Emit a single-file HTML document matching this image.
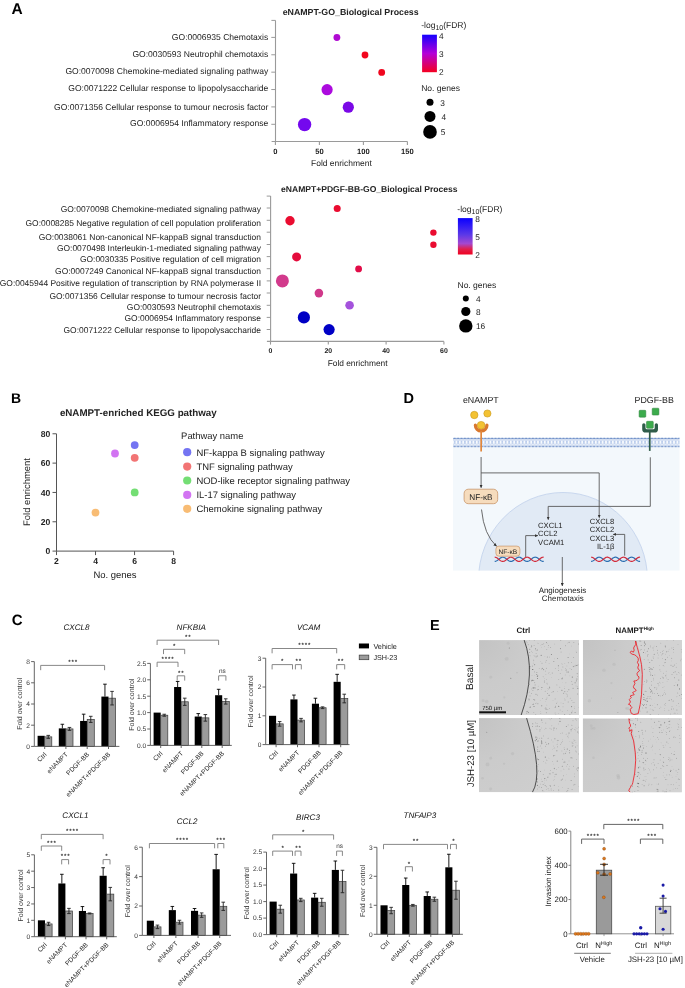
<!DOCTYPE html>
<html><head><meta charset="utf-8"><title>Figure</title>
<style>html,body{margin:0;padding:0;background:#fff;}svg{display:block;}text{font-family:'Liberation Sans', Arial, sans-serif;text-rendering:geometricPrecision;}</style>
</head><body>
<svg width="685" height="988" viewBox="0 0 685 988">
<rect width="685" height="988" fill="#fff"/>
<text x="11.60" y="14.18" font-size="15.5" font-weight="bold" fill="#000">A</text>
<text x="282.70" y="15.30" font-size="8.8" font-weight="bold" fill="#222">eNAMPT-GO_Biological Process</text>
<line x1="275.50" y1="20.40" x2="275.50" y2="141.50" stroke="#9a9a9a" stroke-width="1.1"/>
<line x1="271.40" y1="20.40" x2="275.50" y2="20.40" stroke="#9a9a9a" stroke-width="1"/>
<line x1="271.30" y1="37.40" x2="275.50" y2="37.40" stroke="#9a9a9a" stroke-width="1"/>
<text x="268.30" y="40.08" font-size="8.55" text-anchor="end" fill="#222">GO:0006935 Chemotaxis</text>
<line x1="271.30" y1="54.78" x2="275.50" y2="54.78" stroke="#9a9a9a" stroke-width="1"/>
<text x="268.30" y="57.28" font-size="8.55" text-anchor="end" fill="#222">GO:0030593 Neutrophil chemotaxis</text>
<line x1="271.30" y1="72.16" x2="275.50" y2="72.16" stroke="#9a9a9a" stroke-width="1"/>
<text x="268.30" y="74.38" font-size="8.55" text-anchor="end" fill="#222">GO:0070098 Chemokine-mediated signaling pathway</text>
<line x1="271.30" y1="89.54" x2="275.50" y2="89.54" stroke="#9a9a9a" stroke-width="1"/>
<text x="268.30" y="90.98" font-size="8.55" text-anchor="end" fill="#222">GO:0071222 Cellular response to lipopolysaccharide</text>
<line x1="271.30" y1="106.92" x2="275.50" y2="106.92" stroke="#9a9a9a" stroke-width="1"/>
<text x="268.30" y="109.78" font-size="8.55" text-anchor="end" fill="#222">GO:0071356 Cellular response to tumour necrosis factor</text>
<line x1="271.30" y1="124.30" x2="275.50" y2="124.30" stroke="#9a9a9a" stroke-width="1"/>
<text x="268.30" y="125.78" font-size="8.55" text-anchor="end" fill="#222">GO:0006954 Inflammatory response</text>
<line x1="271.60" y1="141.50" x2="407.40" y2="141.50" stroke="#9a9a9a" stroke-width="1.1"/>
<line x1="275.40" y1="141.50" x2="275.40" y2="145.00" stroke="#9a9a9a" stroke-width="1.1"/>
<text x="275.40" y="153.54" font-size="7.6" font-weight="bold" text-anchor="middle" fill="#222">0</text>
<line x1="319.40" y1="141.50" x2="319.40" y2="145.00" stroke="#9a9a9a" stroke-width="1.1"/>
<text x="319.40" y="153.54" font-size="7.6" font-weight="bold" text-anchor="middle" fill="#222">50</text>
<line x1="363.40" y1="141.50" x2="363.40" y2="145.00" stroke="#9a9a9a" stroke-width="1.1"/>
<text x="363.40" y="153.54" font-size="7.6" font-weight="bold" text-anchor="middle" fill="#222">100</text>
<line x1="407.40" y1="141.50" x2="407.40" y2="145.00" stroke="#9a9a9a" stroke-width="1.1"/>
<text x="407.40" y="153.54" font-size="7.6" font-weight="bold" text-anchor="middle" fill="#222">150</text>
<text x="341.40" y="165.95" font-size="8.47" text-anchor="middle" fill="#222">Fold enrichment</text>
<circle cx="336.90" cy="37.50" r="3.40" fill="#b00ad2"/>
<circle cx="365.00" cy="55.00" r="3.40" fill="#f2061e"/>
<circle cx="381.70" cy="72.40" r="3.40" fill="#f0061e"/>
<circle cx="327.10" cy="89.70" r="5.60" fill="#ac0ade"/>
<circle cx="348.30" cy="107.20" r="5.60" fill="#7a08e6"/>
<circle cx="304.60" cy="124.60" r="6.70" fill="#7408ee"/>
<defs><linearGradient id="g1" x1="0" y1="0" x2="0" y2="1"><stop offset="0" stop-color="#1400ff"/><stop offset="0.5" stop-color="#b400d8"/><stop offset="1" stop-color="#f40020"/></linearGradient><linearGradient id="g2" x1="0" y1="0" x2="0" y2="1"><stop offset="0" stop-color="#0a00ff"/><stop offset="0.45" stop-color="#5a38e8"/><stop offset="0.7" stop-color="#a448d0"/><stop offset="0.85" stop-color="#e0204c"/><stop offset="1" stop-color="#f00020"/></linearGradient></defs>
<text x="421.2" y="27.60" font-size="8.5" fill="#222">-log<tspan font-size="7" dy="2.2">10</tspan><tspan dy="-2.2">(FDR)</tspan></text>
<rect x="422.10" y="34.70" width="14.80" height="37.50" fill="url(#g1)"/>
<text x="439.00" y="38.79" font-size="8.3" fill="#222">4</text>
<text x="439.00" y="56.99" font-size="8.3" fill="#222">3</text>
<text x="439.00" y="75.39" font-size="8.3" fill="#222">2</text>
<text x="421.20" y="91.26" font-size="8.5" fill="#222">No. genes</text>
<circle cx="430.00" cy="102.30" r="3.50" fill="#000"/>
<text x="440.30" y="105.59" font-size="8.3" fill="#222">3</text>
<circle cx="430.00" cy="116.40" r="5.50" fill="#000"/>
<text x="441.40" y="119.69" font-size="8.3" fill="#222">4</text>
<circle cx="430.00" cy="131.90" r="6.80" fill="#000"/>
<text x="440.80" y="135.19" font-size="8.3" fill="#222">5</text>
<text x="281.10" y="191.50" font-size="8.56" font-weight="bold" fill="#222">eNAMPT+PDGF-BB-GO_Biological Process</text>
<line x1="270.60" y1="196.10" x2="270.60" y2="341.40" stroke="#9a9a9a" stroke-width="1.1"/>
<line x1="266.70" y1="196.10" x2="270.60" y2="196.10" stroke="#9a9a9a" stroke-width="1"/>
<line x1="266.70" y1="208.00" x2="270.60" y2="208.00" stroke="#9a9a9a" stroke-width="1"/>
<text x="261.00" y="211.94" font-size="8.45" text-anchor="end" fill="#222">GO:0070098 Chemokine-mediated signaling pathway</text>
<line x1="266.70" y1="220.30" x2="270.60" y2="220.30" stroke="#9a9a9a" stroke-width="1"/>
<text x="261.00" y="225.64" font-size="8.45" text-anchor="end" fill="#222">GO:0008285 Negative regulation of cell population proliferation</text>
<line x1="266.70" y1="232.20" x2="270.60" y2="232.20" stroke="#9a9a9a" stroke-width="1"/>
<text x="261.00" y="239.54" font-size="8.45" text-anchor="end" fill="#222">GO:0038061 Non-canonical NF-kappaB signal transduction</text>
<line x1="266.70" y1="244.50" x2="270.60" y2="244.50" stroke="#9a9a9a" stroke-width="1"/>
<text x="261.00" y="251.14" font-size="8.45" text-anchor="end" fill="#222">GO:0070498 Interleukin-1-mediated signaling pathway</text>
<line x1="266.70" y1="256.60" x2="270.60" y2="256.60" stroke="#9a9a9a" stroke-width="1"/>
<text x="261.00" y="262.44" font-size="8.45" text-anchor="end" fill="#222">GO:0030335 Positive regulation of cell migration</text>
<line x1="266.70" y1="268.70" x2="270.60" y2="268.70" stroke="#9a9a9a" stroke-width="1"/>
<text x="261.00" y="274.04" font-size="8.45" text-anchor="end" fill="#222">GO:0007249 Canonical NF-kappaB signal transduction</text>
<line x1="266.70" y1="280.90" x2="270.60" y2="280.90" stroke="#9a9a9a" stroke-width="1"/>
<text x="261.00" y="286.34" font-size="8.45" text-anchor="end" fill="#222">GO:0045944 Positive regulation of transcription by RNA polymerase II</text>
<line x1="266.70" y1="293.00" x2="270.60" y2="293.00" stroke="#9a9a9a" stroke-width="1"/>
<text x="261.00" y="298.84" font-size="8.45" text-anchor="end" fill="#222">GO:0071356 Cellular response to tumour necrosis factor</text>
<line x1="266.70" y1="305.30" x2="270.60" y2="305.30" stroke="#9a9a9a" stroke-width="1"/>
<text x="261.00" y="310.04" font-size="8.45" text-anchor="end" fill="#222">GO:0030593 Neutrophil chemotaxis</text>
<line x1="266.70" y1="317.40" x2="270.60" y2="317.40" stroke="#9a9a9a" stroke-width="1"/>
<text x="261.00" y="321.24" font-size="8.45" text-anchor="end" fill="#222">GO:0006954 Inflammatory response</text>
<line x1="266.70" y1="329.50" x2="270.60" y2="329.50" stroke="#9a9a9a" stroke-width="1"/>
<text x="261.00" y="332.94" font-size="8.45" text-anchor="end" fill="#222">GO:0071222 Cellular response to lipopolysaccharide</text>
<line x1="266.90" y1="341.40" x2="443.90" y2="341.40" stroke="#9a9a9a" stroke-width="1.1"/>
<line x1="270.50" y1="341.40" x2="270.50" y2="344.60" stroke="#9a9a9a" stroke-width="1.1"/>
<text x="270.50" y="352.68" font-size="6.9" font-weight="bold" text-anchor="middle" fill="#222">0</text>
<line x1="328.30" y1="341.40" x2="328.30" y2="344.60" stroke="#9a9a9a" stroke-width="1.1"/>
<text x="328.30" y="352.68" font-size="6.9" font-weight="bold" text-anchor="middle" fill="#222">20</text>
<line x1="386.10" y1="341.40" x2="386.10" y2="344.60" stroke="#9a9a9a" stroke-width="1.1"/>
<text x="386.10" y="352.68" font-size="6.9" font-weight="bold" text-anchor="middle" fill="#222">40</text>
<line x1="443.90" y1="341.40" x2="443.90" y2="344.60" stroke="#9a9a9a" stroke-width="1.1"/>
<text x="443.90" y="352.68" font-size="6.9" font-weight="bold" text-anchor="middle" fill="#222">60</text>
<text x="357.60" y="365.71" font-size="8.37" text-anchor="middle" fill="#222">Fold enrichment</text>
<circle cx="337.20" cy="208.50" r="3.50" fill="#ea0c30"/>
<circle cx="290.00" cy="220.70" r="4.70" fill="#ea0c30"/>
<circle cx="433.40" cy="232.60" r="3.20" fill="#ea0c30"/>
<circle cx="433.40" cy="244.70" r="3.20" fill="#ea0c30"/>
<circle cx="296.60" cy="256.90" r="4.50" fill="#e40c3c"/>
<circle cx="358.60" cy="268.90" r="3.40" fill="#e20c48"/>
<circle cx="282.40" cy="280.90" r="6.50" fill="#d23a8c"/>
<circle cx="318.90" cy="293.10" r="4.30" fill="#d0388a"/>
<circle cx="349.60" cy="305.30" r="4.30" fill="#a452dc"/>
<circle cx="303.90" cy="317.40" r="6.10" fill="#0000c4"/>
<circle cx="329.10" cy="329.60" r="5.60" fill="#0000c6"/>
<text x="457.3" y="212.00" font-size="8.5" fill="#222">-log<tspan font-size="7" dy="2.2">10</tspan><tspan dy="-2.2">(FDR)</tspan></text>
<rect x="457.90" y="218.10" width="14.70" height="36.40" fill="url(#g2)"/>
<text x="475.20" y="221.69" font-size="8.3" fill="#222">8</text>
<text x="475.20" y="239.59" font-size="8.3" fill="#222">5</text>
<text x="475.20" y="258.19" font-size="8.3" fill="#222">2</text>
<text x="457.50" y="287.96" font-size="8.5" fill="#222">No. genes</text>
<circle cx="465.80" cy="298.50" r="3.00" fill="#000"/>
<text x="476.00" y="301.69" font-size="8.3" fill="#222">4</text>
<circle cx="465.80" cy="311.50" r="4.60" fill="#000"/>
<text x="476.00" y="314.69" font-size="8.3" fill="#222">8</text>
<circle cx="465.80" cy="325.90" r="6.70" fill="#000"/>
<text x="476.00" y="329.09" font-size="8.3" fill="#222">16</text>
<text x="11.00" y="403.24" font-size="14" font-weight="bold" fill="#000">B</text>
<text x="59.90" y="416.10" font-size="9.78" font-weight="bold" fill="#222">eNAMPT-enriched KEGG pathway</text>
<line x1="56.50" y1="433.80" x2="56.50" y2="551.10" stroke="#555" stroke-width="1"/>
<line x1="52.50" y1="551.10" x2="56.50" y2="551.10" stroke="#555" stroke-width="1"/>
<text x="50.30" y="554.20" font-size="8.6" font-weight="bold" text-anchor="end" fill="#222">0</text>
<line x1="52.50" y1="521.77" x2="56.50" y2="521.77" stroke="#555" stroke-width="1"/>
<text x="50.30" y="524.87" font-size="8.6" font-weight="bold" text-anchor="end" fill="#222">20</text>
<line x1="52.50" y1="492.44" x2="56.50" y2="492.44" stroke="#555" stroke-width="1"/>
<text x="50.30" y="495.54" font-size="8.6" font-weight="bold" text-anchor="end" fill="#222">40</text>
<line x1="52.50" y1="463.11" x2="56.50" y2="463.11" stroke="#555" stroke-width="1"/>
<text x="50.30" y="466.21" font-size="8.6" font-weight="bold" text-anchor="end" fill="#222">60</text>
<line x1="52.50" y1="433.78" x2="56.50" y2="433.78" stroke="#555" stroke-width="1"/>
<text x="50.30" y="436.88" font-size="8.6" font-weight="bold" text-anchor="end" fill="#222">80</text>
<line x1="56.50" y1="551.10" x2="173.60" y2="551.10" stroke="#555" stroke-width="1"/>
<line x1="56.50" y1="551.10" x2="56.50" y2="555.10" stroke="#555" stroke-width="1"/>
<text x="56.50" y="563.90" font-size="8.6" font-weight="bold" text-anchor="middle" fill="#222">2</text>
<line x1="95.53" y1="551.10" x2="95.53" y2="555.10" stroke="#555" stroke-width="1"/>
<text x="95.53" y="563.90" font-size="8.6" font-weight="bold" text-anchor="middle" fill="#222">4</text>
<line x1="134.56" y1="551.10" x2="134.56" y2="555.10" stroke="#555" stroke-width="1"/>
<text x="134.56" y="563.90" font-size="8.6" font-weight="bold" text-anchor="middle" fill="#222">6</text>
<line x1="173.59" y1="551.10" x2="173.59" y2="555.10" stroke="#555" stroke-width="1"/>
<text x="173.59" y="563.90" font-size="8.6" font-weight="bold" text-anchor="middle" fill="#222">8</text>
<text x="115.00" y="578.41" font-size="9.46" text-anchor="middle" fill="#222">No. genes</text>
<text transform="translate(29.90,492) rotate(-90)" font-size="9.48" text-anchor="middle" fill="#222">Fold enrichment</text>
<circle cx="134.70" cy="445.10" r="3.90" fill="#7474f2"/>
<circle cx="134.70" cy="457.80" r="3.90" fill="#f27474"/>
<circle cx="134.70" cy="492.40" r="3.90" fill="#74de74"/>
<circle cx="115.00" cy="453.50" r="3.90" fill="#d274f2"/>
<circle cx="95.50" cy="512.60" r="3.90" fill="#f8bc74"/>
<text x="181.10" y="439.49" font-size="9.43" fill="#222">Pathway name</text>
<circle cx="187.20" cy="452.20" r="4.10" fill="#7474f2"/>
<text x="196.40" y="455.61" font-size="9.48" fill="#222">NF-kappa B signaling pathway</text>
<circle cx="187.20" cy="466.60" r="4.10" fill="#f27474"/>
<text x="196.40" y="470.01" font-size="9.48" fill="#222">TNF signaling pathway</text>
<circle cx="187.20" cy="480.50" r="4.10" fill="#74de74"/>
<text x="196.40" y="483.91" font-size="9.48" fill="#222">NOD-like receptor signaling pathway</text>
<circle cx="187.20" cy="494.90" r="4.10" fill="#d274f2"/>
<text x="196.40" y="498.31" font-size="9.48" fill="#222">IL-17 signaling pathway</text>
<circle cx="187.20" cy="508.80" r="4.10" fill="#f8bc74"/>
<text x="196.40" y="512.21" font-size="9.48" fill="#222">Chemokine signaling pathway</text>
<text x="11.80" y="625.00" font-size="15" font-weight="bold" fill="#000">C</text>
<text x="76.50" y="630.02" font-size="8.1" font-style="italic" text-anchor="middle" fill="#111">CXCL8</text>
<rect x="37.60" y="735.80" width="7.10" height="10.60" fill="#000"/>
<rect x="44.70" y="736.86" width="7.10" height="9.54" fill="#9b9b9b" stroke="#3a3a3a" stroke-width="0.7"/>
<line x1="48.25" y1="735.38" x2="48.25" y2="738.34" stroke="#222" stroke-width="0.9"/>
<line x1="46.45" y1="735.38" x2="50.05" y2="735.38" stroke="#222" stroke-width="0.9"/>
<line x1="46.45" y1="738.34" x2="50.05" y2="738.34" stroke="#222" stroke-width="0.9"/>
<line x1="62.35" y1="724.25" x2="62.35" y2="728.38" stroke="#000" stroke-width="0.9"/>
<line x1="60.55" y1="724.25" x2="64.15" y2="724.25" stroke="#000" stroke-width="0.9"/>
<rect x="58.80" y="728.38" width="7.10" height="18.02" fill="#000"/>
<rect x="65.90" y="728.91" width="7.10" height="17.49" fill="#9b9b9b" stroke="#3a3a3a" stroke-width="0.7"/>
<line x1="69.45" y1="727.43" x2="69.45" y2="730.39" stroke="#222" stroke-width="0.9"/>
<line x1="67.65" y1="727.43" x2="71.25" y2="727.43" stroke="#222" stroke-width="0.9"/>
<line x1="67.65" y1="730.39" x2="71.25" y2="730.39" stroke="#222" stroke-width="0.9"/>
<line x1="83.65" y1="714.18" x2="83.65" y2="720.96" stroke="#000" stroke-width="0.9"/>
<line x1="81.85" y1="714.18" x2="85.45" y2="714.18" stroke="#000" stroke-width="0.9"/>
<rect x="80.10" y="720.96" width="7.10" height="25.44" fill="#000"/>
<rect x="87.20" y="719.37" width="7.10" height="27.03" fill="#9b9b9b" stroke="#3a3a3a" stroke-width="0.7"/>
<line x1="90.75" y1="716.30" x2="90.75" y2="722.44" stroke="#222" stroke-width="0.9"/>
<line x1="88.95" y1="716.30" x2="92.55" y2="716.30" stroke="#222" stroke-width="0.9"/>
<line x1="88.95" y1="722.44" x2="92.55" y2="722.44" stroke="#222" stroke-width="0.9"/>
<line x1="104.95" y1="684.18" x2="104.95" y2="696.58" stroke="#000" stroke-width="0.9"/>
<line x1="103.15" y1="684.18" x2="106.75" y2="684.18" stroke="#000" stroke-width="0.9"/>
<rect x="101.40" y="696.58" width="7.10" height="49.82" fill="#000"/>
<rect x="108.50" y="698.17" width="7.10" height="48.23" fill="#9b9b9b" stroke="#3a3a3a" stroke-width="0.7"/>
<line x1="112.05" y1="691.39" x2="112.05" y2="704.95" stroke="#222" stroke-width="0.9"/>
<line x1="110.25" y1="691.39" x2="113.85" y2="691.39" stroke="#222" stroke-width="0.9"/>
<line x1="110.25" y1="704.95" x2="113.85" y2="704.95" stroke="#222" stroke-width="0.9"/>
<line x1="34.30" y1="661.60" x2="34.30" y2="746.40" stroke="#555" stroke-width="0.9"/>
<line x1="31.10" y1="746.40" x2="34.30" y2="746.40" stroke="#555" stroke-width="0.9"/>
<text x="30.00" y="748.78" font-size="6.6" text-anchor="end" fill="#333">0</text>
<line x1="31.10" y1="725.20" x2="34.30" y2="725.20" stroke="#555" stroke-width="0.9"/>
<text x="30.00" y="727.58" font-size="6.6" text-anchor="end" fill="#333">2</text>
<line x1="31.10" y1="704.00" x2="34.30" y2="704.00" stroke="#555" stroke-width="0.9"/>
<text x="30.00" y="706.38" font-size="6.6" text-anchor="end" fill="#333">4</text>
<line x1="31.10" y1="682.80" x2="34.30" y2="682.80" stroke="#555" stroke-width="0.9"/>
<text x="30.00" y="685.18" font-size="6.6" text-anchor="end" fill="#333">6</text>
<line x1="31.10" y1="661.60" x2="34.30" y2="661.60" stroke="#555" stroke-width="0.9"/>
<text x="30.00" y="663.98" font-size="6.6" text-anchor="end" fill="#333">8</text>
<line x1="34.30" y1="746.40" x2="119.40" y2="746.40" stroke="#555" stroke-width="0.9"/>
<line x1="44.70" y1="746.40" x2="44.70" y2="749.00" stroke="#555" stroke-width="0.9"/>
<line x1="65.90" y1="746.40" x2="65.90" y2="749.00" stroke="#555" stroke-width="0.9"/>
<line x1="87.20" y1="746.40" x2="87.20" y2="749.00" stroke="#555" stroke-width="0.9"/>
<line x1="108.50" y1="746.40" x2="108.50" y2="749.00" stroke="#555" stroke-width="0.9"/>
<text transform="translate(47.10,755.00) rotate(-45)" font-size="6.6" text-anchor="end" fill="#2a2a2a">Ctrl</text>
<text transform="translate(68.30,755.00) rotate(-45)" font-size="6.6" text-anchor="end" fill="#2a2a2a">eNAMPT</text>
<text transform="translate(89.60,755.00) rotate(-45)" font-size="6.6" text-anchor="end" fill="#2a2a2a">PDGF-BB</text>
<text transform="translate(110.90,755.00) rotate(-45)" font-size="6.6" text-anchor="end" fill="#2a2a2a">eNAMPT+PDGF-BB</text>
<text transform="translate(22.00,703.80) rotate(-90)" font-size="7.0" text-anchor="middle" fill="#333">Fold over control</text>
<path d="M40.70,670.20V665.40H104.60V670.20" fill="none" stroke="#7a7a7a" stroke-width="0.9"/>
<text x="73.07" y="664.23" font-size="6.2" font-weight="bold" text-anchor="middle" fill="#333" letter-spacing="0.85">***</text>
<text x="191.20" y="629.82" font-size="8.1" font-style="italic" text-anchor="middle" fill="#111">NFKBIA</text>
<rect x="153.60" y="712.60" width="7.10" height="32.80" fill="#000"/>
<rect x="160.70" y="715.22" width="7.10" height="30.18" fill="#9b9b9b" stroke="#3a3a3a" stroke-width="0.7"/>
<line x1="164.25" y1="714.24" x2="164.25" y2="716.21" stroke="#222" stroke-width="0.9"/>
<line x1="162.45" y1="714.24" x2="166.05" y2="714.24" stroke="#222" stroke-width="0.9"/>
<line x1="162.45" y1="716.21" x2="166.05" y2="716.21" stroke="#222" stroke-width="0.9"/>
<line x1="177.65" y1="681.44" x2="177.65" y2="687.02" stroke="#000" stroke-width="0.9"/>
<line x1="175.85" y1="681.44" x2="179.45" y2="681.44" stroke="#000" stroke-width="0.9"/>
<rect x="174.10" y="687.02" width="7.10" height="58.38" fill="#000"/>
<rect x="181.20" y="701.78" width="7.10" height="43.62" fill="#9b9b9b" stroke="#3a3a3a" stroke-width="0.7"/>
<line x1="184.75" y1="698.17" x2="184.75" y2="705.38" stroke="#222" stroke-width="0.9"/>
<line x1="182.95" y1="698.17" x2="186.55" y2="698.17" stroke="#222" stroke-width="0.9"/>
<line x1="182.95" y1="705.38" x2="186.55" y2="705.38" stroke="#222" stroke-width="0.9"/>
<line x1="198.25" y1="713.58" x2="198.25" y2="716.54" stroke="#000" stroke-width="0.9"/>
<line x1="196.45" y1="713.58" x2="200.05" y2="713.58" stroke="#000" stroke-width="0.9"/>
<rect x="194.70" y="716.54" width="7.10" height="28.86" fill="#000"/>
<rect x="201.80" y="717.85" width="7.10" height="27.55" fill="#9b9b9b" stroke="#3a3a3a" stroke-width="0.7"/>
<line x1="205.35" y1="714.57" x2="205.35" y2="721.13" stroke="#222" stroke-width="0.9"/>
<line x1="203.55" y1="714.57" x2="207.15" y2="714.57" stroke="#222" stroke-width="0.9"/>
<line x1="203.55" y1="721.13" x2="207.15" y2="721.13" stroke="#222" stroke-width="0.9"/>
<line x1="218.65" y1="689.31" x2="218.65" y2="695.22" stroke="#000" stroke-width="0.9"/>
<line x1="216.85" y1="689.31" x2="220.45" y2="689.31" stroke="#000" stroke-width="0.9"/>
<rect x="215.10" y="695.22" width="7.10" height="50.18" fill="#000"/>
<rect x="222.20" y="701.45" width="7.10" height="43.95" fill="#9b9b9b" stroke="#3a3a3a" stroke-width="0.7"/>
<line x1="225.75" y1="698.82" x2="225.75" y2="704.07" stroke="#222" stroke-width="0.9"/>
<line x1="223.95" y1="698.82" x2="227.55" y2="698.82" stroke="#222" stroke-width="0.9"/>
<line x1="223.95" y1="704.07" x2="227.55" y2="704.07" stroke="#222" stroke-width="0.9"/>
<line x1="150.40" y1="663.40" x2="150.40" y2="745.40" stroke="#555" stroke-width="0.9"/>
<line x1="147.20" y1="745.40" x2="150.40" y2="745.40" stroke="#555" stroke-width="0.9"/>
<text x="146.10" y="747.78" font-size="6.6" text-anchor="end" fill="#333">0.0</text>
<line x1="147.20" y1="729.00" x2="150.40" y2="729.00" stroke="#555" stroke-width="0.9"/>
<text x="146.10" y="731.38" font-size="6.6" text-anchor="end" fill="#333">0.5</text>
<line x1="147.20" y1="712.60" x2="150.40" y2="712.60" stroke="#555" stroke-width="0.9"/>
<text x="146.10" y="714.98" font-size="6.6" text-anchor="end" fill="#333">1.0</text>
<line x1="147.20" y1="696.20" x2="150.40" y2="696.20" stroke="#555" stroke-width="0.9"/>
<text x="146.10" y="698.58" font-size="6.6" text-anchor="end" fill="#333">1.5</text>
<line x1="147.20" y1="679.80" x2="150.40" y2="679.80" stroke="#555" stroke-width="0.9"/>
<text x="146.10" y="682.18" font-size="6.6" text-anchor="end" fill="#333">2.0</text>
<line x1="147.20" y1="663.40" x2="150.40" y2="663.40" stroke="#555" stroke-width="0.9"/>
<text x="146.10" y="665.78" font-size="6.6" text-anchor="end" fill="#333">2.5</text>
<line x1="150.40" y1="745.40" x2="231.80" y2="745.40" stroke="#555" stroke-width="0.9"/>
<line x1="160.70" y1="745.40" x2="160.70" y2="748.00" stroke="#555" stroke-width="0.9"/>
<line x1="181.20" y1="745.40" x2="181.20" y2="748.00" stroke="#555" stroke-width="0.9"/>
<line x1="201.80" y1="745.40" x2="201.80" y2="748.00" stroke="#555" stroke-width="0.9"/>
<line x1="222.20" y1="745.40" x2="222.20" y2="748.00" stroke="#555" stroke-width="0.9"/>
<text transform="translate(163.10,754.00) rotate(-45)" font-size="6.6" text-anchor="end" fill="#2a2a2a">Ctrl</text>
<text transform="translate(183.60,754.00) rotate(-45)" font-size="6.6" text-anchor="end" fill="#2a2a2a">eNAMPT</text>
<text transform="translate(204.20,754.00) rotate(-45)" font-size="6.6" text-anchor="end" fill="#2a2a2a">PDGF-BB</text>
<text transform="translate(224.60,754.00) rotate(-45)" font-size="6.6" text-anchor="end" fill="#2a2a2a">eNAMPT+PDGF-BB</text>
<text transform="translate(133.60,704.70) rotate(-90)" font-size="7.0" text-anchor="middle" fill="#333">Fold over control</text>
<path d="M157.10,645.00V640.20H218.60V645.00" fill="none" stroke="#7a7a7a" stroke-width="0.9"/>
<text x="188.27" y="639.03" font-size="6.2" font-weight="bold" text-anchor="middle" fill="#333" letter-spacing="0.85">**</text>
<path d="M163.50,654.10V649.30H184.70V654.10" fill="none" stroke="#7a7a7a" stroke-width="0.9"/>
<text x="174.52" y="648.13" font-size="6.2" font-weight="bold" text-anchor="middle" fill="#333" letter-spacing="0.85">*</text>
<path d="M157.10,667.00V662.20H178.00V667.00" fill="none" stroke="#7a7a7a" stroke-width="0.9"/>
<text x="167.97" y="661.03" font-size="6.2" font-weight="bold" text-anchor="middle" fill="#333" letter-spacing="0.85">****</text>
<path d="M177.20,680.60V675.80H184.70V680.60" fill="none" stroke="#7a7a7a" stroke-width="0.9"/>
<text x="181.37" y="674.63" font-size="6.2" font-weight="bold" text-anchor="middle" fill="#333" letter-spacing="0.85">**</text>
<path d="M218.60,680.60V675.80H225.90V680.60" fill="none" stroke="#7a7a7a" stroke-width="0.9"/>
<text x="222.25" y="673.10" font-size="6.4" text-anchor="middle" fill="#333">ns</text>
<text x="308.60" y="629.82" font-size="8.1" font-style="italic" text-anchor="middle" fill="#111">VCAM</text>
<rect x="269.00" y="715.80" width="7.10" height="28.80" fill="#000"/>
<rect x="276.10" y="723.86" width="7.10" height="20.74" fill="#9b9b9b" stroke="#3a3a3a" stroke-width="0.7"/>
<line x1="279.65" y1="721.56" x2="279.65" y2="726.17" stroke="#222" stroke-width="0.9"/>
<line x1="277.85" y1="721.56" x2="281.45" y2="721.56" stroke="#222" stroke-width="0.9"/>
<line x1="277.85" y1="726.17" x2="281.45" y2="726.17" stroke="#222" stroke-width="0.9"/>
<line x1="293.95" y1="695.06" x2="293.95" y2="699.38" stroke="#000" stroke-width="0.9"/>
<line x1="292.15" y1="695.06" x2="295.75" y2="695.06" stroke="#000" stroke-width="0.9"/>
<rect x="290.40" y="699.38" width="7.10" height="45.22" fill="#000"/>
<rect x="297.50" y="720.12" width="7.10" height="24.48" fill="#9b9b9b" stroke="#3a3a3a" stroke-width="0.7"/>
<line x1="301.05" y1="718.39" x2="301.05" y2="721.85" stroke="#222" stroke-width="0.9"/>
<line x1="299.25" y1="718.39" x2="302.85" y2="718.39" stroke="#222" stroke-width="0.9"/>
<line x1="299.25" y1="721.85" x2="302.85" y2="721.85" stroke="#222" stroke-width="0.9"/>
<line x1="315.45" y1="698.23" x2="315.45" y2="703.70" stroke="#000" stroke-width="0.9"/>
<line x1="313.65" y1="698.23" x2="317.25" y2="698.23" stroke="#000" stroke-width="0.9"/>
<rect x="311.90" y="703.70" width="7.10" height="40.90" fill="#000"/>
<rect x="319.00" y="707.74" width="7.10" height="36.86" fill="#9b9b9b" stroke="#3a3a3a" stroke-width="0.7"/>
<line x1="322.55" y1="706.87" x2="322.55" y2="708.60" stroke="#222" stroke-width="0.9"/>
<line x1="320.75" y1="706.87" x2="324.35" y2="706.87" stroke="#222" stroke-width="0.9"/>
<line x1="320.75" y1="708.60" x2="324.35" y2="708.60" stroke="#222" stroke-width="0.9"/>
<line x1="337.15" y1="674.33" x2="337.15" y2="681.82" stroke="#000" stroke-width="0.9"/>
<line x1="335.35" y1="674.33" x2="338.95" y2="674.33" stroke="#000" stroke-width="0.9"/>
<rect x="333.60" y="681.82" width="7.10" height="62.78" fill="#000"/>
<rect x="340.70" y="698.52" width="7.10" height="46.08" fill="#9b9b9b" stroke="#3a3a3a" stroke-width="0.7"/>
<line x1="344.25" y1="694.20" x2="344.25" y2="702.84" stroke="#222" stroke-width="0.9"/>
<line x1="342.45" y1="694.20" x2="346.05" y2="694.20" stroke="#222" stroke-width="0.9"/>
<line x1="342.45" y1="702.84" x2="346.05" y2="702.84" stroke="#222" stroke-width="0.9"/>
<line x1="265.70" y1="658.20" x2="265.70" y2="744.60" stroke="#555" stroke-width="0.9"/>
<line x1="262.50" y1="744.60" x2="265.70" y2="744.60" stroke="#555" stroke-width="0.9"/>
<text x="261.40" y="746.98" font-size="6.6" text-anchor="end" fill="#333">0</text>
<line x1="262.50" y1="715.80" x2="265.70" y2="715.80" stroke="#555" stroke-width="0.9"/>
<text x="261.40" y="718.18" font-size="6.6" text-anchor="end" fill="#333">1</text>
<line x1="262.50" y1="687.00" x2="265.70" y2="687.00" stroke="#555" stroke-width="0.9"/>
<text x="261.40" y="689.38" font-size="6.6" text-anchor="end" fill="#333">2</text>
<line x1="262.50" y1="658.20" x2="265.70" y2="658.20" stroke="#555" stroke-width="0.9"/>
<text x="261.40" y="660.58" font-size="6.6" text-anchor="end" fill="#333">3</text>
<line x1="265.70" y1="744.60" x2="349.50" y2="744.60" stroke="#555" stroke-width="0.9"/>
<line x1="276.10" y1="744.60" x2="276.10" y2="747.20" stroke="#555" stroke-width="0.9"/>
<line x1="297.50" y1="744.60" x2="297.50" y2="747.20" stroke="#555" stroke-width="0.9"/>
<line x1="319.00" y1="744.60" x2="319.00" y2="747.20" stroke="#555" stroke-width="0.9"/>
<line x1="340.70" y1="744.60" x2="340.70" y2="747.20" stroke="#555" stroke-width="0.9"/>
<text transform="translate(278.50,753.20) rotate(-45)" font-size="6.6" text-anchor="end" fill="#2a2a2a">Ctrl</text>
<text transform="translate(299.90,753.20) rotate(-45)" font-size="6.6" text-anchor="end" fill="#2a2a2a">eNAMPT</text>
<text transform="translate(321.40,753.20) rotate(-45)" font-size="6.6" text-anchor="end" fill="#2a2a2a">PDGF-BB</text>
<text transform="translate(343.10,753.20) rotate(-45)" font-size="6.6" text-anchor="end" fill="#2a2a2a">eNAMPT+PDGF-BB</text>
<text transform="translate(252.90,701.50) rotate(-90)" font-size="7.0" text-anchor="middle" fill="#333">Fold over control</text>
<path d="M272.10,653.30V648.50H336.70V653.30" fill="none" stroke="#7a7a7a" stroke-width="0.9"/>
<text x="304.82" y="647.33" font-size="6.2" font-weight="bold" text-anchor="middle" fill="#333" letter-spacing="0.85">****</text>
<path d="M272.10,669.40V664.60H292.50V669.40" fill="none" stroke="#7a7a7a" stroke-width="0.9"/>
<text x="282.72" y="663.43" font-size="6.2" font-weight="bold" text-anchor="middle" fill="#333" letter-spacing="0.85">*</text>
<path d="M295.40,669.40V664.60H301.30V669.40" fill="none" stroke="#7a7a7a" stroke-width="0.9"/>
<text x="298.77" y="663.43" font-size="6.2" font-weight="bold" text-anchor="middle" fill="#333" letter-spacing="0.85">**</text>
<path d="M336.70,669.40V664.60H344.70V669.40" fill="none" stroke="#7a7a7a" stroke-width="0.9"/>
<text x="341.12" y="663.43" font-size="6.2" font-weight="bold" text-anchor="middle" fill="#333" letter-spacing="0.85">**</text>
<text x="75.40" y="817.92" font-size="8.1" font-style="italic" text-anchor="middle" fill="#111">CXCL1</text>
<rect x="37.90" y="920.32" width="7.10" height="16.38" fill="#000"/>
<rect x="45.00" y="923.92" width="7.10" height="12.78" fill="#9b9b9b" stroke="#3a3a3a" stroke-width="0.7"/>
<line x1="48.55" y1="922.29" x2="48.55" y2="925.56" stroke="#222" stroke-width="0.9"/>
<line x1="46.75" y1="922.29" x2="50.35" y2="922.29" stroke="#222" stroke-width="0.9"/>
<line x1="46.75" y1="925.56" x2="50.35" y2="925.56" stroke="#222" stroke-width="0.9"/>
<line x1="61.85" y1="874.29" x2="61.85" y2="883.47" stroke="#000" stroke-width="0.9"/>
<line x1="60.05" y1="874.29" x2="63.65" y2="874.29" stroke="#000" stroke-width="0.9"/>
<rect x="58.30" y="883.47" width="7.10" height="53.24" fill="#000"/>
<rect x="65.40" y="910.98" width="7.10" height="25.72" fill="#9b9b9b" stroke="#3a3a3a" stroke-width="0.7"/>
<line x1="68.95" y1="908.36" x2="68.95" y2="913.60" stroke="#222" stroke-width="0.9"/>
<line x1="67.15" y1="908.36" x2="70.75" y2="908.36" stroke="#222" stroke-width="0.9"/>
<line x1="67.15" y1="913.60" x2="70.75" y2="913.60" stroke="#222" stroke-width="0.9"/>
<line x1="82.45" y1="906.56" x2="82.45" y2="910.98" stroke="#000" stroke-width="0.9"/>
<line x1="80.65" y1="906.56" x2="84.25" y2="906.56" stroke="#000" stroke-width="0.9"/>
<rect x="78.90" y="910.98" width="7.10" height="25.72" fill="#000"/>
<rect x="86.00" y="913.44" width="7.10" height="23.26" fill="#9b9b9b" stroke="#3a3a3a" stroke-width="0.7"/>
<line x1="89.55" y1="912.95" x2="89.55" y2="913.93" stroke="#222" stroke-width="0.9"/>
<line x1="87.75" y1="912.95" x2="91.35" y2="912.95" stroke="#222" stroke-width="0.9"/>
<line x1="87.75" y1="913.93" x2="91.35" y2="913.93" stroke="#222" stroke-width="0.9"/>
<line x1="103.15" y1="867.74" x2="103.15" y2="875.77" stroke="#000" stroke-width="0.9"/>
<line x1="101.35" y1="867.74" x2="104.95" y2="867.74" stroke="#000" stroke-width="0.9"/>
<rect x="99.60" y="875.77" width="7.10" height="60.93" fill="#000"/>
<rect x="106.70" y="894.11" width="7.10" height="42.59" fill="#9b9b9b" stroke="#3a3a3a" stroke-width="0.7"/>
<line x1="110.25" y1="887.40" x2="110.25" y2="900.83" stroke="#222" stroke-width="0.9"/>
<line x1="108.45" y1="887.40" x2="112.05" y2="887.40" stroke="#222" stroke-width="0.9"/>
<line x1="108.45" y1="900.83" x2="112.05" y2="900.83" stroke="#222" stroke-width="0.9"/>
<line x1="34.40" y1="854.80" x2="34.40" y2="936.70" stroke="#555" stroke-width="0.9"/>
<line x1="31.20" y1="936.70" x2="34.40" y2="936.70" stroke="#555" stroke-width="0.9"/>
<text x="30.10" y="939.08" font-size="6.6" text-anchor="end" fill="#333">0</text>
<line x1="31.20" y1="920.32" x2="34.40" y2="920.32" stroke="#555" stroke-width="0.9"/>
<text x="30.10" y="922.70" font-size="6.6" text-anchor="end" fill="#333">1</text>
<line x1="31.20" y1="903.94" x2="34.40" y2="903.94" stroke="#555" stroke-width="0.9"/>
<text x="30.10" y="906.32" font-size="6.6" text-anchor="end" fill="#333">2</text>
<line x1="31.20" y1="887.56" x2="34.40" y2="887.56" stroke="#555" stroke-width="0.9"/>
<text x="30.10" y="889.94" font-size="6.6" text-anchor="end" fill="#333">3</text>
<line x1="31.20" y1="871.18" x2="34.40" y2="871.18" stroke="#555" stroke-width="0.9"/>
<text x="30.10" y="873.56" font-size="6.6" text-anchor="end" fill="#333">4</text>
<line x1="31.20" y1="854.80" x2="34.40" y2="854.80" stroke="#555" stroke-width="0.9"/>
<text x="30.10" y="857.18" font-size="6.6" text-anchor="end" fill="#333">5</text>
<line x1="34.40" y1="936.70" x2="116.80" y2="936.70" stroke="#555" stroke-width="0.9"/>
<line x1="45.00" y1="936.70" x2="45.00" y2="939.30" stroke="#555" stroke-width="0.9"/>
<line x1="65.40" y1="936.70" x2="65.40" y2="939.30" stroke="#555" stroke-width="0.9"/>
<line x1="86.00" y1="936.70" x2="86.00" y2="939.30" stroke="#555" stroke-width="0.9"/>
<line x1="106.70" y1="936.70" x2="106.70" y2="939.30" stroke="#555" stroke-width="0.9"/>
<text transform="translate(47.40,945.30) rotate(-45)" font-size="6.6" text-anchor="end" fill="#2a2a2a">Ctrl</text>
<text transform="translate(67.80,945.30) rotate(-45)" font-size="6.6" text-anchor="end" fill="#2a2a2a">eNAMPT</text>
<text transform="translate(88.40,945.30) rotate(-45)" font-size="6.6" text-anchor="end" fill="#2a2a2a">PDGF-BB</text>
<text transform="translate(109.10,945.30) rotate(-45)" font-size="6.6" text-anchor="end" fill="#2a2a2a">eNAMPT+PDGF-BB</text>
<text transform="translate(22.90,895.50) rotate(-90)" font-size="7.0" text-anchor="middle" fill="#333">Fold over control</text>
<path d="M41.30,839.20V834.40H103.10V839.20" fill="none" stroke="#7a7a7a" stroke-width="0.9"/>
<text x="72.62" y="833.23" font-size="6.2" font-weight="bold" text-anchor="middle" fill="#333" letter-spacing="0.85">****</text>
<path d="M41.30,850.80V846.00H61.70V850.80" fill="none" stroke="#7a7a7a" stroke-width="0.9"/>
<text x="51.92" y="844.83" font-size="6.2" font-weight="bold" text-anchor="middle" fill="#333" letter-spacing="0.85">***</text>
<path d="M61.70,864.40V859.60H68.60V864.40" fill="none" stroke="#7a7a7a" stroke-width="0.9"/>
<text x="65.57" y="858.43" font-size="6.2" font-weight="bold" text-anchor="middle" fill="#333" letter-spacing="0.85">***</text>
<path d="M103.10,864.40V859.60H110.00V864.40" fill="none" stroke="#7a7a7a" stroke-width="0.9"/>
<text x="106.97" y="858.43" font-size="6.2" font-weight="bold" text-anchor="middle" fill="#333" letter-spacing="0.85">*</text>
<text x="187.10" y="824.32" font-size="8.1" font-style="italic" text-anchor="middle" fill="#111">CCL2</text>
<rect x="146.80" y="920.70" width="7.10" height="14.70" fill="#000"/>
<rect x="153.90" y="926.87" width="7.10" height="8.53" fill="#9b9b9b" stroke="#3a3a3a" stroke-width="0.7"/>
<line x1="157.45" y1="925.11" x2="157.45" y2="928.64" stroke="#222" stroke-width="0.9"/>
<line x1="155.65" y1="925.11" x2="159.25" y2="925.11" stroke="#222" stroke-width="0.9"/>
<line x1="155.65" y1="928.64" x2="159.25" y2="928.64" stroke="#222" stroke-width="0.9"/>
<line x1="172.35" y1="906.44" x2="172.35" y2="910.12" stroke="#000" stroke-width="0.9"/>
<line x1="170.55" y1="906.44" x2="174.15" y2="906.44" stroke="#000" stroke-width="0.9"/>
<rect x="168.80" y="910.12" width="7.10" height="25.28" fill="#000"/>
<rect x="175.90" y="922.17" width="7.10" height="13.23" fill="#9b9b9b" stroke="#3a3a3a" stroke-width="0.7"/>
<line x1="179.45" y1="920.26" x2="179.45" y2="924.08" stroke="#222" stroke-width="0.9"/>
<line x1="177.65" y1="920.26" x2="181.25" y2="920.26" stroke="#222" stroke-width="0.9"/>
<line x1="177.65" y1="924.08" x2="181.25" y2="924.08" stroke="#222" stroke-width="0.9"/>
<line x1="194.55" y1="908.50" x2="194.55" y2="910.85" stroke="#000" stroke-width="0.9"/>
<line x1="192.75" y1="908.50" x2="196.35" y2="908.50" stroke="#000" stroke-width="0.9"/>
<rect x="191.00" y="910.85" width="7.10" height="24.55" fill="#000"/>
<rect x="198.10" y="915.11" width="7.10" height="20.29" fill="#9b9b9b" stroke="#3a3a3a" stroke-width="0.7"/>
<line x1="201.65" y1="912.91" x2="201.65" y2="917.32" stroke="#222" stroke-width="0.9"/>
<line x1="199.85" y1="912.91" x2="203.45" y2="912.91" stroke="#222" stroke-width="0.9"/>
<line x1="199.85" y1="917.32" x2="203.45" y2="917.32" stroke="#222" stroke-width="0.9"/>
<line x1="216.15" y1="854.40" x2="216.15" y2="869.25" stroke="#000" stroke-width="0.9"/>
<line x1="214.35" y1="854.40" x2="217.95" y2="854.40" stroke="#000" stroke-width="0.9"/>
<rect x="212.60" y="869.25" width="7.10" height="66.15" fill="#000"/>
<rect x="219.70" y="906.29" width="7.10" height="29.11" fill="#9b9b9b" stroke="#3a3a3a" stroke-width="0.7"/>
<line x1="223.25" y1="902.18" x2="223.25" y2="910.41" stroke="#222" stroke-width="0.9"/>
<line x1="221.45" y1="902.18" x2="225.05" y2="902.18" stroke="#222" stroke-width="0.9"/>
<line x1="221.45" y1="910.41" x2="225.05" y2="910.41" stroke="#222" stroke-width="0.9"/>
<line x1="142.30" y1="847.20" x2="142.30" y2="935.40" stroke="#555" stroke-width="0.9"/>
<line x1="139.10" y1="935.40" x2="142.30" y2="935.40" stroke="#555" stroke-width="0.9"/>
<text x="138.00" y="937.78" font-size="6.6" text-anchor="end" fill="#333">0</text>
<line x1="139.10" y1="906.00" x2="142.30" y2="906.00" stroke="#555" stroke-width="0.9"/>
<text x="138.00" y="908.38" font-size="6.6" text-anchor="end" fill="#333">2</text>
<line x1="139.10" y1="876.60" x2="142.30" y2="876.60" stroke="#555" stroke-width="0.9"/>
<text x="138.00" y="878.98" font-size="6.6" text-anchor="end" fill="#333">4</text>
<line x1="139.10" y1="847.20" x2="142.30" y2="847.20" stroke="#555" stroke-width="0.9"/>
<text x="138.00" y="849.58" font-size="6.6" text-anchor="end" fill="#333">6</text>
<line x1="142.30" y1="935.40" x2="231.00" y2="935.40" stroke="#555" stroke-width="0.9"/>
<line x1="153.90" y1="935.40" x2="153.90" y2="938.00" stroke="#555" stroke-width="0.9"/>
<line x1="175.90" y1="935.40" x2="175.90" y2="938.00" stroke="#555" stroke-width="0.9"/>
<line x1="198.10" y1="935.40" x2="198.10" y2="938.00" stroke="#555" stroke-width="0.9"/>
<line x1="219.70" y1="935.40" x2="219.70" y2="938.00" stroke="#555" stroke-width="0.9"/>
<text transform="translate(156.30,944.00) rotate(-45)" font-size="6.6" text-anchor="end" fill="#2a2a2a">Ctrl</text>
<text transform="translate(178.30,944.00) rotate(-45)" font-size="6.6" text-anchor="end" fill="#2a2a2a">eNAMPT</text>
<text transform="translate(200.50,944.00) rotate(-45)" font-size="6.6" text-anchor="end" fill="#2a2a2a">PDGF-BB</text>
<text transform="translate(222.10,944.00) rotate(-45)" font-size="6.6" text-anchor="end" fill="#2a2a2a">eNAMPT+PDGF-BB</text>
<text transform="translate(130.40,891.30) rotate(-90)" font-size="7.0" text-anchor="middle" fill="#333">Fold over control</text>
<path d="M149.40,848.30V843.50H214.60V848.30" fill="none" stroke="#7a7a7a" stroke-width="0.9"/>
<text x="182.42" y="842.33" font-size="6.2" font-weight="bold" text-anchor="middle" fill="#333" letter-spacing="0.85">****</text>
<path d="M217.80,848.30V843.50H223.80V848.30" fill="none" stroke="#7a7a7a" stroke-width="0.9"/>
<text x="221.22" y="842.33" font-size="6.2" font-weight="bold" text-anchor="middle" fill="#333" letter-spacing="0.85">***</text>
<text x="308.00" y="820.22" font-size="8.1" font-style="italic" text-anchor="middle" fill="#111">BIRC3</text>
<rect x="269.60" y="901.60" width="7.10" height="33.00" fill="#000"/>
<rect x="276.70" y="909.19" width="7.10" height="25.41" fill="#9b9b9b" stroke="#3a3a3a" stroke-width="0.7"/>
<line x1="280.25" y1="905.23" x2="280.25" y2="913.15" stroke="#222" stroke-width="0.9"/>
<line x1="278.45" y1="905.23" x2="282.05" y2="905.23" stroke="#222" stroke-width="0.9"/>
<line x1="278.45" y1="913.15" x2="282.05" y2="913.15" stroke="#222" stroke-width="0.9"/>
<line x1="293.65" y1="863.32" x2="293.65" y2="873.55" stroke="#000" stroke-width="0.9"/>
<line x1="291.85" y1="863.32" x2="295.45" y2="863.32" stroke="#000" stroke-width="0.9"/>
<rect x="290.10" y="873.55" width="7.10" height="61.05" fill="#000"/>
<rect x="297.20" y="899.95" width="7.10" height="34.65" fill="#9b9b9b" stroke="#3a3a3a" stroke-width="0.7"/>
<line x1="300.75" y1="898.30" x2="300.75" y2="901.60" stroke="#222" stroke-width="0.9"/>
<line x1="298.95" y1="898.30" x2="302.55" y2="898.30" stroke="#222" stroke-width="0.9"/>
<line x1="298.95" y1="901.60" x2="302.55" y2="901.60" stroke="#222" stroke-width="0.9"/>
<line x1="314.65" y1="893.35" x2="314.65" y2="897.64" stroke="#000" stroke-width="0.9"/>
<line x1="312.85" y1="893.35" x2="316.45" y2="893.35" stroke="#000" stroke-width="0.9"/>
<rect x="311.10" y="897.64" width="7.10" height="36.96" fill="#000"/>
<rect x="318.20" y="902.26" width="7.10" height="32.34" fill="#9b9b9b" stroke="#3a3a3a" stroke-width="0.7"/>
<line x1="321.75" y1="898.30" x2="321.75" y2="906.22" stroke="#222" stroke-width="0.9"/>
<line x1="319.95" y1="898.30" x2="323.55" y2="898.30" stroke="#222" stroke-width="0.9"/>
<line x1="319.95" y1="906.22" x2="323.55" y2="906.22" stroke="#222" stroke-width="0.9"/>
<line x1="335.35" y1="861.01" x2="335.35" y2="869.92" stroke="#000" stroke-width="0.9"/>
<line x1="333.55" y1="861.01" x2="337.15" y2="861.01" stroke="#000" stroke-width="0.9"/>
<rect x="331.80" y="869.92" width="7.10" height="64.68" fill="#000"/>
<rect x="338.90" y="881.47" width="7.10" height="53.13" fill="#9b9b9b" stroke="#3a3a3a" stroke-width="0.7"/>
<line x1="342.45" y1="870.25" x2="342.45" y2="892.69" stroke="#222" stroke-width="0.9"/>
<line x1="340.65" y1="870.25" x2="344.25" y2="870.25" stroke="#222" stroke-width="0.9"/>
<line x1="340.65" y1="892.69" x2="344.25" y2="892.69" stroke="#222" stroke-width="0.9"/>
<line x1="266.50" y1="852.10" x2="266.50" y2="934.60" stroke="#555" stroke-width="0.9"/>
<line x1="263.30" y1="934.60" x2="266.50" y2="934.60" stroke="#555" stroke-width="0.9"/>
<text x="262.20" y="936.98" font-size="6.6" text-anchor="end" fill="#333">0.0</text>
<line x1="263.30" y1="918.10" x2="266.50" y2="918.10" stroke="#555" stroke-width="0.9"/>
<text x="262.20" y="920.48" font-size="6.6" text-anchor="end" fill="#333">0.5</text>
<line x1="263.30" y1="901.60" x2="266.50" y2="901.60" stroke="#555" stroke-width="0.9"/>
<text x="262.20" y="903.98" font-size="6.6" text-anchor="end" fill="#333">1.0</text>
<line x1="263.30" y1="885.10" x2="266.50" y2="885.10" stroke="#555" stroke-width="0.9"/>
<text x="262.20" y="887.48" font-size="6.6" text-anchor="end" fill="#333">1.5</text>
<line x1="263.30" y1="868.60" x2="266.50" y2="868.60" stroke="#555" stroke-width="0.9"/>
<text x="262.20" y="870.98" font-size="6.6" text-anchor="end" fill="#333">2.0</text>
<line x1="263.30" y1="852.10" x2="266.50" y2="852.10" stroke="#555" stroke-width="0.9"/>
<text x="262.20" y="854.48" font-size="6.6" text-anchor="end" fill="#333">2.5</text>
<line x1="266.50" y1="934.60" x2="348.90" y2="934.60" stroke="#555" stroke-width="0.9"/>
<line x1="276.70" y1="934.60" x2="276.70" y2="937.20" stroke="#555" stroke-width="0.9"/>
<line x1="297.20" y1="934.60" x2="297.20" y2="937.20" stroke="#555" stroke-width="0.9"/>
<line x1="318.20" y1="934.60" x2="318.20" y2="937.20" stroke="#555" stroke-width="0.9"/>
<line x1="338.90" y1="934.60" x2="338.90" y2="937.20" stroke="#555" stroke-width="0.9"/>
<text transform="translate(279.10,943.20) rotate(-45)" font-size="6.6" text-anchor="end" fill="#2a2a2a">Ctrl</text>
<text transform="translate(299.60,943.20) rotate(-45)" font-size="6.6" text-anchor="end" fill="#2a2a2a">eNAMPT</text>
<text transform="translate(320.60,943.20) rotate(-45)" font-size="6.6" text-anchor="end" fill="#2a2a2a">PDGF-BB</text>
<text transform="translate(341.30,943.20) rotate(-45)" font-size="6.6" text-anchor="end" fill="#2a2a2a">eNAMPT+PDGF-BB</text>
<text transform="translate(249.40,893.20) rotate(-90)" font-size="7.0" text-anchor="middle" fill="#333">Fold over control</text>
<path d="M272.70,839.60V834.80H333.60V839.60" fill="none" stroke="#7a7a7a" stroke-width="0.9"/>
<text x="303.57" y="833.63" font-size="6.2" font-weight="bold" text-anchor="middle" fill="#333" letter-spacing="0.85">*</text>
<path d="M272.70,855.90V851.10H292.50V855.90" fill="none" stroke="#7a7a7a" stroke-width="0.9"/>
<text x="283.02" y="849.93" font-size="6.2" font-weight="bold" text-anchor="middle" fill="#333" letter-spacing="0.85">*</text>
<path d="M295.10,855.90V851.10H301.00V855.90" fill="none" stroke="#7a7a7a" stroke-width="0.9"/>
<text x="298.47" y="849.93" font-size="6.2" font-weight="bold" text-anchor="middle" fill="#333" letter-spacing="0.85">**</text>
<path d="M336.60,855.90V851.10H342.40V855.90" fill="none" stroke="#7a7a7a" stroke-width="0.9"/>
<text x="339.50" y="848.40" font-size="6.4" text-anchor="middle" fill="#333">ns</text>
<text x="419.90" y="818.12" font-size="8.1" font-style="italic" text-anchor="middle" fill="#111">TNFAIP3</text>
<rect x="380.50" y="905.30" width="7.10" height="29.00" fill="#000"/>
<rect x="387.60" y="910.52" width="7.10" height="23.78" fill="#9b9b9b" stroke="#3a3a3a" stroke-width="0.7"/>
<line x1="391.15" y1="907.33" x2="391.15" y2="913.71" stroke="#222" stroke-width="0.9"/>
<line x1="389.35" y1="907.33" x2="392.95" y2="907.33" stroke="#222" stroke-width="0.9"/>
<line x1="389.35" y1="913.71" x2="392.95" y2="913.71" stroke="#222" stroke-width="0.9"/>
<line x1="405.75" y1="878.04" x2="405.75" y2="885.00" stroke="#000" stroke-width="0.9"/>
<line x1="403.95" y1="878.04" x2="407.55" y2="878.04" stroke="#000" stroke-width="0.9"/>
<rect x="402.20" y="885.00" width="7.10" height="49.30" fill="#000"/>
<rect x="409.30" y="905.30" width="7.10" height="29.00" fill="#9b9b9b" stroke="#3a3a3a" stroke-width="0.7"/>
<line x1="412.85" y1="904.43" x2="412.85" y2="906.17" stroke="#222" stroke-width="0.9"/>
<line x1="411.05" y1="904.43" x2="414.65" y2="904.43" stroke="#222" stroke-width="0.9"/>
<line x1="411.05" y1="906.17" x2="414.65" y2="906.17" stroke="#222" stroke-width="0.9"/>
<line x1="427.25" y1="891.96" x2="427.25" y2="896.02" stroke="#000" stroke-width="0.9"/>
<line x1="425.45" y1="891.96" x2="429.05" y2="891.96" stroke="#000" stroke-width="0.9"/>
<rect x="423.70" y="896.02" width="7.10" height="38.28" fill="#000"/>
<rect x="430.80" y="899.21" width="7.10" height="35.09" fill="#9b9b9b" stroke="#3a3a3a" stroke-width="0.7"/>
<line x1="434.35" y1="897.18" x2="434.35" y2="901.24" stroke="#222" stroke-width="0.9"/>
<line x1="432.55" y1="897.18" x2="436.15" y2="897.18" stroke="#222" stroke-width="0.9"/>
<line x1="432.55" y1="901.24" x2="436.15" y2="901.24" stroke="#222" stroke-width="0.9"/>
<line x1="448.85" y1="854.26" x2="448.85" y2="867.31" stroke="#000" stroke-width="0.9"/>
<line x1="447.05" y1="854.26" x2="450.65" y2="854.26" stroke="#000" stroke-width="0.9"/>
<rect x="445.30" y="867.31" width="7.10" height="66.99" fill="#000"/>
<rect x="452.40" y="890.22" width="7.10" height="44.08" fill="#9b9b9b" stroke="#3a3a3a" stroke-width="0.7"/>
<line x1="455.95" y1="881.23" x2="455.95" y2="899.21" stroke="#222" stroke-width="0.9"/>
<line x1="454.15" y1="881.23" x2="457.75" y2="881.23" stroke="#222" stroke-width="0.9"/>
<line x1="454.15" y1="899.21" x2="457.75" y2="899.21" stroke="#222" stroke-width="0.9"/>
<line x1="376.90" y1="847.30" x2="376.90" y2="934.30" stroke="#555" stroke-width="0.9"/>
<line x1="373.70" y1="934.30" x2="376.90" y2="934.30" stroke="#555" stroke-width="0.9"/>
<text x="372.60" y="936.68" font-size="6.6" text-anchor="end" fill="#333">0</text>
<line x1="373.70" y1="905.30" x2="376.90" y2="905.30" stroke="#555" stroke-width="0.9"/>
<text x="372.60" y="907.68" font-size="6.6" text-anchor="end" fill="#333">1</text>
<line x1="373.70" y1="876.30" x2="376.90" y2="876.30" stroke="#555" stroke-width="0.9"/>
<text x="372.60" y="878.68" font-size="6.6" text-anchor="end" fill="#333">2</text>
<line x1="373.70" y1="847.30" x2="376.90" y2="847.30" stroke="#555" stroke-width="0.9"/>
<text x="372.60" y="849.68" font-size="6.6" text-anchor="end" fill="#333">3</text>
<line x1="376.90" y1="934.30" x2="462.90" y2="934.30" stroke="#555" stroke-width="0.9"/>
<line x1="387.60" y1="934.30" x2="387.60" y2="936.90" stroke="#555" stroke-width="0.9"/>
<line x1="409.30" y1="934.30" x2="409.30" y2="936.90" stroke="#555" stroke-width="0.9"/>
<line x1="430.80" y1="934.30" x2="430.80" y2="936.90" stroke="#555" stroke-width="0.9"/>
<line x1="452.40" y1="934.30" x2="452.40" y2="936.90" stroke="#555" stroke-width="0.9"/>
<text transform="translate(390.00,942.90) rotate(-45)" font-size="6.6" text-anchor="end" fill="#2a2a2a">Ctrl</text>
<text transform="translate(411.70,942.90) rotate(-45)" font-size="6.6" text-anchor="end" fill="#2a2a2a">eNAMPT</text>
<text transform="translate(433.20,942.90) rotate(-45)" font-size="6.6" text-anchor="end" fill="#2a2a2a">PDGF-BB</text>
<text transform="translate(454.80,942.90) rotate(-45)" font-size="6.6" text-anchor="end" fill="#2a2a2a">eNAMPT+PDGF-BB</text>
<text transform="translate(365.00,890.90) rotate(-90)" font-size="7.0" text-anchor="middle" fill="#333">Fold over control</text>
<path d="M383.50,849.20V844.40H447.50V849.20" fill="none" stroke="#7a7a7a" stroke-width="0.9"/>
<text x="415.92" y="843.23" font-size="6.2" font-weight="bold" text-anchor="middle" fill="#333" letter-spacing="0.85">**</text>
<path d="M450.50,849.20V844.40H456.40V849.20" fill="none" stroke="#7a7a7a" stroke-width="0.9"/>
<text x="453.87" y="843.23" font-size="6.2" font-weight="bold" text-anchor="middle" fill="#333" letter-spacing="0.85">*</text>
<path d="M405.40,871.50V866.70H412.40V871.50" fill="none" stroke="#7a7a7a" stroke-width="0.9"/>
<text x="409.32" y="865.53" font-size="6.2" font-weight="bold" text-anchor="middle" fill="#333" letter-spacing="0.85">*</text>
<rect x="358.90" y="643.50" width="10.10" height="4.90" fill="#000"/>
<text x="373.40" y="648.73" font-size="7.3" fill="#222">Vehicle</text>
<rect x="359.20" y="655.10" width="9.60" height="4.60" fill="#9b9b9b" stroke="#3a3a3a" stroke-width="0.7"/>
<text x="373.40" y="659.89" font-size="7.2" fill="#222">JSH-23</text>
<text x="403.60" y="403.22" font-size="14.5" font-weight="bold" fill="#000">D</text>
<text x="462.90" y="402.89" font-size="8.85" fill="#222">eNAMPT</text>
<text x="634.60" y="402.88" font-size="8.82" fill="#222">PDGF-BB</text>
<rect x="453.00" y="437.00" width="226.50" height="133.60" fill="#f3f8fc"/>
<defs><clipPath id="cellclip"><rect x="453" y="437" width="226.5" height="133.6"/></clipPath><pattern id="memb" x="453" y="437" width="3.4" height="10.4" patternUnits="userSpaceOnUse"><rect width="3.4" height="10.4" fill="#f7fafd"/><path d="M0.4,2.4 L3.0,8.0 M3.0,2.4 L0.4,8.0" stroke="#aec4e8" stroke-width="0.8" fill="none"/><ellipse cx="1.7" cy="1.4" rx="1.6" ry="0.8" fill="#6b8cc7"/><ellipse cx="1.7" cy="9.5" rx="1.6" ry="0.8" fill="#6b8cc7"/></pattern><marker id="ah" viewBox="0 0 6 6" refX="5" refY="3" markerWidth="4.2" markerHeight="4.2" orient="auto"><path d="M0,0.4 L6,3 L0,5.6 z" fill="#333"/></marker></defs>
<ellipse cx="563" cy="580" rx="84.5" ry="87.5" fill="#e1eaf5" stroke="#c4d4ec" stroke-width="0.9" clip-path="url(#cellclip)"/>
<rect x="453.00" y="437.00" width="226.50" height="10.40" fill="url(#memb)"/>
<circle cx="474.30" cy="415.00" r="3.70" fill="#f3c233" stroke="#c9981c" stroke-width="0.6"/>
<circle cx="487.40" cy="413.50" r="3.60" fill="#f3c233" stroke="#c9981c" stroke-width="0.6"/>
<circle cx="481.10" cy="425.30" r="3.90" fill="#f3c233" stroke="#c9981c" stroke-width="0.6"/>
<path d="M475.4,425.2 A5.75,5.75 0 0 0 486.9,425.2" fill="none" stroke="#d9782e" stroke-width="3.3" stroke-linecap="round"/>
<rect x="480.30" y="431.00" width="1.70" height="20.50" fill="#e0873c"/>
<rect x="639.1" y="410.3" width="6.7" height="6.9" rx="0.8" fill="#3cab4c" stroke="#2b7f3a" stroke-width="0.5"/>
<rect x="652.2" y="408.2" width="6.7" height="6.9" rx="0.8" fill="#3cab4c" stroke="#2b7f3a" stroke-width="0.5"/>
<path d="M642.2,424.8 a1.65,1.65 0 0 1 3.3,0 V427.8 q0,1.5 1.5,1.5 h6.2 q1.5,0 1.5,-1.5 V424.8 a1.65,1.65 0 0 1 3.3,0 V429.2 q0,3.4 -3.4,3.4 H645.6 q-3.4,0 -3.4,-3.4 Z" fill="#2f5c4a"/>
<rect x="646.5" y="421.3" width="6.8" height="7.0" rx="0.8" fill="#3cab4c" stroke="#2b7f3a" stroke-width="0.5"/>
<rect x="648.90" y="431.50" width="1.70" height="19.40" fill="#2f5c4a"/>
<path d="M481.1,457 V487.6" fill="none" stroke="#505050" stroke-width="0.85" marker-end="url(#ah)"/>
<path d="M481.1,472.9 H599.2 V517.5" fill="none" stroke="#505050" stroke-width="0.85" marker-end="url(#ah)"/>
<path d="M650.3,457.3 V506.4 H548.2 V519.5" fill="none" stroke="#505050" stroke-width="0.85" marker-end="url(#ah)"/>
<path d="M481.5,509.5 Q484,535 496.5,546.2" fill="none" stroke="#505050" stroke-width="0.85" marker-end="url(#ah)"/>
<path d="M525.7,557 V535.6 H537.8" fill="none" stroke="#505050" stroke-width="0.85" marker-end="url(#ah)"/>
<path d="M624.7,555.7 V534.4 H613.4" fill="none" stroke="#505050" stroke-width="0.85" marker-end="url(#ah)"/>
<path d="M562.3,557 V585.8" fill="none" stroke="#505050" stroke-width="0.85" marker-end="url(#ah)"/>
<rect x="464.1" y="489.2" width="33.6" height="14.5" rx="4.2" fill="#f6dcbd" stroke="#c8956a" stroke-width="0.8"/>
<text x="480.90" y="499.55" font-size="8.2" text-anchor="middle" fill="#222">NF-κB</text>
<polyline points="494.70,561.40 495.20,561.36 495.70,561.24 496.20,561.05 496.70,560.80 497.20,560.49 497.70,560.13 498.20,559.74 498.70,559.34 499.20,558.94 499.70,558.54 500.20,558.18 500.70,557.86 501.20,557.59 501.70,557.39 502.20,557.26 502.70,557.20 503.20,557.23 503.70,557.33 504.20,557.50 504.70,557.74 505.20,558.05 505.70,558.39 506.20,558.78 506.70,559.18 507.20,559.58 507.70,559.98 508.20,560.35 508.70,560.68 509.20,560.96 509.70,561.18 510.20,561.32 510.70,561.39 511.20,561.39 511.70,561.30 512.20,561.14 512.70,560.91 513.20,560.62 513.70,560.28 514.20,559.90 514.70,559.50 515.20,559.10 515.70,558.70 516.20,558.32 516.70,557.98 517.20,557.69 517.70,557.46 518.20,557.30 518.70,557.21 519.20,557.21 519.70,557.28 520.20,557.42 520.70,557.64 521.20,557.92 521.70,558.25 522.20,558.62 522.70,559.02 523.20,559.42 523.70,559.82 524.20,560.21 524.70,560.55 525.20,560.86 525.70,561.10 526.20,561.27 526.70,561.37 527.20,561.40 527.70,561.34 528.20,561.21 528.70,561.01 529.20,560.74 529.70,560.42 530.20,560.06 530.70,559.66 531.20,559.26 531.70,558.86 532.20,558.47 532.70,558.11 533.20,557.80 533.70,557.55 534.20,557.36 534.70,557.24 535.20,557.20 535.70,557.24 536.20,557.36 536.70,557.55 537.20,557.80 537.70,558.11 538.20,558.47 538.70,558.86 539.20,559.26 539.70,559.66 540.20,560.06 540.70,560.42 541.20,560.74 541.70,561.01 542.20,561.21 542.70,561.34 543.20,561.40 543.70,561.37" fill="none" stroke="#2a6db0" stroke-width="1.2"/>
<polyline points="494.70,557.20 495.20,557.24 495.70,557.36 496.20,557.55 496.70,557.80 497.20,558.11 497.70,558.47 498.20,558.86 498.70,559.26 499.20,559.66 499.70,560.06 500.20,560.42 500.70,560.74 501.20,561.01 501.70,561.21 502.20,561.34 502.70,561.40 503.20,561.37 503.70,561.27 504.20,561.10 504.70,560.86 505.20,560.55 505.70,560.21 506.20,559.82 506.70,559.42 507.20,559.02 507.70,558.62 508.20,558.25 508.70,557.92 509.20,557.64 509.70,557.42 510.20,557.28 510.70,557.21 511.20,557.21 511.70,557.30 512.20,557.46 512.70,557.69 513.20,557.98 513.70,558.32 514.20,558.70 514.70,559.10 515.20,559.50 515.70,559.90 516.20,560.28 516.70,560.62 517.20,560.91 517.70,561.14 518.20,561.30 518.70,561.39 519.20,561.39 519.70,561.32 520.20,561.18 520.70,560.96 521.20,560.68 521.70,560.35 522.20,559.98 522.70,559.58 523.20,559.18 523.70,558.78 524.20,558.39 524.70,558.05 525.20,557.74 525.70,557.50 526.20,557.33 526.70,557.23 527.20,557.20 527.70,557.26 528.20,557.39 528.70,557.59 529.20,557.86 529.70,558.18 530.20,558.54 530.70,558.94 531.20,559.34 531.70,559.74 532.20,560.13 532.70,560.49 533.20,560.80 533.70,561.05 534.20,561.24 534.70,561.36 535.20,561.40 535.70,561.36 536.20,561.24 536.70,561.05 537.20,560.80 537.70,560.49 538.20,560.13 538.70,559.74 539.20,559.34 539.70,558.94 540.20,558.54 540.70,558.18 541.20,557.86 541.70,557.59 542.20,557.39 542.70,557.26 543.20,557.20 543.70,557.23" fill="none" stroke="#d22a3a" stroke-width="1.2"/>
<polyline points="591.10,561.40 591.60,561.36 592.10,561.24 592.60,561.05 593.10,560.80 593.60,560.49 594.10,560.13 594.60,559.74 595.10,559.34 595.60,558.94 596.10,558.54 596.60,558.18 597.10,557.86 597.60,557.59 598.10,557.39 598.60,557.26 599.10,557.20 599.60,557.23 600.10,557.33 600.60,557.50 601.10,557.74 601.60,558.05 602.10,558.39 602.60,558.78 603.10,559.18 603.60,559.58 604.10,559.98 604.60,560.35 605.10,560.68 605.60,560.96 606.10,561.18 606.60,561.32 607.10,561.39 607.60,561.39 608.10,561.30 608.60,561.14 609.10,560.91 609.60,560.62 610.10,560.28 610.60,559.90 611.10,559.50 611.60,559.10 612.10,558.70 612.60,558.32 613.10,557.98 613.60,557.69 614.10,557.46 614.60,557.30 615.10,557.21 615.60,557.21 616.10,557.28 616.60,557.42 617.10,557.64 617.60,557.92 618.10,558.25 618.60,558.62 619.10,559.02 619.60,559.42 620.10,559.82 620.60,560.21 621.10,560.55 621.60,560.86 622.10,561.10 622.60,561.27 623.10,561.37 623.60,561.40 624.10,561.34 624.60,561.21 625.10,561.01 625.60,560.74 626.10,560.42 626.60,560.06 627.10,559.66 627.60,559.26 628.10,558.86 628.60,558.47 629.10,558.11 629.60,557.80 630.10,557.55 630.60,557.36 631.10,557.24 631.60,557.20 632.10,557.24 632.60,557.36 633.10,557.55 633.60,557.80 634.10,558.11 634.60,558.47 635.10,558.86 635.60,559.26 636.10,559.66 636.60,560.06 637.10,560.42 637.60,560.74 638.10,561.01 638.60,561.21 639.10,561.34 639.60,561.40 640.10,561.37" fill="none" stroke="#2a6db0" stroke-width="1.2"/>
<polyline points="591.10,557.20 591.60,557.24 592.10,557.36 592.60,557.55 593.10,557.80 593.60,558.11 594.10,558.47 594.60,558.86 595.10,559.26 595.60,559.66 596.10,560.06 596.60,560.42 597.10,560.74 597.60,561.01 598.10,561.21 598.60,561.34 599.10,561.40 599.60,561.37 600.10,561.27 600.60,561.10 601.10,560.86 601.60,560.55 602.10,560.21 602.60,559.82 603.10,559.42 603.60,559.02 604.10,558.62 604.60,558.25 605.10,557.92 605.60,557.64 606.10,557.42 606.60,557.28 607.10,557.21 607.60,557.21 608.10,557.30 608.60,557.46 609.10,557.69 609.60,557.98 610.10,558.32 610.60,558.70 611.10,559.10 611.60,559.50 612.10,559.90 612.60,560.28 613.10,560.62 613.60,560.91 614.10,561.14 614.60,561.30 615.10,561.39 615.60,561.39 616.10,561.32 616.60,561.18 617.10,560.96 617.60,560.68 618.10,560.35 618.60,559.98 619.10,559.58 619.60,559.18 620.10,558.78 620.60,558.39 621.10,558.05 621.60,557.74 622.10,557.50 622.60,557.33 623.10,557.23 623.60,557.20 624.10,557.26 624.60,557.39 625.10,557.59 625.60,557.86 626.10,558.18 626.60,558.54 627.10,558.94 627.60,559.34 628.10,559.74 628.60,560.13 629.10,560.49 629.60,560.80 630.10,561.05 630.60,561.24 631.10,561.36 631.60,561.40 632.10,561.36 632.60,561.24 633.10,561.05 633.60,560.80 634.10,560.49 634.60,560.13 635.10,559.74 635.60,559.34 636.10,558.94 636.60,558.54 637.10,558.18 637.60,557.86 638.10,557.59 638.60,557.39 639.10,557.26 639.60,557.20 640.10,557.23" fill="none" stroke="#d22a3a" stroke-width="1.2"/>
<rect x="495.9" y="546.1" width="24.0" height="10.1" rx="3" fill="#f6dcbd" stroke="#c8956a" stroke-width="0.7"/>
<text x="507.90" y="553.58" font-size="6.6" text-anchor="middle" fill="#222">NF-κB</text>
<text x="538.10" y="527.94" font-size="7.6" fill="#222">CXCL1</text>
<text x="538.10" y="536.34" font-size="7.6" fill="#222">CCL2</text>
<text x="538.10" y="545.04" font-size="7.6" fill="#222">VCAM1</text>
<text x="589.70" y="523.54" font-size="7.6" fill="#222">CXCL8</text>
<text x="589.70" y="532.14" font-size="7.6" fill="#222">CXCL2</text>
<text x="589.70" y="540.74" font-size="7.6" fill="#222">CXCL3</text>
<text x="597.00" y="549.14" font-size="7.6" fill="#222">IL-1β</text>
<text x="562.50" y="593.46" font-size="7.95" text-anchor="middle" fill="#222">Angiogenesis</text>
<text x="562.80" y="601.46" font-size="7.95" text-anchor="middle" fill="#222">Chemotaxis</text>
<text x="430.00" y="630.42" font-size="14.5" font-weight="bold" fill="#000">E</text>
<text x="523.40" y="632.66" font-size="7.95" font-weight="bold" text-anchor="middle" fill="#1a1a1a">Ctrl</text>
<text x="615.6" y="632.55" font-size="7.9" font-weight="bold" fill="#1a1a1a">NAMPT<tspan font-size="4.6" dy="-3">High</tspan></text>
<text transform="translate(472.80,677.2) rotate(-90)" font-size="10.2" text-anchor="middle" fill="#1a1a1a">Basal</text>
<text transform="translate(473.90,753.6) rotate(-90)" font-size="9.67" text-anchor="middle" fill="#1a1a1a">JSH-23 [10 µM]</text>
<defs><clipPath id="c1"><rect x="479.1" y="640.1" width="99.80" height="74.90"/></clipPath><radialGradient id="lg1" cx="479.1" cy="640.1" r="89.8" gradientUnits="userSpaceOnUse"><stop offset="0" stop-color="#c3c3c3"/><stop offset="0.5" stop-color="#cbcbcb"/><stop offset="1" stop-color="#cecece"/></radialGradient></defs>
<g clip-path="url(#c1)">
<rect x="479.10" y="640.10" width="99.80" height="74.90" fill="url(#lg1)"/>
<path d="M524.20,639.1 L524.20,640.10 Q536.10,672.45 521.20,715.00 L521.20,716.0 L579.9,716.0 L579.9,639.1 Z" fill="#d3d3d3"/>
<circle cx="486.68" cy="701.49" r="1.76" fill="#b8b8b8" fill-opacity="0.5"/>
<circle cx="490.80" cy="677.24" r="1.45" fill="#b8b8b8" fill-opacity="0.5"/>
<circle cx="504.32" cy="697.44" r="1.09" fill="#b8b8b8" fill-opacity="0.5"/>
<circle cx="483.07" cy="700.68" r="1.43" fill="#b8b8b8" fill-opacity="0.5"/>
<circle cx="508.09" cy="643.25" r="1.45" fill="#b8b8b8" fill-opacity="0.5"/>
<circle cx="506.70" cy="658.86" r="1.95" fill="#b8b8b8" fill-opacity="0.5"/>
<circle cx="569.1" cy="642.4" r="0.53" fill="#3a3a3a" fill-opacity="0.32"/>
<circle cx="561.9" cy="690.3" r="0.52" fill="#3a3a3a" fill-opacity="0.53"/>
<circle cx="529.5" cy="684.2" r="0.35" fill="#3a3a3a" fill-opacity="0.65"/>
<circle cx="546.4" cy="668.2" r="0.49" fill="#3a3a3a" fill-opacity="0.38"/>
<circle cx="533.0" cy="704.5" r="0.42" fill="#3a3a3a" fill-opacity="0.73"/>
<circle cx="536.8" cy="674.5" r="0.43" fill="#3a3a3a" fill-opacity="0.73"/>
<circle cx="553.0" cy="700.7" r="0.40" fill="#3a3a3a" fill-opacity="0.18"/>
<circle cx="565.9" cy="682.8" r="0.41" fill="#3a3a3a" fill-opacity="0.31"/>
<circle cx="524.8" cy="642.2" r="0.33" fill="#3a3a3a" fill-opacity="0.54"/>
<circle cx="565.0" cy="699.9" r="0.35" fill="#3a3a3a" fill-opacity="0.53"/>
<circle cx="554.5" cy="658.8" r="0.37" fill="#3a3a3a" fill-opacity="0.18"/>
<circle cx="550.1" cy="674.2" r="0.29" fill="#3a3a3a" fill-opacity="0.32"/>
<circle cx="530.0" cy="655.8" r="0.50" fill="#3a3a3a" fill-opacity="0.26"/>
<circle cx="542.1" cy="644.5" r="0.52" fill="#3a3a3a" fill-opacity="0.29"/>
<circle cx="564.8" cy="663.3" r="0.39" fill="#3a3a3a" fill-opacity="0.26"/>
<circle cx="575.1" cy="682.8" r="0.54" fill="#3a3a3a" fill-opacity="0.47"/>
<circle cx="529.9" cy="668.4" r="0.34" fill="#3a3a3a" fill-opacity="0.59"/>
<circle cx="567.2" cy="691.6" r="0.34" fill="#3a3a3a" fill-opacity="0.48"/>
<circle cx="574.3" cy="706.6" r="0.31" fill="#3a3a3a" fill-opacity="0.17"/>
<circle cx="536.1" cy="656.9" r="0.35" fill="#3a3a3a" fill-opacity="0.70"/>
<circle cx="557.6" cy="702.1" r="0.30" fill="#3a3a3a" fill-opacity="0.20"/>
<circle cx="567.4" cy="643.1" r="0.39" fill="#3a3a3a" fill-opacity="0.20"/>
<circle cx="570.0" cy="668.4" r="0.36" fill="#3a3a3a" fill-opacity="0.26"/>
<circle cx="540.8" cy="713.5" r="0.46" fill="#3a3a3a" fill-opacity="0.27"/>
<circle cx="533.2" cy="663.1" r="0.30" fill="#3a3a3a" fill-opacity="0.39"/>
<circle cx="577.2" cy="673.6" r="0.53" fill="#3a3a3a" fill-opacity="0.33"/>
<circle cx="568.3" cy="662.8" r="0.44" fill="#3a3a3a" fill-opacity="0.42"/>
<circle cx="534.1" cy="645.4" r="0.45" fill="#3a3a3a" fill-opacity="0.40"/>
<circle cx="529.1" cy="699.6" r="0.54" fill="#3a3a3a" fill-opacity="0.34"/>
<circle cx="533.9" cy="680.6" r="0.40" fill="#3a3a3a" fill-opacity="0.45"/>
<circle cx="543.6" cy="643.7" r="0.52" fill="#3a3a3a" fill-opacity="0.22"/>
<circle cx="555.5" cy="706.2" r="0.51" fill="#3a3a3a" fill-opacity="0.32"/>
<circle cx="549.1" cy="695.3" r="0.52" fill="#3a3a3a" fill-opacity="0.58"/>
<circle cx="536.1" cy="653.3" r="0.34" fill="#3a3a3a" fill-opacity="0.53"/>
<circle cx="554.7" cy="644.0" r="0.37" fill="#3a3a3a" fill-opacity="0.38"/>
<circle cx="559.7" cy="687.2" r="0.54" fill="#3a3a3a" fill-opacity="0.21"/>
<circle cx="556.5" cy="703.2" r="0.40" fill="#3a3a3a" fill-opacity="0.57"/>
<circle cx="576.3" cy="680.9" r="0.49" fill="#3a3a3a" fill-opacity="0.41"/>
<circle cx="555.1" cy="713.0" r="0.43" fill="#3a3a3a" fill-opacity="0.29"/>
<circle cx="557.3" cy="691.3" r="0.38" fill="#3a3a3a" fill-opacity="0.24"/>
<circle cx="561.9" cy="678.4" r="0.51" fill="#3a3a3a" fill-opacity="0.33"/>
<circle cx="537.4" cy="695.1" r="0.41" fill="#3a3a3a" fill-opacity="0.49"/>
<circle cx="541.9" cy="687.6" r="0.51" fill="#3a3a3a" fill-opacity="0.50"/>
<circle cx="530.0" cy="695.9" r="0.38" fill="#3a3a3a" fill-opacity="0.58"/>
<circle cx="562.0" cy="679.3" r="0.48" fill="#3a3a3a" fill-opacity="0.23"/>
<circle cx="555.1" cy="698.9" r="0.32" fill="#3a3a3a" fill-opacity="0.59"/>
<circle cx="548.2" cy="647.2" r="0.38" fill="#3a3a3a" fill-opacity="0.23"/>
<circle cx="569.9" cy="714.6" r="0.51" fill="#3a3a3a" fill-opacity="0.29"/>
<circle cx="566.9" cy="696.9" r="0.28" fill="#3a3a3a" fill-opacity="0.22"/>
<circle cx="553.4" cy="691.5" r="0.39" fill="#3a3a3a" fill-opacity="0.43"/>
<circle cx="572.4" cy="684.3" r="0.43" fill="#3a3a3a" fill-opacity="0.38"/>
<circle cx="566.9" cy="671.9" r="0.48" fill="#3a3a3a" fill-opacity="0.47"/>
<circle cx="534.7" cy="664.8" r="0.49" fill="#3a3a3a" fill-opacity="0.73"/>
<circle cx="577.7" cy="694.0" r="0.42" fill="#3a3a3a" fill-opacity="0.55"/>
<circle cx="531.1" cy="647.4" r="0.44" fill="#3a3a3a" fill-opacity="0.27"/>
<circle cx="531.6" cy="651.2" r="0.37" fill="#3a3a3a" fill-opacity="0.41"/>
<circle cx="571.7" cy="712.7" r="0.53" fill="#3a3a3a" fill-opacity="0.51"/>
<circle cx="573.1" cy="688.3" r="0.54" fill="#3a3a3a" fill-opacity="0.39"/>
<circle cx="569.6" cy="653.9" r="0.29" fill="#3a3a3a" fill-opacity="0.19"/>
<circle cx="533.6" cy="660.0" r="0.35" fill="#3a3a3a" fill-opacity="0.57"/>
<circle cx="531.6" cy="646.0" r="0.51" fill="#3a3a3a" fill-opacity="0.57"/>
<circle cx="563.7" cy="693.3" r="0.44" fill="#3a3a3a" fill-opacity="0.54"/>
<circle cx="568.2" cy="672.0" r="0.54" fill="#3a3a3a" fill-opacity="0.51"/>
<circle cx="537.4" cy="643.1" r="0.33" fill="#3a3a3a" fill-opacity="0.28"/>
<circle cx="567.6" cy="696.0" r="0.43" fill="#3a3a3a" fill-opacity="0.40"/>
<circle cx="531.6" cy="680.7" r="0.54" fill="#3a3a3a" fill-opacity="0.45"/>
<circle cx="542.0" cy="663.2" r="0.44" fill="#3a3a3a" fill-opacity="0.40"/>
<circle cx="576.6" cy="652.3" r="0.48" fill="#3a3a3a" fill-opacity="0.40"/>
<circle cx="545.9" cy="707.4" r="0.38" fill="#3a3a3a" fill-opacity="0.36"/>
<circle cx="558.5" cy="668.0" r="0.37" fill="#3a3a3a" fill-opacity="0.36"/>
<circle cx="552.9" cy="691.9" r="0.41" fill="#3a3a3a" fill-opacity="0.47"/>
<circle cx="528.1" cy="712.9" r="0.30" fill="#3a3a3a" fill-opacity="0.31"/>
<circle cx="527.0" cy="711.4" r="0.48" fill="#3a3a3a" fill-opacity="0.67"/>
<circle cx="532.4" cy="666.1" r="0.54" fill="#3a3a3a" fill-opacity="0.30"/>
<circle cx="534.3" cy="671.5" r="0.31" fill="#3a3a3a" fill-opacity="0.38"/>
<circle cx="545.8" cy="662.1" r="0.31" fill="#3a3a3a" fill-opacity="0.53"/>
<circle cx="535.1" cy="684.9" r="0.42" fill="#3a3a3a" fill-opacity="0.55"/>
<circle cx="548.0" cy="688.4" r="0.37" fill="#3a3a3a" fill-opacity="0.37"/>
<circle cx="547.4" cy="657.0" r="0.52" fill="#3a3a3a" fill-opacity="0.34"/>
<circle cx="547.1" cy="643.2" r="0.31" fill="#3a3a3a" fill-opacity="0.29"/>
<circle cx="573.8" cy="666.5" r="0.51" fill="#3a3a3a" fill-opacity="0.42"/>
<circle cx="566.0" cy="670.4" r="0.42" fill="#3a3a3a" fill-opacity="0.40"/>
<circle cx="532.6" cy="669.6" r="0.45" fill="#3a3a3a" fill-opacity="0.52"/>
<circle cx="532.0" cy="675.5" r="0.31" fill="#3a3a3a" fill-opacity="0.44"/>
<circle cx="544.4" cy="680.9" r="0.48" fill="#3a3a3a" fill-opacity="0.46"/>
<circle cx="563.1" cy="703.6" r="0.32" fill="#3a3a3a" fill-opacity="0.53"/>
<circle cx="556.9" cy="684.9" r="0.39" fill="#3a3a3a" fill-opacity="0.42"/>
<circle cx="529.8" cy="666.8" r="0.55" fill="#3a3a3a" fill-opacity="0.70"/>
<circle cx="566.9" cy="666.0" r="0.49" fill="#3a3a3a" fill-opacity="0.18"/>
<circle cx="543.2" cy="676.6" r="0.54" fill="#3a3a3a" fill-opacity="0.16"/>
<circle cx="550.6" cy="647.6" r="0.46" fill="#3a3a3a" fill-opacity="0.50"/>
<circle cx="551.3" cy="654.6" r="0.43" fill="#3a3a3a" fill-opacity="0.57"/>
<circle cx="532.8" cy="669.4" r="0.50" fill="#3a3a3a" fill-opacity="0.74"/>
<circle cx="537.5" cy="678.5" r="0.49" fill="#3a3a3a" fill-opacity="0.72"/>
<circle cx="551.4" cy="692.6" r="0.42" fill="#3a3a3a" fill-opacity="0.26"/>
<circle cx="535.0" cy="688.1" r="0.54" fill="#3a3a3a" fill-opacity="0.37"/>
<circle cx="535.7" cy="703.4" r="0.48" fill="#3a3a3a" fill-opacity="0.30"/>
<circle cx="547.2" cy="684.4" r="0.30" fill="#3a3a3a" fill-opacity="0.26"/>
<circle cx="538.2" cy="686.2" r="0.35" fill="#3a3a3a" fill-opacity="0.28"/>
<circle cx="561.8" cy="663.7" r="0.45" fill="#3a3a3a" fill-opacity="0.20"/>
<circle cx="529.8" cy="649.2" r="0.47" fill="#3a3a3a" fill-opacity="0.66"/>
<circle cx="555.3" cy="668.4" r="0.35" fill="#3a3a3a" fill-opacity="0.44"/>
<circle cx="546.1" cy="709.1" r="0.54" fill="#3a3a3a" fill-opacity="0.50"/>
<circle cx="543.6" cy="669.6" r="0.53" fill="#3a3a3a" fill-opacity="0.40"/>
<circle cx="569.9" cy="675.8" r="0.37" fill="#3a3a3a" fill-opacity="0.22"/>
<circle cx="537.9" cy="703.8" r="0.49" fill="#3a3a3a" fill-opacity="0.50"/>
<circle cx="537.3" cy="676.4" r="0.51" fill="#3a3a3a" fill-opacity="0.47"/>
<circle cx="529.0" cy="700.8" r="0.32" fill="#3a3a3a" fill-opacity="0.41"/>
<circle cx="510.8" cy="678.2" r="0.51" fill="#3a3a3a" fill-opacity="0.55"/>
<circle cx="540.8" cy="645.7" r="0.35" fill="#3a3a3a" fill-opacity="0.19"/>
<circle cx="537.8" cy="689.8" r="0.39" fill="#3a3a3a" fill-opacity="0.74"/>
<circle cx="575.1" cy="665.2" r="0.34" fill="#3a3a3a" fill-opacity="0.57"/>
<circle cx="534.2" cy="640.8" r="0.30" fill="#3a3a3a" fill-opacity="0.66"/>
<circle cx="574.1" cy="702.4" r="0.42" fill="#3a3a3a" fill-opacity="0.36"/>
<circle cx="547.0" cy="683.2" r="0.41" fill="#3a3a3a" fill-opacity="0.52"/>
<circle cx="546.5" cy="679.4" r="0.44" fill="#3a3a3a" fill-opacity="0.27"/>
<circle cx="568.1" cy="657.5" r="0.53" fill="#3a3a3a" fill-opacity="0.46"/>
<circle cx="541.6" cy="668.9" r="0.38" fill="#3a3a3a" fill-opacity="0.50"/>
<circle cx="577.8" cy="688.4" r="0.54" fill="#3a3a3a" fill-opacity="0.42"/>
<circle cx="565.6" cy="645.7" r="0.44" fill="#3a3a3a" fill-opacity="0.43"/>
<circle cx="546.5" cy="642.4" r="0.52" fill="#3a3a3a" fill-opacity="0.38"/>
<circle cx="533.8" cy="660.8" r="0.36" fill="#3a3a3a" fill-opacity="0.29"/>
<circle cx="558.7" cy="706.4" r="0.53" fill="#3a3a3a" fill-opacity="0.49"/>
<circle cx="526.1" cy="641.4" r="0.33" fill="#3a3a3a" fill-opacity="0.53"/>
<circle cx="566.1" cy="693.4" r="0.45" fill="#3a3a3a" fill-opacity="0.21"/>
<circle cx="534.0" cy="706.5" r="0.51" fill="#3a3a3a" fill-opacity="0.59"/>
<circle cx="551.6" cy="654.5" r="0.42" fill="#3a3a3a" fill-opacity="0.54"/>
<circle cx="564.7" cy="698.7" r="0.37" fill="#3a3a3a" fill-opacity="0.20"/>
<circle cx="573.8" cy="642.5" r="0.54" fill="#3a3a3a" fill-opacity="0.24"/>
<circle cx="530.1" cy="707.6" r="0.52" fill="#3a3a3a" fill-opacity="0.52"/>
<circle cx="530.2" cy="666.7" r="0.30" fill="#3a3a3a" fill-opacity="0.35"/>
<circle cx="546.8" cy="705.1" r="0.33" fill="#3a3a3a" fill-opacity="0.30"/>
<circle cx="536.5" cy="702.9" r="0.28" fill="#3a3a3a" fill-opacity="0.29"/>
<circle cx="527.0" cy="642.8" r="0.38" fill="#3a3a3a" fill-opacity="0.53"/>
<circle cx="535.7" cy="714.8" r="0.43" fill="#3a3a3a" fill-opacity="0.37"/>
<circle cx="527.8" cy="711.3" r="0.45" fill="#3a3a3a" fill-opacity="0.27"/>
<circle cx="544.4" cy="682.5" r="0.46" fill="#3a3a3a" fill-opacity="0.30"/>
<circle cx="566.3" cy="669.7" r="0.54" fill="#3a3a3a" fill-opacity="0.26"/>
<circle cx="534.3" cy="682.2" r="0.32" fill="#3a3a3a" fill-opacity="0.54"/>
<circle cx="562.2" cy="711.6" r="0.33" fill="#3a3a3a" fill-opacity="0.37"/>
<circle cx="544.4" cy="678.3" r="0.31" fill="#3a3a3a" fill-opacity="0.27"/>
<circle cx="578.0" cy="664.8" r="0.45" fill="#3a3a3a" fill-opacity="0.29"/>
<circle cx="534.4" cy="672.1" r="0.43" fill="#3a3a3a" fill-opacity="0.33"/>
<circle cx="540.5" cy="711.6" r="0.36" fill="#3a3a3a" fill-opacity="0.22"/>
<circle cx="570.2" cy="698.2" r="0.33" fill="#3a3a3a" fill-opacity="0.50"/>
<circle cx="534.6" cy="699.9" r="0.53" fill="#3a3a3a" fill-opacity="0.36"/>
<circle cx="529.7" cy="652.4" r="0.40" fill="#3a3a3a" fill-opacity="0.69"/>
<circle cx="576.0" cy="685.9" r="0.34" fill="#3a3a3a" fill-opacity="0.35"/>
<circle cx="532.8" cy="680.3" r="0.50" fill="#3a3a3a" fill-opacity="0.73"/>
<circle cx="534.9" cy="687.7" r="0.37" fill="#3a3a3a" fill-opacity="0.55"/>
<circle cx="538.5" cy="689.6" r="0.51" fill="#3a3a3a" fill-opacity="0.28"/>
<circle cx="533.2" cy="687.9" r="0.54" fill="#3a3a3a" fill-opacity="0.72"/>
<circle cx="531.3" cy="688.9" r="0.32" fill="#3a3a3a" fill-opacity="0.44"/>
<circle cx="533.9" cy="655.5" r="0.34" fill="#3a3a3a" fill-opacity="0.26"/>
<circle cx="545.9" cy="674.3" r="0.29" fill="#3a3a3a" fill-opacity="0.52"/>
<circle cx="560.8" cy="640.7" r="0.39" fill="#3a3a3a" fill-opacity="0.54"/>
<circle cx="548.5" cy="689.6" r="0.44" fill="#3a3a3a" fill-opacity="0.17"/>
<circle cx="558.6" cy="713.5" r="0.44" fill="#3a3a3a" fill-opacity="0.19"/>
<circle cx="532.9" cy="690.6" r="0.45" fill="#3a3a3a" fill-opacity="0.52"/>
<circle cx="552.3" cy="672.9" r="0.51" fill="#3a3a3a" fill-opacity="0.32"/>
<circle cx="544.4" cy="646.7" r="0.34" fill="#3a3a3a" fill-opacity="0.29"/>
<circle cx="545.6" cy="671.1" r="0.41" fill="#3a3a3a" fill-opacity="0.43"/>
<circle cx="568.2" cy="702.0" r="0.49" fill="#3a3a3a" fill-opacity="0.39"/>
<circle cx="509.3" cy="648.1" r="0.51" fill="#3a3a3a" fill-opacity="0.47"/>
<circle cx="576.5" cy="680.4" r="0.30" fill="#3a3a3a" fill-opacity="0.36"/>
<circle cx="535.6" cy="648.5" r="0.44" fill="#3a3a3a" fill-opacity="0.57"/>
<circle cx="547.8" cy="709.6" r="0.42" fill="#3a3a3a" fill-opacity="0.42"/>
<circle cx="576.9" cy="679.1" r="0.52" fill="#3a3a3a" fill-opacity="0.50"/>
<circle cx="578.5" cy="707.4" r="0.38" fill="#3a3a3a" fill-opacity="0.17"/>
<circle cx="564.6" cy="688.4" r="0.40" fill="#3a3a3a" fill-opacity="0.38"/>
<circle cx="545.1" cy="708.3" r="0.48" fill="#3a3a3a" fill-opacity="0.28"/>
<circle cx="537.3" cy="649.8" r="0.41" fill="#3a3a3a" fill-opacity="0.53"/>
<circle cx="541.7" cy="705.8" r="0.55" fill="#3a3a3a" fill-opacity="0.44"/>
<circle cx="549.1" cy="663.4" r="0.37" fill="#3a3a3a" fill-opacity="0.29"/>
<circle cx="564.4" cy="686.6" r="0.34" fill="#3a3a3a" fill-opacity="0.17"/>
<circle cx="531.4" cy="693.6" r="0.28" fill="#3a3a3a" fill-opacity="0.73"/>
<circle cx="547.6" cy="690.2" r="0.29" fill="#3a3a3a" fill-opacity="0.25"/>
<circle cx="532.0" cy="680.0" r="0.33" fill="#3a3a3a" fill-opacity="0.49"/>
<circle cx="567.0" cy="694.6" r="0.52" fill="#3a3a3a" fill-opacity="0.18"/>
<circle cx="574.6" cy="708.2" r="0.33" fill="#3a3a3a" fill-opacity="0.38"/>
<circle cx="532.4" cy="652.3" r="0.41" fill="#3a3a3a" fill-opacity="0.28"/>
<circle cx="563.0" cy="706.7" r="0.51" fill="#3a3a3a" fill-opacity="0.17"/>
<circle cx="537.7" cy="675.7" r="0.50" fill="#3a3a3a" fill-opacity="0.53"/>
<circle cx="560.2" cy="710.1" r="0.52" fill="#3a3a3a" fill-opacity="0.18"/>
<circle cx="573.1" cy="666.8" r="0.38" fill="#3a3a3a" fill-opacity="0.43"/>
<circle cx="555.2" cy="707.5" r="0.53" fill="#3a3a3a" fill-opacity="0.35"/>
<circle cx="530.2" cy="706.6" r="0.35" fill="#3a3a3a" fill-opacity="0.54"/>
<circle cx="547.7" cy="693.7" r="0.38" fill="#3a3a3a" fill-opacity="0.58"/>
<circle cx="541.5" cy="689.7" r="0.33" fill="#3a3a3a" fill-opacity="0.32"/>
<circle cx="542.6" cy="698.3" r="0.41" fill="#3a3a3a" fill-opacity="0.45"/>
<circle cx="562.3" cy="682.2" r="0.29" fill="#3a3a3a" fill-opacity="0.16"/>
<circle cx="575.6" cy="666.0" r="0.29" fill="#3a3a3a" fill-opacity="0.38"/>
<circle cx="546.3" cy="712.8" r="0.44" fill="#3a3a3a" fill-opacity="0.47"/>
<circle cx="571.5" cy="646.0" r="0.32" fill="#3a3a3a" fill-opacity="0.34"/>
<circle cx="562.5" cy="678.2" r="0.33" fill="#3a3a3a" fill-opacity="0.60"/>
<circle cx="553.8" cy="661.5" r="0.51" fill="#3a3a3a" fill-opacity="0.40"/>
<circle cx="549.4" cy="657.0" r="0.35" fill="#3a3a3a" fill-opacity="0.54"/>
<circle cx="575.1" cy="712.5" r="0.54" fill="#3a3a3a" fill-opacity="0.41"/>
<circle cx="576.0" cy="651.0" r="0.31" fill="#3a3a3a" fill-opacity="0.24"/>
<circle cx="573.6" cy="657.6" r="0.47" fill="#3a3a3a" fill-opacity="0.50"/>
<circle cx="527.9" cy="692.8" r="0.30" fill="#3a3a3a" fill-opacity="0.43"/>
<circle cx="534.6" cy="675.3" r="0.28" fill="#3a3a3a" fill-opacity="0.26"/>
<circle cx="549.6" cy="687.8" r="0.51" fill="#3a3a3a" fill-opacity="0.56"/>
<circle cx="548.4" cy="673.0" r="0.37" fill="#3a3a3a" fill-opacity="0.55"/>
<circle cx="560.2" cy="673.6" r="0.39" fill="#3a3a3a" fill-opacity="0.48"/>
<circle cx="564.7" cy="714.6" r="0.49" fill="#3a3a3a" fill-opacity="0.42"/>
<circle cx="571.8" cy="700.6" r="0.50" fill="#3a3a3a" fill-opacity="0.22"/>
<circle cx="536.0" cy="694.3" r="0.54" fill="#3a3a3a" fill-opacity="0.38"/>
<circle cx="546.9" cy="698.5" r="0.39" fill="#3a3a3a" fill-opacity="0.22"/>
<circle cx="568.9" cy="689.8" r="0.44" fill="#3a3a3a" fill-opacity="0.58"/>
<circle cx="546.1" cy="699.7" r="0.41" fill="#3a3a3a" fill-opacity="0.50"/>
<circle cx="560.5" cy="648.6" r="0.54" fill="#3a3a3a" fill-opacity="0.43"/>
<circle cx="561.1" cy="652.0" r="0.51" fill="#3a3a3a" fill-opacity="0.23"/>
<circle cx="561.8" cy="669.9" r="0.46" fill="#3a3a3a" fill-opacity="0.30"/>
<circle cx="572.2" cy="711.0" r="0.31" fill="#3a3a3a" fill-opacity="0.58"/>
<circle cx="567.5" cy="710.4" r="0.31" fill="#3a3a3a" fill-opacity="0.34"/>
<circle cx="546.2" cy="660.7" r="0.34" fill="#3a3a3a" fill-opacity="0.57"/>
<circle cx="562.9" cy="667.0" r="0.40" fill="#3a3a3a" fill-opacity="0.43"/>
<circle cx="545.7" cy="701.8" r="0.32" fill="#3a3a3a" fill-opacity="0.27"/>
<circle cx="562.7" cy="664.6" r="0.32" fill="#3a3a3a" fill-opacity="0.25"/>
<circle cx="558.4" cy="665.8" r="0.54" fill="#3a3a3a" fill-opacity="0.49"/>
<circle cx="572.3" cy="677.1" r="0.53" fill="#3a3a3a" fill-opacity="0.56"/>
<circle cx="544.9" cy="656.2" r="0.29" fill="#3a3a3a" fill-opacity="0.28"/>
<circle cx="562.2" cy="677.2" r="0.29" fill="#3a3a3a" fill-opacity="0.41"/>
<circle cx="517.0" cy="672.8" r="0.37" fill="#3a3a3a" fill-opacity="0.54"/>
<circle cx="558.6" cy="670.4" r="0.34" fill="#3a3a3a" fill-opacity="0.58"/>
<circle cx="577.6" cy="676.5" r="0.46" fill="#3a3a3a" fill-opacity="0.25"/>
<circle cx="529.3" cy="640.3" r="0.31" fill="#3a3a3a" fill-opacity="0.33"/>
<circle cx="548.6" cy="645.5" r="0.45" fill="#3a3a3a" fill-opacity="0.39"/>
<circle cx="533.4" cy="703.9" r="0.33" fill="#3a3a3a" fill-opacity="0.55"/>
<circle cx="551.4" cy="677.6" r="0.43" fill="#3a3a3a" fill-opacity="0.16"/>
<circle cx="542.5" cy="668.2" r="0.47" fill="#3a3a3a" fill-opacity="0.57"/>
<circle cx="540.7" cy="661.6" r="0.41" fill="#3a3a3a" fill-opacity="0.22"/>
<circle cx="537.0" cy="650.7" r="0.35" fill="#3a3a3a" fill-opacity="0.64"/>
<circle cx="549.6" cy="708.6" r="0.31" fill="#3a3a3a" fill-opacity="0.54"/>
<circle cx="565.6" cy="668.4" r="0.33" fill="#3a3a3a" fill-opacity="0.38"/>
<circle cx="547.0" cy="697.2" r="0.43" fill="#3a3a3a" fill-opacity="0.15"/>
<circle cx="546.8" cy="649.6" r="0.35" fill="#3a3a3a" fill-opacity="0.51"/>
<circle cx="533.8" cy="712.5" r="0.44" fill="#3a3a3a" fill-opacity="0.32"/>
<circle cx="571.7" cy="681.6" r="0.48" fill="#3a3a3a" fill-opacity="0.32"/>
<circle cx="578.7" cy="644.0" r="0.51" fill="#3a3a3a" fill-opacity="0.36"/>
<circle cx="528.2" cy="644.7" r="0.47" fill="#3a3a3a" fill-opacity="0.40"/>
<circle cx="571.7" cy="684.6" r="0.42" fill="#3a3a3a" fill-opacity="0.15"/>
<circle cx="529.4" cy="692.0" r="0.30" fill="#3a3a3a" fill-opacity="0.72"/>
<circle cx="576.6" cy="665.5" r="0.50" fill="#3a3a3a" fill-opacity="0.51"/>
<circle cx="540.2" cy="700.6" r="0.34" fill="#3a3a3a" fill-opacity="0.21"/>
<circle cx="555.9" cy="714.4" r="0.30" fill="#3a3a3a" fill-opacity="0.39"/>
<circle cx="533.4" cy="699.4" r="0.32" fill="#3a3a3a" fill-opacity="0.72"/>
<circle cx="541.5" cy="647.2" r="0.36" fill="#3a3a3a" fill-opacity="0.23"/>
<circle cx="558.7" cy="679.5" r="0.47" fill="#3a3a3a" fill-opacity="0.26"/>
<circle cx="571.6" cy="706.6" r="0.55" fill="#3a3a3a" fill-opacity="0.53"/>
<circle cx="526.5" cy="713.1" r="0.34" fill="#3a3a3a" fill-opacity="0.67"/>
<circle cx="528.9" cy="698.8" r="0.55" fill="#3a3a3a" fill-opacity="0.25"/>
<circle cx="557.6" cy="658.5" r="0.48" fill="#3a3a3a" fill-opacity="0.58"/>
<circle cx="549.5" cy="672.4" r="0.33" fill="#3a3a3a" fill-opacity="0.20"/>
<circle cx="564.8" cy="691.6" r="0.55" fill="#3a3a3a" fill-opacity="0.34"/>
<circle cx="549.5" cy="686.2" r="0.30" fill="#3a3a3a" fill-opacity="0.45"/>
<circle cx="534.8" cy="682.8" r="0.41" fill="#3a3a3a" fill-opacity="0.28"/>
<circle cx="528.3" cy="712.6" r="0.48" fill="#3a3a3a" fill-opacity="0.70"/>
<circle cx="535.6" cy="649.8" r="0.42" fill="#3a3a3a" fill-opacity="0.46"/>
<circle cx="538.4" cy="643.3" r="0.29" fill="#3a3a3a" fill-opacity="0.44"/>
<circle cx="565.2" cy="674.9" r="0.34" fill="#3a3a3a" fill-opacity="0.36"/>
<circle cx="541.2" cy="655.4" r="0.55" fill="#3a3a3a" fill-opacity="0.44"/>
<circle cx="571.3" cy="669.7" r="0.34" fill="#3a3a3a" fill-opacity="0.56"/>
<circle cx="573.0" cy="702.4" r="0.38" fill="#3a3a3a" fill-opacity="0.32"/>
<circle cx="537.2" cy="656.0" r="0.52" fill="#3a3a3a" fill-opacity="0.48"/>
<circle cx="571.4" cy="662.6" r="0.40" fill="#3a3a3a" fill-opacity="0.45"/>
<circle cx="536.9" cy="672.7" r="0.34" fill="#3a3a3a" fill-opacity="0.75"/>
<circle cx="577.2" cy="686.8" r="0.30" fill="#3a3a3a" fill-opacity="0.57"/>
<circle cx="561.0" cy="702.9" r="0.35" fill="#3a3a3a" fill-opacity="0.22"/>
<circle cx="539.2" cy="668.5" r="0.34" fill="#3a3a3a" fill-opacity="0.55"/>
<circle cx="545.2" cy="691.2" r="0.42" fill="#3a3a3a" fill-opacity="0.52"/>
<circle cx="534.9" cy="656.0" r="0.35" fill="#3a3a3a" fill-opacity="0.71"/>
<circle cx="577.4" cy="665.4" r="0.29" fill="#3a3a3a" fill-opacity="0.59"/>
<path d="M524.20,640.10 Q536.10,672.45 521.20,715.00" fill="none" stroke="#2a2a2a" stroke-width="0.8"/>
</g>
<rect x="479.20" y="711.30" width="26.80" height="2.00" fill="#111"/>
<text x="482.20" y="709.85" font-size="5.96" fill="#111">750 µm</text>
<defs><clipPath id="c2"><rect x="582.8" y="640.0" width="99.10" height="75.00"/></clipPath><radialGradient id="lg2" cx="582.8" cy="640.0" r="89.2" gradientUnits="userSpaceOnUse"><stop offset="0" stop-color="#c3c3c3"/><stop offset="0.5" stop-color="#cbcbcb"/><stop offset="1" stop-color="#cecece"/></radialGradient></defs>
<g clip-path="url(#c2)">
<rect x="582.80" y="640.00" width="99.10" height="75.00" fill="url(#lg2)"/>
<path d="M636.00,639.0 L636.00,640.00 Q649.75,672.50 636.50,715.00 L636.50,716.0 L682.9,716.0 L682.9,639.0 Z" fill="#d3d3d3"/>
<circle cx="626.14" cy="708.40" r="1.06" fill="#b8b8b8" fill-opacity="0.5"/>
<circle cx="589.38" cy="700.65" r="1.74" fill="#b8b8b8" fill-opacity="0.5"/>
<circle cx="614.06" cy="664.26" r="1.61" fill="#b8b8b8" fill-opacity="0.5"/>
<circle cx="611.41" cy="683.10" r="1.16" fill="#b8b8b8" fill-opacity="0.5"/>
<circle cx="603.97" cy="670.15" r="1.72" fill="#b8b8b8" fill-opacity="0.5"/>
<circle cx="627.78" cy="708.51" r="1.54" fill="#b8b8b8" fill-opacity="0.5"/>
<circle cx="615.0" cy="650.3" r="0.46" fill="#3a3a3a" fill-opacity="0.34"/>
<circle cx="671.4" cy="699.8" r="0.49" fill="#3a3a3a" fill-opacity="0.51"/>
<circle cx="657.5" cy="693.6" r="0.41" fill="#3a3a3a" fill-opacity="0.57"/>
<circle cx="672.0" cy="674.6" r="0.48" fill="#3a3a3a" fill-opacity="0.37"/>
<circle cx="677.7" cy="693.0" r="0.46" fill="#3a3a3a" fill-opacity="0.41"/>
<circle cx="644.6" cy="645.7" r="0.48" fill="#3a3a3a" fill-opacity="0.70"/>
<circle cx="651.3" cy="668.9" r="0.55" fill="#3a3a3a" fill-opacity="0.33"/>
<circle cx="658.7" cy="695.5" r="0.51" fill="#3a3a3a" fill-opacity="0.47"/>
<circle cx="644.7" cy="700.0" r="0.35" fill="#3a3a3a" fill-opacity="0.46"/>
<circle cx="650.7" cy="647.6" r="0.46" fill="#3a3a3a" fill-opacity="0.16"/>
<circle cx="641.1" cy="645.5" r="0.38" fill="#3a3a3a" fill-opacity="0.72"/>
<circle cx="646.3" cy="712.0" r="0.29" fill="#3a3a3a" fill-opacity="0.58"/>
<circle cx="665.6" cy="662.3" r="0.35" fill="#3a3a3a" fill-opacity="0.34"/>
<circle cx="650.1" cy="708.9" r="0.31" fill="#3a3a3a" fill-opacity="0.31"/>
<circle cx="650.3" cy="672.9" r="0.31" fill="#3a3a3a" fill-opacity="0.52"/>
<circle cx="676.9" cy="696.7" r="0.47" fill="#3a3a3a" fill-opacity="0.27"/>
<circle cx="653.2" cy="710.3" r="0.54" fill="#3a3a3a" fill-opacity="0.30"/>
<circle cx="656.7" cy="689.4" r="0.34" fill="#3a3a3a" fill-opacity="0.43"/>
<circle cx="647.2" cy="701.2" r="0.53" fill="#3a3a3a" fill-opacity="0.61"/>
<circle cx="642.9" cy="707.9" r="0.31" fill="#3a3a3a" fill-opacity="0.66"/>
<circle cx="658.8" cy="655.0" r="0.33" fill="#3a3a3a" fill-opacity="0.51"/>
<circle cx="648.0" cy="696.6" r="0.46" fill="#3a3a3a" fill-opacity="0.42"/>
<circle cx="657.5" cy="653.0" r="0.39" fill="#3a3a3a" fill-opacity="0.45"/>
<circle cx="638.0" cy="712.5" r="0.43" fill="#3a3a3a" fill-opacity="0.44"/>
<circle cx="664.5" cy="662.8" r="0.46" fill="#3a3a3a" fill-opacity="0.33"/>
<circle cx="671.5" cy="709.1" r="0.53" fill="#3a3a3a" fill-opacity="0.30"/>
<circle cx="662.9" cy="687.5" r="0.37" fill="#3a3a3a" fill-opacity="0.55"/>
<circle cx="674.6" cy="677.7" r="0.48" fill="#3a3a3a" fill-opacity="0.49"/>
<circle cx="668.9" cy="710.2" r="0.36" fill="#3a3a3a" fill-opacity="0.43"/>
<circle cx="649.3" cy="667.6" r="0.33" fill="#3a3a3a" fill-opacity="0.73"/>
<circle cx="658.9" cy="685.8" r="0.39" fill="#3a3a3a" fill-opacity="0.36"/>
<circle cx="666.1" cy="674.1" r="0.29" fill="#3a3a3a" fill-opacity="0.20"/>
<circle cx="681.4" cy="649.6" r="0.53" fill="#3a3a3a" fill-opacity="0.18"/>
<circle cx="671.9" cy="658.1" r="0.32" fill="#3a3a3a" fill-opacity="0.38"/>
<circle cx="644.5" cy="704.4" r="0.47" fill="#3a3a3a" fill-opacity="0.50"/>
<circle cx="673.7" cy="652.2" r="0.45" fill="#3a3a3a" fill-opacity="0.24"/>
<circle cx="652.4" cy="675.6" r="0.49" fill="#3a3a3a" fill-opacity="0.66"/>
<circle cx="677.5" cy="713.3" r="0.36" fill="#3a3a3a" fill-opacity="0.24"/>
<circle cx="664.5" cy="692.6" r="0.43" fill="#3a3a3a" fill-opacity="0.34"/>
<circle cx="651.5" cy="699.0" r="0.37" fill="#3a3a3a" fill-opacity="0.36"/>
<circle cx="642.8" cy="704.5" r="0.45" fill="#3a3a3a" fill-opacity="0.58"/>
<circle cx="665.7" cy="662.4" r="0.33" fill="#3a3a3a" fill-opacity="0.29"/>
<circle cx="640.3" cy="649.9" r="0.44" fill="#3a3a3a" fill-opacity="0.44"/>
<circle cx="652.5" cy="705.6" r="0.42" fill="#3a3a3a" fill-opacity="0.26"/>
<circle cx="644.4" cy="669.3" r="0.54" fill="#3a3a3a" fill-opacity="0.45"/>
<circle cx="660.3" cy="683.6" r="0.34" fill="#3a3a3a" fill-opacity="0.16"/>
<circle cx="674.2" cy="685.4" r="0.38" fill="#3a3a3a" fill-opacity="0.58"/>
<circle cx="645.8" cy="700.4" r="0.42" fill="#3a3a3a" fill-opacity="0.73"/>
<circle cx="649.4" cy="714.9" r="0.30" fill="#3a3a3a" fill-opacity="0.39"/>
<circle cx="664.8" cy="690.5" r="0.29" fill="#3a3a3a" fill-opacity="0.26"/>
<circle cx="660.9" cy="707.1" r="0.31" fill="#3a3a3a" fill-opacity="0.42"/>
<circle cx="673.5" cy="649.5" r="0.38" fill="#3a3a3a" fill-opacity="0.59"/>
<circle cx="641.7" cy="649.6" r="0.29" fill="#3a3a3a" fill-opacity="0.60"/>
<circle cx="644.4" cy="642.1" r="0.51" fill="#3a3a3a" fill-opacity="0.74"/>
<circle cx="653.4" cy="667.4" r="0.46" fill="#3a3a3a" fill-opacity="0.40"/>
<circle cx="647.5" cy="711.9" r="0.44" fill="#3a3a3a" fill-opacity="0.56"/>
<circle cx="643.9" cy="697.4" r="0.38" fill="#3a3a3a" fill-opacity="0.65"/>
<circle cx="646.9" cy="698.8" r="0.46" fill="#3a3a3a" fill-opacity="0.58"/>
<circle cx="676.2" cy="667.2" r="0.33" fill="#3a3a3a" fill-opacity="0.53"/>
<circle cx="643.5" cy="652.4" r="0.50" fill="#3a3a3a" fill-opacity="0.53"/>
<circle cx="654.8" cy="674.9" r="0.43" fill="#3a3a3a" fill-opacity="0.26"/>
<circle cx="663.2" cy="694.1" r="0.34" fill="#3a3a3a" fill-opacity="0.54"/>
<circle cx="652.2" cy="709.4" r="0.49" fill="#3a3a3a" fill-opacity="0.21"/>
<circle cx="678.0" cy="644.7" r="0.30" fill="#3a3a3a" fill-opacity="0.51"/>
<circle cx="674.1" cy="713.1" r="0.37" fill="#3a3a3a" fill-opacity="0.58"/>
<circle cx="657.4" cy="650.3" r="0.46" fill="#3a3a3a" fill-opacity="0.37"/>
<circle cx="666.6" cy="651.7" r="0.52" fill="#3a3a3a" fill-opacity="0.39"/>
<circle cx="650.6" cy="668.3" r="0.49" fill="#3a3a3a" fill-opacity="0.36"/>
<circle cx="665.5" cy="694.0" r="0.45" fill="#3a3a3a" fill-opacity="0.47"/>
<circle cx="665.4" cy="654.2" r="0.38" fill="#3a3a3a" fill-opacity="0.29"/>
<circle cx="679.1" cy="706.7" r="0.32" fill="#3a3a3a" fill-opacity="0.18"/>
<circle cx="663.5" cy="650.6" r="0.46" fill="#3a3a3a" fill-opacity="0.25"/>
<circle cx="660.8" cy="643.2" r="0.43" fill="#3a3a3a" fill-opacity="0.29"/>
<circle cx="681.6" cy="694.5" r="0.53" fill="#3a3a3a" fill-opacity="0.41"/>
<circle cx="679.3" cy="673.3" r="0.29" fill="#3a3a3a" fill-opacity="0.29"/>
<circle cx="679.5" cy="688.9" r="0.53" fill="#3a3a3a" fill-opacity="0.56"/>
<circle cx="643.5" cy="684.2" r="0.28" fill="#3a3a3a" fill-opacity="0.35"/>
<circle cx="654.2" cy="703.5" r="0.29" fill="#3a3a3a" fill-opacity="0.16"/>
<circle cx="671.9" cy="648.0" r="0.46" fill="#3a3a3a" fill-opacity="0.34"/>
<circle cx="669.7" cy="655.4" r="0.35" fill="#3a3a3a" fill-opacity="0.20"/>
<circle cx="611.7" cy="698.1" r="0.29" fill="#3a3a3a" fill-opacity="0.41"/>
<circle cx="617.9" cy="712.3" r="0.39" fill="#3a3a3a" fill-opacity="0.57"/>
<circle cx="644.7" cy="649.9" r="0.44" fill="#3a3a3a" fill-opacity="0.49"/>
<circle cx="671.3" cy="660.9" r="0.33" fill="#3a3a3a" fill-opacity="0.24"/>
<circle cx="646.6" cy="704.8" r="0.46" fill="#3a3a3a" fill-opacity="0.51"/>
<circle cx="670.4" cy="714.0" r="0.50" fill="#3a3a3a" fill-opacity="0.22"/>
<circle cx="652.2" cy="669.2" r="0.48" fill="#3a3a3a" fill-opacity="0.59"/>
<circle cx="664.5" cy="708.5" r="0.33" fill="#3a3a3a" fill-opacity="0.37"/>
<circle cx="663.2" cy="665.7" r="0.41" fill="#3a3a3a" fill-opacity="0.50"/>
<circle cx="643.5" cy="705.4" r="0.48" fill="#3a3a3a" fill-opacity="0.73"/>
<circle cx="649.7" cy="662.4" r="0.50" fill="#3a3a3a" fill-opacity="0.38"/>
<circle cx="650.4" cy="646.1" r="0.51" fill="#3a3a3a" fill-opacity="0.27"/>
<circle cx="673.6" cy="701.0" r="0.42" fill="#3a3a3a" fill-opacity="0.43"/>
<circle cx="665.4" cy="659.6" r="0.54" fill="#3a3a3a" fill-opacity="0.45"/>
<circle cx="659.9" cy="669.8" r="0.50" fill="#3a3a3a" fill-opacity="0.27"/>
<circle cx="640.9" cy="641.6" r="0.39" fill="#3a3a3a" fill-opacity="0.31"/>
<circle cx="649.5" cy="671.6" r="0.30" fill="#3a3a3a" fill-opacity="0.48"/>
<circle cx="667.5" cy="657.2" r="0.41" fill="#3a3a3a" fill-opacity="0.43"/>
<circle cx="659.5" cy="665.4" r="0.29" fill="#3a3a3a" fill-opacity="0.34"/>
<circle cx="646.4" cy="691.2" r="0.29" fill="#3a3a3a" fill-opacity="0.64"/>
<circle cx="651.7" cy="691.1" r="0.51" fill="#3a3a3a" fill-opacity="0.73"/>
<circle cx="649.9" cy="698.2" r="0.44" fill="#3a3a3a" fill-opacity="0.37"/>
<circle cx="640.0" cy="641.1" r="0.48" fill="#3a3a3a" fill-opacity="0.71"/>
<circle cx="657.7" cy="704.7" r="0.45" fill="#3a3a3a" fill-opacity="0.46"/>
<circle cx="660.7" cy="652.5" r="0.40" fill="#3a3a3a" fill-opacity="0.30"/>
<circle cx="656.6" cy="646.5" r="0.49" fill="#3a3a3a" fill-opacity="0.45"/>
<circle cx="679.7" cy="695.5" r="0.45" fill="#3a3a3a" fill-opacity="0.42"/>
<circle cx="660.8" cy="671.6" r="0.42" fill="#3a3a3a" fill-opacity="0.22"/>
<circle cx="653.7" cy="658.2" r="0.34" fill="#3a3a3a" fill-opacity="0.46"/>
<circle cx="658.1" cy="658.0" r="0.49" fill="#3a3a3a" fill-opacity="0.23"/>
<circle cx="676.9" cy="674.2" r="0.36" fill="#3a3a3a" fill-opacity="0.55"/>
<circle cx="649.6" cy="688.1" r="0.49" fill="#3a3a3a" fill-opacity="0.51"/>
<circle cx="665.7" cy="675.8" r="0.53" fill="#3a3a3a" fill-opacity="0.40"/>
<circle cx="644.9" cy="695.6" r="0.32" fill="#3a3a3a" fill-opacity="0.26"/>
<circle cx="656.8" cy="687.9" r="0.49" fill="#3a3a3a" fill-opacity="0.28"/>
<circle cx="662.6" cy="651.2" r="0.34" fill="#3a3a3a" fill-opacity="0.55"/>
<circle cx="651.3" cy="681.7" r="0.37" fill="#3a3a3a" fill-opacity="0.47"/>
<circle cx="650.7" cy="675.0" r="0.43" fill="#3a3a3a" fill-opacity="0.54"/>
<circle cx="678.8" cy="680.1" r="0.52" fill="#3a3a3a" fill-opacity="0.42"/>
<circle cx="654.8" cy="687.6" r="0.54" fill="#3a3a3a" fill-opacity="0.34"/>
<circle cx="651.1" cy="674.9" r="0.39" fill="#3a3a3a" fill-opacity="0.25"/>
<circle cx="643.6" cy="694.3" r="0.52" fill="#3a3a3a" fill-opacity="0.75"/>
<circle cx="645.4" cy="644.4" r="0.43" fill="#3a3a3a" fill-opacity="0.62"/>
<circle cx="657.9" cy="683.6" r="0.40" fill="#3a3a3a" fill-opacity="0.53"/>
<circle cx="662.0" cy="654.5" r="0.30" fill="#3a3a3a" fill-opacity="0.51"/>
<circle cx="648.0" cy="654.5" r="0.40" fill="#3a3a3a" fill-opacity="0.45"/>
<circle cx="664.1" cy="666.2" r="0.39" fill="#3a3a3a" fill-opacity="0.15"/>
<circle cx="655.0" cy="707.5" r="0.29" fill="#3a3a3a" fill-opacity="0.41"/>
<circle cx="677.6" cy="684.7" r="0.54" fill="#3a3a3a" fill-opacity="0.59"/>
<circle cx="676.9" cy="709.9" r="0.48" fill="#3a3a3a" fill-opacity="0.48"/>
<circle cx="647.9" cy="698.1" r="0.34" fill="#3a3a3a" fill-opacity="0.56"/>
<circle cx="646.9" cy="680.9" r="0.50" fill="#3a3a3a" fill-opacity="0.39"/>
<circle cx="653.1" cy="656.9" r="0.35" fill="#3a3a3a" fill-opacity="0.43"/>
<circle cx="681.3" cy="698.3" r="0.39" fill="#3a3a3a" fill-opacity="0.37"/>
<circle cx="647.5" cy="651.0" r="0.30" fill="#3a3a3a" fill-opacity="0.67"/>
<circle cx="665.3" cy="646.1" r="0.55" fill="#3a3a3a" fill-opacity="0.42"/>
<circle cx="668.2" cy="651.3" r="0.53" fill="#3a3a3a" fill-opacity="0.20"/>
<circle cx="651.9" cy="660.3" r="0.53" fill="#3a3a3a" fill-opacity="0.42"/>
<circle cx="650.3" cy="705.4" r="0.53" fill="#3a3a3a" fill-opacity="0.34"/>
<circle cx="675.2" cy="671.8" r="0.51" fill="#3a3a3a" fill-opacity="0.33"/>
<circle cx="674.5" cy="665.0" r="0.40" fill="#3a3a3a" fill-opacity="0.53"/>
<circle cx="668.1" cy="679.7" r="0.35" fill="#3a3a3a" fill-opacity="0.58"/>
<circle cx="662.1" cy="676.6" r="0.28" fill="#3a3a3a" fill-opacity="0.27"/>
<circle cx="647.5" cy="701.0" r="0.32" fill="#3a3a3a" fill-opacity="0.51"/>
<circle cx="678.3" cy="703.7" r="0.35" fill="#3a3a3a" fill-opacity="0.53"/>
<circle cx="650.1" cy="696.6" r="0.37" fill="#3a3a3a" fill-opacity="0.63"/>
<circle cx="661.7" cy="655.4" r="0.42" fill="#3a3a3a" fill-opacity="0.17"/>
<circle cx="662.9" cy="653.7" r="0.49" fill="#3a3a3a" fill-opacity="0.49"/>
<circle cx="653.8" cy="679.9" r="0.29" fill="#3a3a3a" fill-opacity="0.53"/>
<circle cx="662.9" cy="682.7" r="0.33" fill="#3a3a3a" fill-opacity="0.33"/>
<circle cx="662.5" cy="695.5" r="0.46" fill="#3a3a3a" fill-opacity="0.44"/>
<circle cx="672.0" cy="706.6" r="0.55" fill="#3a3a3a" fill-opacity="0.16"/>
<circle cx="671.3" cy="658.7" r="0.35" fill="#3a3a3a" fill-opacity="0.41"/>
<circle cx="640.1" cy="711.1" r="0.37" fill="#3a3a3a" fill-opacity="0.42"/>
<circle cx="672.2" cy="701.1" r="0.36" fill="#3a3a3a" fill-opacity="0.30"/>
<circle cx="648.7" cy="648.7" r="0.45" fill="#3a3a3a" fill-opacity="0.70"/>
<circle cx="649.8" cy="669.5" r="0.52" fill="#3a3a3a" fill-opacity="0.47"/>
<circle cx="662.6" cy="658.4" r="0.28" fill="#3a3a3a" fill-opacity="0.44"/>
<circle cx="675.9" cy="682.8" r="0.31" fill="#3a3a3a" fill-opacity="0.21"/>
<circle cx="645.3" cy="643.7" r="0.31" fill="#3a3a3a" fill-opacity="0.35"/>
<circle cx="665.3" cy="703.7" r="0.39" fill="#3a3a3a" fill-opacity="0.46"/>
<circle cx="681.4" cy="674.9" r="0.51" fill="#3a3a3a" fill-opacity="0.23"/>
<circle cx="654.1" cy="646.1" r="0.45" fill="#3a3a3a" fill-opacity="0.16"/>
<circle cx="644.1" cy="697.6" r="0.33" fill="#3a3a3a" fill-opacity="0.27"/>
<circle cx="664.1" cy="686.8" r="0.31" fill="#3a3a3a" fill-opacity="0.27"/>
<circle cx="667.1" cy="681.6" r="0.28" fill="#3a3a3a" fill-opacity="0.26"/>
<circle cx="649.9" cy="671.0" r="0.35" fill="#3a3a3a" fill-opacity="0.31"/>
<circle cx="654.2" cy="654.4" r="0.54" fill="#3a3a3a" fill-opacity="0.34"/>
<circle cx="643.8" cy="699.6" r="0.50" fill="#3a3a3a" fill-opacity="0.56"/>
<circle cx="665.1" cy="705.5" r="0.28" fill="#3a3a3a" fill-opacity="0.57"/>
<circle cx="658.4" cy="714.9" r="0.45" fill="#3a3a3a" fill-opacity="0.55"/>
<circle cx="666.3" cy="677.9" r="0.39" fill="#3a3a3a" fill-opacity="0.28"/>
<circle cx="644.5" cy="681.6" r="0.41" fill="#3a3a3a" fill-opacity="0.46"/>
<circle cx="669.1" cy="649.2" r="0.43" fill="#3a3a3a" fill-opacity="0.16"/>
<circle cx="660.4" cy="678.6" r="0.43" fill="#3a3a3a" fill-opacity="0.50"/>
<circle cx="663.0" cy="677.8" r="0.47" fill="#3a3a3a" fill-opacity="0.58"/>
<circle cx="646.0" cy="707.7" r="0.52" fill="#3a3a3a" fill-opacity="0.54"/>
<circle cx="636.6" cy="641.9" r="0.37" fill="#3a3a3a" fill-opacity="0.49"/>
<circle cx="673.7" cy="640.4" r="0.34" fill="#3a3a3a" fill-opacity="0.44"/>
<circle cx="677.6" cy="685.7" r="0.46" fill="#3a3a3a" fill-opacity="0.59"/>
<circle cx="644.2" cy="659.4" r="0.42" fill="#3a3a3a" fill-opacity="0.38"/>
<circle cx="664.6" cy="704.3" r="0.40" fill="#3a3a3a" fill-opacity="0.34"/>
<circle cx="673.8" cy="672.5" r="0.46" fill="#3a3a3a" fill-opacity="0.39"/>
<circle cx="658.6" cy="683.9" r="0.35" fill="#3a3a3a" fill-opacity="0.39"/>
<circle cx="663.4" cy="678.2" r="0.40" fill="#3a3a3a" fill-opacity="0.33"/>
<circle cx="650.7" cy="692.0" r="0.49" fill="#3a3a3a" fill-opacity="0.66"/>
<circle cx="653.7" cy="650.1" r="0.45" fill="#3a3a3a" fill-opacity="0.30"/>
<circle cx="681.5" cy="651.9" r="0.49" fill="#3a3a3a" fill-opacity="0.23"/>
<circle cx="663.7" cy="673.2" r="0.34" fill="#3a3a3a" fill-opacity="0.49"/>
<circle cx="676.6" cy="705.4" r="0.30" fill="#3a3a3a" fill-opacity="0.29"/>
<circle cx="636.5" cy="641.6" r="0.39" fill="#3a3a3a" fill-opacity="0.60"/>
<circle cx="680.7" cy="660.8" r="0.40" fill="#3a3a3a" fill-opacity="0.42"/>
<circle cx="651.3" cy="685.1" r="0.41" fill="#3a3a3a" fill-opacity="0.62"/>
<circle cx="673.3" cy="647.6" r="0.38" fill="#3a3a3a" fill-opacity="0.35"/>
<circle cx="644.9" cy="643.5" r="0.47" fill="#3a3a3a" fill-opacity="0.52"/>
<circle cx="659.8" cy="682.2" r="0.38" fill="#3a3a3a" fill-opacity="0.46"/>
<circle cx="645.0" cy="699.3" r="0.45" fill="#3a3a3a" fill-opacity="0.33"/>
<circle cx="673.7" cy="709.2" r="0.41" fill="#3a3a3a" fill-opacity="0.21"/>
<circle cx="659.6" cy="708.5" r="0.40" fill="#3a3a3a" fill-opacity="0.29"/>
<circle cx="673.3" cy="708.3" r="0.32" fill="#3a3a3a" fill-opacity="0.45"/>
<circle cx="650.5" cy="689.5" r="0.41" fill="#3a3a3a" fill-opacity="0.70"/>
<circle cx="654.5" cy="693.5" r="0.54" fill="#3a3a3a" fill-opacity="0.18"/>
<circle cx="657.1" cy="704.8" r="0.30" fill="#3a3a3a" fill-opacity="0.32"/>
<circle cx="648.5" cy="667.6" r="0.40" fill="#3a3a3a" fill-opacity="0.28"/>
<circle cx="646.9" cy="679.9" r="0.30" fill="#3a3a3a" fill-opacity="0.58"/>
<circle cx="645.2" cy="691.2" r="0.52" fill="#3a3a3a" fill-opacity="0.39"/>
<circle cx="671.0" cy="665.3" r="0.47" fill="#3a3a3a" fill-opacity="0.48"/>
<circle cx="645.7" cy="653.0" r="0.29" fill="#3a3a3a" fill-opacity="0.35"/>
<circle cx="676.2" cy="663.6" r="0.36" fill="#3a3a3a" fill-opacity="0.24"/>
<circle cx="667.0" cy="640.2" r="0.30" fill="#3a3a3a" fill-opacity="0.17"/>
<circle cx="669.1" cy="700.3" r="0.50" fill="#3a3a3a" fill-opacity="0.48"/>
<circle cx="666.2" cy="671.2" r="0.35" fill="#3a3a3a" fill-opacity="0.35"/>
<circle cx="652.6" cy="693.0" r="0.55" fill="#3a3a3a" fill-opacity="0.37"/>
<circle cx="647.1" cy="651.4" r="0.37" fill="#3a3a3a" fill-opacity="0.49"/>
<circle cx="650.6" cy="714.5" r="0.55" fill="#3a3a3a" fill-opacity="0.28"/>
<circle cx="665.5" cy="647.1" r="0.48" fill="#3a3a3a" fill-opacity="0.38"/>
<circle cx="653.0" cy="647.9" r="0.47" fill="#3a3a3a" fill-opacity="0.49"/>
<circle cx="646.5" cy="682.5" r="0.44" fill="#3a3a3a" fill-opacity="0.31"/>
<circle cx="673.0" cy="666.2" r="0.44" fill="#3a3a3a" fill-opacity="0.60"/>
<circle cx="660.8" cy="695.9" r="0.30" fill="#3a3a3a" fill-opacity="0.40"/>
<circle cx="664.6" cy="710.4" r="0.39" fill="#3a3a3a" fill-opacity="0.24"/>
<circle cx="653.5" cy="678.2" r="0.39" fill="#3a3a3a" fill-opacity="0.41"/>
<circle cx="647.5" cy="655.9" r="0.46" fill="#3a3a3a" fill-opacity="0.72"/>
<circle cx="681.1" cy="659.1" r="0.40" fill="#3a3a3a" fill-opacity="0.46"/>
<circle cx="678.8" cy="672.6" r="0.36" fill="#3a3a3a" fill-opacity="0.56"/>
<circle cx="675.4" cy="713.3" r="0.43" fill="#3a3a3a" fill-opacity="0.21"/>
<circle cx="641.1" cy="703.3" r="0.30" fill="#3a3a3a" fill-opacity="0.46"/>
<circle cx="648.1" cy="659.9" r="0.38" fill="#3a3a3a" fill-opacity="0.45"/>
<path d="M635.4,641.1 L637.4,647.7 L639.8,656.6 L641.5,664.7 L642.3,674.4 L642.0,683.3 L641.5,694.7 L640.2,704.4 L638.2,713.7 L633.8,714.5 L631.3,713.3 L630.6,711.3 L630.1,709.3 L632.1,707.6 L631.0,706.5 L630.2,704.9 L628.5,704.4 L630.5,702.0 L629.3,699.5 L631.3,697.5 L630.2,696.0 L632.2,695.3 L634.2,694.7 L632.6,692.5 L634.4,691.6 L636.2,690.6 L635.4,689.2 L633.9,688.3 L633.4,686.6 L634.2,685.0 L635.0,683.3 L633.8,681.0 L635.7,680.8 L637.4,680.1 L638.7,678.7 L639.0,676.9 L637.4,675.6 L637.0,673.6 L638.1,671.8 L639.8,670.4 L638.2,669.1 L637.8,667.1 L638.8,665.0 L637.4,662.3 L638.3,660.4 L638.2,658.2 L636.2,655.8 L634.3,654.7 L632.1,654.2 L630.1,652.6 L631.3,651.0 L633.4,652.2 L634.2,650.1 L633.6,648.0 L634.6,646.1 L635.7,644.6 L636.0,642.9 L635.4,641.1 Z" fill="none" stroke="#ee1c26" stroke-width="0.85" stroke-linejoin="round"/>
</g>
<defs><clipPath id="c3"><rect x="479.0" y="718.1" width="100.00" height="74.20"/></clipPath><radialGradient id="lg3" cx="479.0" cy="718.1" r="90.0" gradientUnits="userSpaceOnUse"><stop offset="0" stop-color="#c3c3c3"/><stop offset="0.5" stop-color="#cbcbcb"/><stop offset="1" stop-color="#cecece"/></radialGradient></defs>
<g clip-path="url(#c3)">
<rect x="479.00" y="718.10" width="100.00" height="74.20" fill="url(#lg3)"/>
<path d="M526.60,717.1 L526.60,718.10 Q543.70,774.00 532.40,792.30 L532.40,793.3 L580.0,793.3 L580.0,717.1 Z" fill="#d3d3d3"/>
<circle cx="490.71" cy="758.22" r="1.37" fill="#b8b8b8" fill-opacity="0.5"/>
<circle cx="504.10" cy="763.77" r="1.07" fill="#b8b8b8" fill-opacity="0.5"/>
<circle cx="482.48" cy="778.22" r="1.26" fill="#b8b8b8" fill-opacity="0.5"/>
<circle cx="490.58" cy="789.00" r="1.47" fill="#b8b8b8" fill-opacity="0.5"/>
<circle cx="512.61" cy="753.59" r="1.64" fill="#b8b8b8" fill-opacity="0.5"/>
<circle cx="487.51" cy="764.40" r="1.87" fill="#b8b8b8" fill-opacity="0.5"/>
<circle cx="565.6" cy="753.2" r="0.47" fill="#3a3a3a" fill-opacity="0.56"/>
<circle cx="537.4" cy="785.2" r="0.53" fill="#3a3a3a" fill-opacity="0.68"/>
<circle cx="578.1" cy="767.9" r="0.54" fill="#3a3a3a" fill-opacity="0.56"/>
<circle cx="536.4" cy="739.2" r="0.51" fill="#3a3a3a" fill-opacity="0.74"/>
<circle cx="567.1" cy="790.9" r="0.36" fill="#3a3a3a" fill-opacity="0.18"/>
<circle cx="540.0" cy="729.7" r="0.51" fill="#3a3a3a" fill-opacity="0.41"/>
<circle cx="574.9" cy="784.6" r="0.42" fill="#3a3a3a" fill-opacity="0.44"/>
<circle cx="538.6" cy="759.6" r="0.53" fill="#3a3a3a" fill-opacity="0.50"/>
<circle cx="542.2" cy="722.6" r="0.46" fill="#3a3a3a" fill-opacity="0.31"/>
<circle cx="546.6" cy="789.6" r="0.44" fill="#3a3a3a" fill-opacity="0.29"/>
<circle cx="571.1" cy="729.7" r="0.52" fill="#3a3a3a" fill-opacity="0.59"/>
<circle cx="553.6" cy="780.2" r="0.36" fill="#3a3a3a" fill-opacity="0.30"/>
<circle cx="560.0" cy="721.4" r="0.53" fill="#3a3a3a" fill-opacity="0.55"/>
<circle cx="569.0" cy="760.9" r="0.33" fill="#3a3a3a" fill-opacity="0.28"/>
<circle cx="545.3" cy="757.1" r="0.53" fill="#3a3a3a" fill-opacity="0.56"/>
<circle cx="557.2" cy="744.2" r="0.50" fill="#3a3a3a" fill-opacity="0.23"/>
<circle cx="558.2" cy="786.5" r="0.28" fill="#3a3a3a" fill-opacity="0.43"/>
<circle cx="543.7" cy="761.6" r="0.33" fill="#3a3a3a" fill-opacity="0.41"/>
<circle cx="557.3" cy="746.3" r="0.40" fill="#3a3a3a" fill-opacity="0.32"/>
<circle cx="572.6" cy="745.9" r="0.35" fill="#3a3a3a" fill-opacity="0.36"/>
<circle cx="558.2" cy="767.6" r="0.31" fill="#3a3a3a" fill-opacity="0.41"/>
<circle cx="546.4" cy="780.1" r="0.50" fill="#3a3a3a" fill-opacity="0.17"/>
<circle cx="553.7" cy="730.0" r="0.46" fill="#3a3a3a" fill-opacity="0.38"/>
<circle cx="548.1" cy="788.8" r="0.39" fill="#3a3a3a" fill-opacity="0.53"/>
<circle cx="537.5" cy="737.9" r="0.29" fill="#3a3a3a" fill-opacity="0.49"/>
<circle cx="556.4" cy="728.8" r="0.44" fill="#3a3a3a" fill-opacity="0.36"/>
<circle cx="562.5" cy="779.1" r="0.47" fill="#3a3a3a" fill-opacity="0.54"/>
<circle cx="562.4" cy="739.7" r="0.46" fill="#3a3a3a" fill-opacity="0.15"/>
<circle cx="537.5" cy="789.0" r="0.43" fill="#3a3a3a" fill-opacity="0.31"/>
<circle cx="556.2" cy="774.3" r="0.46" fill="#3a3a3a" fill-opacity="0.51"/>
<circle cx="532.6" cy="726.5" r="0.38" fill="#3a3a3a" fill-opacity="0.61"/>
<circle cx="546.9" cy="760.1" r="0.45" fill="#3a3a3a" fill-opacity="0.57"/>
<circle cx="572.2" cy="728.6" r="0.44" fill="#3a3a3a" fill-opacity="0.40"/>
<circle cx="543.7" cy="752.1" r="0.33" fill="#3a3a3a" fill-opacity="0.28"/>
<circle cx="550.6" cy="774.1" r="0.38" fill="#3a3a3a" fill-opacity="0.27"/>
<circle cx="568.1" cy="788.5" r="0.44" fill="#3a3a3a" fill-opacity="0.44"/>
<circle cx="576.7" cy="769.0" r="0.41" fill="#3a3a3a" fill-opacity="0.42"/>
<circle cx="551.7" cy="718.3" r="0.41" fill="#3a3a3a" fill-opacity="0.39"/>
<circle cx="574.9" cy="784.3" r="0.45" fill="#3a3a3a" fill-opacity="0.17"/>
<circle cx="572.0" cy="742.1" r="0.32" fill="#3a3a3a" fill-opacity="0.54"/>
<circle cx="539.1" cy="786.9" r="0.48" fill="#3a3a3a" fill-opacity="0.42"/>
<circle cx="548.9" cy="758.0" r="0.36" fill="#3a3a3a" fill-opacity="0.36"/>
<circle cx="554.7" cy="747.9" r="0.47" fill="#3a3a3a" fill-opacity="0.32"/>
<circle cx="541.2" cy="743.8" r="0.29" fill="#3a3a3a" fill-opacity="0.61"/>
<circle cx="541.9" cy="743.7" r="0.46" fill="#3a3a3a" fill-opacity="0.73"/>
<circle cx="569.0" cy="733.0" r="0.50" fill="#3a3a3a" fill-opacity="0.56"/>
<circle cx="573.0" cy="720.6" r="0.54" fill="#3a3a3a" fill-opacity="0.19"/>
<circle cx="553.0" cy="772.6" r="0.53" fill="#3a3a3a" fill-opacity="0.31"/>
<circle cx="550.1" cy="719.8" r="0.46" fill="#3a3a3a" fill-opacity="0.19"/>
<circle cx="566.2" cy="751.5" r="0.37" fill="#3a3a3a" fill-opacity="0.32"/>
<circle cx="535.9" cy="726.3" r="0.46" fill="#3a3a3a" fill-opacity="0.37"/>
<circle cx="543.2" cy="774.6" r="0.37" fill="#3a3a3a" fill-opacity="0.55"/>
<circle cx="560.5" cy="733.4" r="0.48" fill="#3a3a3a" fill-opacity="0.18"/>
<circle cx="552.5" cy="749.5" r="0.34" fill="#3a3a3a" fill-opacity="0.31"/>
<circle cx="566.5" cy="791.3" r="0.42" fill="#3a3a3a" fill-opacity="0.34"/>
<circle cx="573.8" cy="785.1" r="0.49" fill="#3a3a3a" fill-opacity="0.33"/>
<circle cx="578.7" cy="786.4" r="0.33" fill="#3a3a3a" fill-opacity="0.19"/>
<circle cx="551.2" cy="739.9" r="0.29" fill="#3a3a3a" fill-opacity="0.49"/>
<circle cx="549.0" cy="790.5" r="0.38" fill="#3a3a3a" fill-opacity="0.22"/>
<circle cx="559.7" cy="718.8" r="0.42" fill="#3a3a3a" fill-opacity="0.22"/>
<circle cx="554.8" cy="776.7" r="0.43" fill="#3a3a3a" fill-opacity="0.28"/>
<circle cx="569.6" cy="752.8" r="0.50" fill="#3a3a3a" fill-opacity="0.42"/>
<circle cx="574.9" cy="729.6" r="0.39" fill="#3a3a3a" fill-opacity="0.53"/>
<circle cx="549.9" cy="785.7" r="0.38" fill="#3a3a3a" fill-opacity="0.38"/>
<circle cx="571.1" cy="731.5" r="0.37" fill="#3a3a3a" fill-opacity="0.27"/>
<circle cx="560.8" cy="718.5" r="0.30" fill="#3a3a3a" fill-opacity="0.27"/>
<circle cx="486.7" cy="732.3" r="0.54" fill="#3a3a3a" fill-opacity="0.37"/>
<circle cx="557.2" cy="760.3" r="0.40" fill="#3a3a3a" fill-opacity="0.39"/>
<circle cx="562.3" cy="733.0" r="0.51" fill="#3a3a3a" fill-opacity="0.23"/>
<circle cx="566.3" cy="726.6" r="0.49" fill="#3a3a3a" fill-opacity="0.60"/>
<circle cx="565.2" cy="780.1" r="0.35" fill="#3a3a3a" fill-opacity="0.21"/>
<circle cx="563.7" cy="775.8" r="0.38" fill="#3a3a3a" fill-opacity="0.59"/>
<circle cx="544.2" cy="783.0" r="0.32" fill="#3a3a3a" fill-opacity="0.36"/>
<circle cx="571.1" cy="757.7" r="0.51" fill="#3a3a3a" fill-opacity="0.56"/>
<circle cx="561.6" cy="742.7" r="0.52" fill="#3a3a3a" fill-opacity="0.24"/>
<circle cx="566.1" cy="734.1" r="0.31" fill="#3a3a3a" fill-opacity="0.56"/>
<circle cx="539.9" cy="731.1" r="0.39" fill="#3a3a3a" fill-opacity="0.52"/>
<circle cx="538.8" cy="764.7" r="0.30" fill="#3a3a3a" fill-opacity="0.64"/>
<circle cx="568.9" cy="769.0" r="0.55" fill="#3a3a3a" fill-opacity="0.31"/>
<circle cx="578.6" cy="753.9" r="0.37" fill="#3a3a3a" fill-opacity="0.48"/>
<circle cx="537.3" cy="726.1" r="0.51" fill="#3a3a3a" fill-opacity="0.49"/>
<circle cx="537.3" cy="779.2" r="0.31" fill="#3a3a3a" fill-opacity="0.63"/>
<circle cx="549.4" cy="773.8" r="0.54" fill="#3a3a3a" fill-opacity="0.30"/>
<circle cx="554.8" cy="755.6" r="0.48" fill="#3a3a3a" fill-opacity="0.32"/>
<circle cx="545.9" cy="762.9" r="0.32" fill="#3a3a3a" fill-opacity="0.56"/>
<circle cx="557.5" cy="747.1" r="0.45" fill="#3a3a3a" fill-opacity="0.27"/>
<circle cx="549.1" cy="718.2" r="0.33" fill="#3a3a3a" fill-opacity="0.16"/>
<circle cx="545.7" cy="742.3" r="0.50" fill="#3a3a3a" fill-opacity="0.31"/>
<circle cx="535.9" cy="737.8" r="0.44" fill="#3a3a3a" fill-opacity="0.58"/>
<circle cx="578.9" cy="727.2" r="0.35" fill="#3a3a3a" fill-opacity="0.57"/>
<circle cx="546.6" cy="786.8" r="0.43" fill="#3a3a3a" fill-opacity="0.33"/>
<circle cx="551.8" cy="725.8" r="0.38" fill="#3a3a3a" fill-opacity="0.38"/>
<circle cx="550.5" cy="786.0" r="0.50" fill="#3a3a3a" fill-opacity="0.47"/>
<circle cx="577.0" cy="728.3" r="0.31" fill="#3a3a3a" fill-opacity="0.42"/>
<circle cx="573.7" cy="739.8" r="0.40" fill="#3a3a3a" fill-opacity="0.22"/>
<circle cx="573.9" cy="741.6" r="0.36" fill="#3a3a3a" fill-opacity="0.19"/>
<circle cx="567.8" cy="736.2" r="0.34" fill="#3a3a3a" fill-opacity="0.56"/>
<circle cx="562.8" cy="787.4" r="0.30" fill="#3a3a3a" fill-opacity="0.26"/>
<circle cx="563.8" cy="753.7" r="0.51" fill="#3a3a3a" fill-opacity="0.32"/>
<circle cx="558.6" cy="792.2" r="0.43" fill="#3a3a3a" fill-opacity="0.19"/>
<circle cx="568.1" cy="724.9" r="0.36" fill="#3a3a3a" fill-opacity="0.45"/>
<circle cx="553.4" cy="764.1" r="0.28" fill="#3a3a3a" fill-opacity="0.24"/>
<circle cx="545.9" cy="728.2" r="0.51" fill="#3a3a3a" fill-opacity="0.28"/>
<circle cx="573.7" cy="766.3" r="0.44" fill="#3a3a3a" fill-opacity="0.43"/>
<circle cx="545.0" cy="778.4" r="0.28" fill="#3a3a3a" fill-opacity="0.47"/>
<circle cx="564.1" cy="761.2" r="0.45" fill="#3a3a3a" fill-opacity="0.18"/>
<circle cx="536.9" cy="729.2" r="0.47" fill="#3a3a3a" fill-opacity="0.28"/>
<circle cx="571.1" cy="780.5" r="0.45" fill="#3a3a3a" fill-opacity="0.59"/>
<circle cx="566.8" cy="774.5" r="0.29" fill="#3a3a3a" fill-opacity="0.27"/>
<circle cx="537.7" cy="782.8" r="0.32" fill="#3a3a3a" fill-opacity="0.66"/>
<circle cx="536.4" cy="779.4" r="0.36" fill="#3a3a3a" fill-opacity="0.70"/>
<circle cx="545.3" cy="746.2" r="0.40" fill="#3a3a3a" fill-opacity="0.57"/>
<circle cx="554.9" cy="738.7" r="0.50" fill="#3a3a3a" fill-opacity="0.44"/>
<circle cx="537.9" cy="751.4" r="0.48" fill="#3a3a3a" fill-opacity="0.74"/>
<circle cx="537.0" cy="781.4" r="0.49" fill="#3a3a3a" fill-opacity="0.56"/>
<circle cx="537.4" cy="741.2" r="0.31" fill="#3a3a3a" fill-opacity="0.51"/>
<circle cx="560.9" cy="719.0" r="0.30" fill="#3a3a3a" fill-opacity="0.34"/>
<circle cx="567.7" cy="764.4" r="0.38" fill="#3a3a3a" fill-opacity="0.55"/>
<circle cx="564.9" cy="761.9" r="0.50" fill="#3a3a3a" fill-opacity="0.41"/>
<circle cx="541.7" cy="742.0" r="0.55" fill="#3a3a3a" fill-opacity="0.74"/>
<circle cx="576.7" cy="751.9" r="0.34" fill="#3a3a3a" fill-opacity="0.50"/>
<circle cx="541.2" cy="779.1" r="0.30" fill="#3a3a3a" fill-opacity="0.34"/>
<circle cx="541.7" cy="720.0" r="0.52" fill="#3a3a3a" fill-opacity="0.54"/>
<circle cx="562.7" cy="759.3" r="0.43" fill="#3a3a3a" fill-opacity="0.34"/>
<circle cx="568.3" cy="734.9" r="0.35" fill="#3a3a3a" fill-opacity="0.21"/>
<circle cx="539.2" cy="726.5" r="0.39" fill="#3a3a3a" fill-opacity="0.62"/>
<circle cx="542.1" cy="781.5" r="0.47" fill="#3a3a3a" fill-opacity="0.44"/>
<circle cx="553.0" cy="741.9" r="0.45" fill="#3a3a3a" fill-opacity="0.22"/>
<circle cx="575.5" cy="747.0" r="0.53" fill="#3a3a3a" fill-opacity="0.39"/>
<circle cx="554.3" cy="768.7" r="0.44" fill="#3a3a3a" fill-opacity="0.36"/>
<circle cx="545.0" cy="785.6" r="0.32" fill="#3a3a3a" fill-opacity="0.47"/>
<circle cx="541.7" cy="787.7" r="0.33" fill="#3a3a3a" fill-opacity="0.74"/>
<circle cx="558.0" cy="740.6" r="0.48" fill="#3a3a3a" fill-opacity="0.55"/>
<circle cx="552.7" cy="761.4" r="0.30" fill="#3a3a3a" fill-opacity="0.42"/>
<circle cx="540.3" cy="745.9" r="0.49" fill="#3a3a3a" fill-opacity="0.33"/>
<circle cx="546.7" cy="744.2" r="0.49" fill="#3a3a3a" fill-opacity="0.43"/>
<circle cx="541.6" cy="741.1" r="0.46" fill="#3a3a3a" fill-opacity="0.54"/>
<circle cx="576.8" cy="720.8" r="0.30" fill="#3a3a3a" fill-opacity="0.52"/>
<circle cx="537.1" cy="723.3" r="0.28" fill="#3a3a3a" fill-opacity="0.67"/>
<circle cx="573.7" cy="743.4" r="0.35" fill="#3a3a3a" fill-opacity="0.23"/>
<circle cx="562.6" cy="741.5" r="0.38" fill="#3a3a3a" fill-opacity="0.30"/>
<circle cx="564.2" cy="747.8" r="0.53" fill="#3a3a3a" fill-opacity="0.17"/>
<circle cx="556.9" cy="750.8" r="0.51" fill="#3a3a3a" fill-opacity="0.47"/>
<circle cx="535.6" cy="740.8" r="0.53" fill="#3a3a3a" fill-opacity="0.43"/>
<circle cx="558.8" cy="723.9" r="0.30" fill="#3a3a3a" fill-opacity="0.39"/>
<circle cx="567.3" cy="749.0" r="0.54" fill="#3a3a3a" fill-opacity="0.49"/>
<circle cx="539.3" cy="751.2" r="0.45" fill="#3a3a3a" fill-opacity="0.59"/>
<circle cx="536.7" cy="737.0" r="0.42" fill="#3a3a3a" fill-opacity="0.40"/>
<circle cx="539.3" cy="738.3" r="0.45" fill="#3a3a3a" fill-opacity="0.28"/>
<circle cx="538.1" cy="740.9" r="0.53" fill="#3a3a3a" fill-opacity="0.32"/>
<circle cx="548.6" cy="743.7" r="0.53" fill="#3a3a3a" fill-opacity="0.50"/>
<circle cx="542.7" cy="790.7" r="0.46" fill="#3a3a3a" fill-opacity="0.58"/>
<circle cx="563.9" cy="769.1" r="0.33" fill="#3a3a3a" fill-opacity="0.51"/>
<circle cx="541.5" cy="740.6" r="0.38" fill="#3a3a3a" fill-opacity="0.55"/>
<circle cx="572.1" cy="789.5" r="0.53" fill="#3a3a3a" fill-opacity="0.27"/>
<circle cx="557.1" cy="740.2" r="0.41" fill="#3a3a3a" fill-opacity="0.21"/>
<circle cx="544.2" cy="770.1" r="0.29" fill="#3a3a3a" fill-opacity="0.30"/>
<circle cx="554.0" cy="728.0" r="0.51" fill="#3a3a3a" fill-opacity="0.60"/>
<circle cx="561.0" cy="770.9" r="0.40" fill="#3a3a3a" fill-opacity="0.17"/>
<circle cx="544.7" cy="778.5" r="0.52" fill="#3a3a3a" fill-opacity="0.42"/>
<circle cx="541.9" cy="748.1" r="0.36" fill="#3a3a3a" fill-opacity="0.39"/>
<circle cx="579.0" cy="733.4" r="0.46" fill="#3a3a3a" fill-opacity="0.31"/>
<circle cx="537.5" cy="759.0" r="0.51" fill="#3a3a3a" fill-opacity="0.47"/>
<circle cx="574.3" cy="773.9" r="0.45" fill="#3a3a3a" fill-opacity="0.28"/>
<circle cx="577.1" cy="745.8" r="0.35" fill="#3a3a3a" fill-opacity="0.25"/>
<circle cx="567.8" cy="790.8" r="0.43" fill="#3a3a3a" fill-opacity="0.50"/>
<circle cx="561.3" cy="780.0" r="0.54" fill="#3a3a3a" fill-opacity="0.41"/>
<circle cx="547.8" cy="777.3" r="0.50" fill="#3a3a3a" fill-opacity="0.43"/>
<circle cx="572.3" cy="743.1" r="0.47" fill="#3a3a3a" fill-opacity="0.51"/>
<circle cx="561.9" cy="750.9" r="0.35" fill="#3a3a3a" fill-opacity="0.38"/>
<circle cx="568.2" cy="737.8" r="0.35" fill="#3a3a3a" fill-opacity="0.38"/>
<circle cx="541.8" cy="738.1" r="0.45" fill="#3a3a3a" fill-opacity="0.73"/>
<circle cx="560.5" cy="744.2" r="0.49" fill="#3a3a3a" fill-opacity="0.29"/>
<circle cx="541.6" cy="727.9" r="0.31" fill="#3a3a3a" fill-opacity="0.35"/>
<circle cx="537.7" cy="746.9" r="0.51" fill="#3a3a3a" fill-opacity="0.39"/>
<circle cx="555.1" cy="774.2" r="0.43" fill="#3a3a3a" fill-opacity="0.48"/>
<circle cx="548.1" cy="738.2" r="0.40" fill="#3a3a3a" fill-opacity="0.55"/>
<circle cx="572.2" cy="745.9" r="0.48" fill="#3a3a3a" fill-opacity="0.33"/>
<circle cx="545.7" cy="723.1" r="0.54" fill="#3a3a3a" fill-opacity="0.20"/>
<circle cx="548.1" cy="776.1" r="0.33" fill="#3a3a3a" fill-opacity="0.25"/>
<circle cx="558.7" cy="790.1" r="0.52" fill="#3a3a3a" fill-opacity="0.44"/>
<circle cx="543.1" cy="784.7" r="0.40" fill="#3a3a3a" fill-opacity="0.62"/>
<circle cx="550.8" cy="773.8" r="0.30" fill="#3a3a3a" fill-opacity="0.42"/>
<circle cx="575.5" cy="730.8" r="0.34" fill="#3a3a3a" fill-opacity="0.28"/>
<circle cx="563.9" cy="762.6" r="0.50" fill="#3a3a3a" fill-opacity="0.28"/>
<circle cx="540.3" cy="784.1" r="0.41" fill="#3a3a3a" fill-opacity="0.38"/>
<circle cx="572.3" cy="757.9" r="0.48" fill="#3a3a3a" fill-opacity="0.27"/>
<circle cx="544.8" cy="729.3" r="0.30" fill="#3a3a3a" fill-opacity="0.34"/>
<circle cx="551.1" cy="788.9" r="0.35" fill="#3a3a3a" fill-opacity="0.57"/>
<circle cx="553.6" cy="790.7" r="0.40" fill="#3a3a3a" fill-opacity="0.42"/>
<circle cx="537.8" cy="766.7" r="0.35" fill="#3a3a3a" fill-opacity="0.26"/>
<circle cx="538.4" cy="770.9" r="0.35" fill="#3a3a3a" fill-opacity="0.63"/>
<circle cx="550.0" cy="728.2" r="0.47" fill="#3a3a3a" fill-opacity="0.29"/>
<circle cx="575.7" cy="750.9" r="0.51" fill="#3a3a3a" fill-opacity="0.23"/>
<circle cx="553.2" cy="748.6" r="0.35" fill="#3a3a3a" fill-opacity="0.20"/>
<circle cx="554.3" cy="785.3" r="0.52" fill="#3a3a3a" fill-opacity="0.38"/>
<circle cx="553.7" cy="746.0" r="0.30" fill="#3a3a3a" fill-opacity="0.41"/>
<circle cx="551.2" cy="790.6" r="0.47" fill="#3a3a3a" fill-opacity="0.27"/>
<circle cx="551.2" cy="729.1" r="0.43" fill="#3a3a3a" fill-opacity="0.46"/>
<circle cx="573.8" cy="745.3" r="0.28" fill="#3a3a3a" fill-opacity="0.31"/>
<circle cx="575.8" cy="719.0" r="0.55" fill="#3a3a3a" fill-opacity="0.31"/>
<circle cx="545.6" cy="785.8" r="0.36" fill="#3a3a3a" fill-opacity="0.47"/>
<circle cx="535.3" cy="736.8" r="0.35" fill="#3a3a3a" fill-opacity="0.43"/>
<circle cx="540.3" cy="771.5" r="0.40" fill="#3a3a3a" fill-opacity="0.66"/>
<circle cx="576.3" cy="759.7" r="0.31" fill="#3a3a3a" fill-opacity="0.59"/>
<circle cx="537.5" cy="778.7" r="0.48" fill="#3a3a3a" fill-opacity="0.41"/>
<circle cx="557.2" cy="742.0" r="0.35" fill="#3a3a3a" fill-opacity="0.20"/>
<circle cx="544.8" cy="780.1" r="0.33" fill="#3a3a3a" fill-opacity="0.27"/>
<circle cx="577.6" cy="770.7" r="0.44" fill="#3a3a3a" fill-opacity="0.43"/>
<circle cx="553.7" cy="755.8" r="0.50" fill="#3a3a3a" fill-opacity="0.55"/>
<circle cx="564.5" cy="749.7" r="0.36" fill="#3a3a3a" fill-opacity="0.54"/>
<circle cx="557.0" cy="761.7" r="0.31" fill="#3a3a3a" fill-opacity="0.53"/>
<circle cx="571.9" cy="725.2" r="0.47" fill="#3a3a3a" fill-opacity="0.45"/>
<circle cx="535.9" cy="722.9" r="0.30" fill="#3a3a3a" fill-opacity="0.71"/>
<circle cx="550.6" cy="770.4" r="0.39" fill="#3a3a3a" fill-opacity="0.40"/>
<circle cx="574.5" cy="776.7" r="0.49" fill="#3a3a3a" fill-opacity="0.28"/>
<circle cx="532.7" cy="723.8" r="0.55" fill="#3a3a3a" fill-opacity="0.37"/>
<circle cx="559.7" cy="718.5" r="0.36" fill="#3a3a3a" fill-opacity="0.57"/>
<circle cx="574.8" cy="740.2" r="0.49" fill="#3a3a3a" fill-opacity="0.38"/>
<circle cx="543.7" cy="735.9" r="0.38" fill="#3a3a3a" fill-opacity="0.51"/>
<circle cx="569.8" cy="741.7" r="0.36" fill="#3a3a3a" fill-opacity="0.19"/>
<circle cx="562.3" cy="766.3" r="0.51" fill="#3a3a3a" fill-opacity="0.42"/>
<circle cx="575.6" cy="727.6" r="0.34" fill="#3a3a3a" fill-opacity="0.18"/>
<circle cx="554.4" cy="779.2" r="0.30" fill="#3a3a3a" fill-opacity="0.45"/>
<circle cx="535.0" cy="740.4" r="0.41" fill="#3a3a3a" fill-opacity="0.46"/>
<circle cx="569.5" cy="750.5" r="0.41" fill="#3a3a3a" fill-opacity="0.49"/>
<circle cx="554.3" cy="768.4" r="0.54" fill="#3a3a3a" fill-opacity="0.29"/>
<circle cx="556.5" cy="769.6" r="0.29" fill="#3a3a3a" fill-opacity="0.45"/>
<circle cx="569.6" cy="766.4" r="0.39" fill="#3a3a3a" fill-opacity="0.20"/>
<circle cx="575.9" cy="742.8" r="0.29" fill="#3a3a3a" fill-opacity="0.40"/>
<circle cx="577.8" cy="731.9" r="0.51" fill="#3a3a3a" fill-opacity="0.51"/>
<circle cx="557.8" cy="761.4" r="0.29" fill="#3a3a3a" fill-opacity="0.57"/>
<circle cx="566.4" cy="766.2" r="0.40" fill="#3a3a3a" fill-opacity="0.26"/>
<circle cx="543.9" cy="791.1" r="0.32" fill="#3a3a3a" fill-opacity="0.29"/>
<circle cx="537.4" cy="749.8" r="0.35" fill="#3a3a3a" fill-opacity="0.74"/>
<path d="M526.60,718.10 Q543.70,774.00 532.40,792.30" fill="none" stroke="#2a2a2a" stroke-width="0.8"/>
</g>
<defs><clipPath id="c4"><rect x="582.7" y="718.3" width="99.10" height="74.00"/></clipPath><radialGradient id="lg4" cx="582.7" cy="718.3" r="89.2" gradientUnits="userSpaceOnUse"><stop offset="0" stop-color="#c3c3c3"/><stop offset="0.5" stop-color="#cbcbcb"/><stop offset="1" stop-color="#cecece"/></radialGradient></defs>
<g clip-path="url(#c4)">
<rect x="582.70" y="718.30" width="99.10" height="74.00" fill="url(#lg4)"/>
<path d="M629.00,717.3 L629.00,718.30 Q642.60,754.70 629.80,792.30 L629.80,793.3 L682.8,793.3 L682.8,717.3 Z" fill="#d3d3d3"/>
<circle cx="594.03" cy="728.32" r="1.40" fill="#b8b8b8" fill-opacity="0.5"/>
<circle cx="591.17" cy="725.82" r="1.40" fill="#b8b8b8" fill-opacity="0.5"/>
<circle cx="618.10" cy="775.73" r="1.77" fill="#b8b8b8" fill-opacity="0.5"/>
<circle cx="593.53" cy="757.79" r="1.28" fill="#b8b8b8" fill-opacity="0.5"/>
<circle cx="591.80" cy="728.52" r="1.21" fill="#b8b8b8" fill-opacity="0.5"/>
<circle cx="618.44" cy="777.67" r="1.81" fill="#b8b8b8" fill-opacity="0.5"/>
<circle cx="662.0" cy="732.6" r="0.48" fill="#3a3a3a" fill-opacity="0.53"/>
<circle cx="669.9" cy="724.7" r="0.42" fill="#3a3a3a" fill-opacity="0.23"/>
<circle cx="642.1" cy="750.2" r="0.36" fill="#3a3a3a" fill-opacity="0.66"/>
<circle cx="635.7" cy="753.2" r="0.33" fill="#3a3a3a" fill-opacity="0.46"/>
<circle cx="656.7" cy="742.0" r="0.31" fill="#3a3a3a" fill-opacity="0.18"/>
<circle cx="651.8" cy="784.6" r="0.54" fill="#3a3a3a" fill-opacity="0.16"/>
<circle cx="681.6" cy="727.3" r="0.39" fill="#3a3a3a" fill-opacity="0.59"/>
<circle cx="632.1" cy="720.6" r="0.35" fill="#3a3a3a" fill-opacity="0.35"/>
<circle cx="672.0" cy="766.7" r="0.41" fill="#3a3a3a" fill-opacity="0.19"/>
<circle cx="663.4" cy="757.4" r="0.35" fill="#3a3a3a" fill-opacity="0.57"/>
<circle cx="677.5" cy="723.8" r="0.46" fill="#3a3a3a" fill-opacity="0.17"/>
<circle cx="671.8" cy="727.7" r="0.30" fill="#3a3a3a" fill-opacity="0.23"/>
<circle cx="645.6" cy="760.4" r="0.53" fill="#3a3a3a" fill-opacity="0.36"/>
<circle cx="637.3" cy="783.3" r="0.46" fill="#3a3a3a" fill-opacity="0.42"/>
<circle cx="671.1" cy="775.5" r="0.29" fill="#3a3a3a" fill-opacity="0.17"/>
<circle cx="641.6" cy="754.5" r="0.44" fill="#3a3a3a" fill-opacity="0.32"/>
<circle cx="665.7" cy="779.5" r="0.38" fill="#3a3a3a" fill-opacity="0.50"/>
<circle cx="669.3" cy="731.3" r="0.37" fill="#3a3a3a" fill-opacity="0.39"/>
<circle cx="658.7" cy="791.2" r="0.44" fill="#3a3a3a" fill-opacity="0.29"/>
<circle cx="664.9" cy="777.6" r="0.32" fill="#3a3a3a" fill-opacity="0.41"/>
<circle cx="678.7" cy="726.9" r="0.48" fill="#3a3a3a" fill-opacity="0.43"/>
<circle cx="642.1" cy="784.7" r="0.36" fill="#3a3a3a" fill-opacity="0.37"/>
<circle cx="651.4" cy="763.8" r="0.45" fill="#3a3a3a" fill-opacity="0.22"/>
<circle cx="642.5" cy="741.4" r="0.35" fill="#3a3a3a" fill-opacity="0.36"/>
<circle cx="661.0" cy="768.7" r="0.35" fill="#3a3a3a" fill-opacity="0.39"/>
<circle cx="670.9" cy="770.2" r="0.54" fill="#3a3a3a" fill-opacity="0.55"/>
<circle cx="654.0" cy="759.7" r="0.43" fill="#3a3a3a" fill-opacity="0.38"/>
<circle cx="677.8" cy="729.6" r="0.50" fill="#3a3a3a" fill-opacity="0.25"/>
<circle cx="664.5" cy="792.0" r="0.53" fill="#3a3a3a" fill-opacity="0.32"/>
<circle cx="644.1" cy="785.8" r="0.52" fill="#3a3a3a" fill-opacity="0.42"/>
<circle cx="648.3" cy="741.0" r="0.37" fill="#3a3a3a" fill-opacity="0.53"/>
<circle cx="671.1" cy="784.4" r="0.47" fill="#3a3a3a" fill-opacity="0.42"/>
<circle cx="634.9" cy="791.4" r="0.30" fill="#3a3a3a" fill-opacity="0.61"/>
<circle cx="651.7" cy="726.9" r="0.42" fill="#3a3a3a" fill-opacity="0.15"/>
<circle cx="644.9" cy="780.6" r="0.35" fill="#3a3a3a" fill-opacity="0.38"/>
<circle cx="642.8" cy="745.3" r="0.33" fill="#3a3a3a" fill-opacity="0.36"/>
<circle cx="677.4" cy="788.7" r="0.30" fill="#3a3a3a" fill-opacity="0.56"/>
<circle cx="643.7" cy="762.7" r="0.48" fill="#3a3a3a" fill-opacity="0.26"/>
<circle cx="645.6" cy="730.9" r="0.43" fill="#3a3a3a" fill-opacity="0.58"/>
<circle cx="675.5" cy="737.4" r="0.43" fill="#3a3a3a" fill-opacity="0.31"/>
<circle cx="653.2" cy="762.5" r="0.52" fill="#3a3a3a" fill-opacity="0.19"/>
<circle cx="676.0" cy="776.4" r="0.35" fill="#3a3a3a" fill-opacity="0.18"/>
<circle cx="635.9" cy="736.6" r="0.33" fill="#3a3a3a" fill-opacity="0.49"/>
<circle cx="647.3" cy="758.6" r="0.33" fill="#3a3a3a" fill-opacity="0.58"/>
<circle cx="650.5" cy="772.0" r="0.37" fill="#3a3a3a" fill-opacity="0.29"/>
<circle cx="665.4" cy="731.4" r="0.29" fill="#3a3a3a" fill-opacity="0.15"/>
<circle cx="668.6" cy="718.5" r="0.34" fill="#3a3a3a" fill-opacity="0.26"/>
<circle cx="655.3" cy="739.8" r="0.31" fill="#3a3a3a" fill-opacity="0.17"/>
<circle cx="638.0" cy="790.4" r="0.37" fill="#3a3a3a" fill-opacity="0.59"/>
<circle cx="649.0" cy="784.1" r="0.31" fill="#3a3a3a" fill-opacity="0.56"/>
<circle cx="670.0" cy="790.8" r="0.40" fill="#3a3a3a" fill-opacity="0.47"/>
<circle cx="669.8" cy="760.9" r="0.36" fill="#3a3a3a" fill-opacity="0.30"/>
<circle cx="638.6" cy="767.2" r="0.49" fill="#3a3a3a" fill-opacity="0.65"/>
<circle cx="656.3" cy="767.8" r="0.33" fill="#3a3a3a" fill-opacity="0.44"/>
<circle cx="654.2" cy="765.5" r="0.30" fill="#3a3a3a" fill-opacity="0.43"/>
<circle cx="639.6" cy="761.0" r="0.53" fill="#3a3a3a" fill-opacity="0.42"/>
<circle cx="668.1" cy="743.3" r="0.38" fill="#3a3a3a" fill-opacity="0.24"/>
<circle cx="667.0" cy="765.6" r="0.48" fill="#3a3a3a" fill-opacity="0.52"/>
<circle cx="652.5" cy="750.0" r="0.31" fill="#3a3a3a" fill-opacity="0.21"/>
<circle cx="638.6" cy="783.5" r="0.53" fill="#3a3a3a" fill-opacity="0.66"/>
<circle cx="651.3" cy="747.2" r="0.45" fill="#3a3a3a" fill-opacity="0.24"/>
<circle cx="663.1" cy="761.4" r="0.28" fill="#3a3a3a" fill-opacity="0.33"/>
<circle cx="642.0" cy="730.3" r="0.52" fill="#3a3a3a" fill-opacity="0.42"/>
<circle cx="652.9" cy="732.4" r="0.32" fill="#3a3a3a" fill-opacity="0.49"/>
<circle cx="647.9" cy="773.7" r="0.42" fill="#3a3a3a" fill-opacity="0.37"/>
<circle cx="678.3" cy="724.6" r="0.44" fill="#3a3a3a" fill-opacity="0.42"/>
<circle cx="674.6" cy="751.2" r="0.31" fill="#3a3a3a" fill-opacity="0.49"/>
<circle cx="650.4" cy="739.0" r="0.28" fill="#3a3a3a" fill-opacity="0.33"/>
<circle cx="637.8" cy="786.5" r="0.52" fill="#3a3a3a" fill-opacity="0.57"/>
<circle cx="670.0" cy="730.4" r="0.36" fill="#3a3a3a" fill-opacity="0.31"/>
<circle cx="635.4" cy="774.3" r="0.37" fill="#3a3a3a" fill-opacity="0.56"/>
<circle cx="643.1" cy="762.6" r="0.53" fill="#3a3a3a" fill-opacity="0.46"/>
<circle cx="656.9" cy="784.0" r="0.33" fill="#3a3a3a" fill-opacity="0.20"/>
<circle cx="637.8" cy="752.8" r="0.44" fill="#3a3a3a" fill-opacity="0.49"/>
<circle cx="663.8" cy="766.4" r="0.34" fill="#3a3a3a" fill-opacity="0.60"/>
<circle cx="646.3" cy="753.0" r="0.42" fill="#3a3a3a" fill-opacity="0.59"/>
<circle cx="665.8" cy="745.0" r="0.30" fill="#3a3a3a" fill-opacity="0.39"/>
<circle cx="640.1" cy="747.6" r="0.51" fill="#3a3a3a" fill-opacity="0.43"/>
<circle cx="639.2" cy="735.3" r="0.43" fill="#3a3a3a" fill-opacity="0.33"/>
<circle cx="661.4" cy="730.6" r="0.35" fill="#3a3a3a" fill-opacity="0.28"/>
<circle cx="660.3" cy="760.0" r="0.54" fill="#3a3a3a" fill-opacity="0.19"/>
<circle cx="645.0" cy="776.5" r="0.36" fill="#3a3a3a" fill-opacity="0.31"/>
<circle cx="659.8" cy="727.6" r="0.54" fill="#3a3a3a" fill-opacity="0.49"/>
<circle cx="661.1" cy="742.8" r="0.39" fill="#3a3a3a" fill-opacity="0.21"/>
<circle cx="663.5" cy="729.9" r="0.34" fill="#3a3a3a" fill-opacity="0.27"/>
<circle cx="677.8" cy="772.5" r="0.40" fill="#3a3a3a" fill-opacity="0.30"/>
<circle cx="642.8" cy="734.6" r="0.43" fill="#3a3a3a" fill-opacity="0.35"/>
<circle cx="663.1" cy="745.7" r="0.43" fill="#3a3a3a" fill-opacity="0.36"/>
<circle cx="646.1" cy="776.5" r="0.31" fill="#3a3a3a" fill-opacity="0.21"/>
<circle cx="648.7" cy="768.6" r="0.34" fill="#3a3a3a" fill-opacity="0.33"/>
<circle cx="639.1" cy="750.0" r="0.48" fill="#3a3a3a" fill-opacity="0.70"/>
<circle cx="663.0" cy="791.0" r="0.42" fill="#3a3a3a" fill-opacity="0.46"/>
<circle cx="675.6" cy="788.4" r="0.41" fill="#3a3a3a" fill-opacity="0.34"/>
<circle cx="678.7" cy="769.2" r="0.52" fill="#3a3a3a" fill-opacity="0.39"/>
<circle cx="652.7" cy="745.1" r="0.33" fill="#3a3a3a" fill-opacity="0.45"/>
<circle cx="666.1" cy="791.9" r="0.55" fill="#3a3a3a" fill-opacity="0.51"/>
<circle cx="668.8" cy="757.2" r="0.31" fill="#3a3a3a" fill-opacity="0.47"/>
<circle cx="638.3" cy="755.4" r="0.35" fill="#3a3a3a" fill-opacity="0.36"/>
<circle cx="640.5" cy="746.4" r="0.54" fill="#3a3a3a" fill-opacity="0.49"/>
<circle cx="659.8" cy="721.4" r="0.47" fill="#3a3a3a" fill-opacity="0.28"/>
<circle cx="660.2" cy="754.6" r="0.53" fill="#3a3a3a" fill-opacity="0.48"/>
<circle cx="660.7" cy="768.2" r="0.39" fill="#3a3a3a" fill-opacity="0.20"/>
<circle cx="666.5" cy="732.3" r="0.41" fill="#3a3a3a" fill-opacity="0.49"/>
<circle cx="669.0" cy="727.6" r="0.54" fill="#3a3a3a" fill-opacity="0.29"/>
<circle cx="674.4" cy="736.9" r="0.30" fill="#3a3a3a" fill-opacity="0.38"/>
<circle cx="639.8" cy="750.3" r="0.46" fill="#3a3a3a" fill-opacity="0.54"/>
<circle cx="640.0" cy="767.1" r="0.31" fill="#3a3a3a" fill-opacity="0.55"/>
<circle cx="643.5" cy="747.9" r="0.50" fill="#3a3a3a" fill-opacity="0.52"/>
<circle cx="638.9" cy="787.5" r="0.44" fill="#3a3a3a" fill-opacity="0.27"/>
<circle cx="676.1" cy="770.8" r="0.54" fill="#3a3a3a" fill-opacity="0.21"/>
<circle cx="676.5" cy="758.3" r="0.43" fill="#3a3a3a" fill-opacity="0.52"/>
<circle cx="637.2" cy="718.4" r="0.46" fill="#3a3a3a" fill-opacity="0.37"/>
<circle cx="638.5" cy="772.7" r="0.48" fill="#3a3a3a" fill-opacity="0.40"/>
<circle cx="666.3" cy="734.6" r="0.33" fill="#3a3a3a" fill-opacity="0.51"/>
<circle cx="667.2" cy="728.6" r="0.45" fill="#3a3a3a" fill-opacity="0.56"/>
<circle cx="633.3" cy="723.8" r="0.49" fill="#3a3a3a" fill-opacity="0.69"/>
<circle cx="639.2" cy="737.9" r="0.44" fill="#3a3a3a" fill-opacity="0.26"/>
<circle cx="654.4" cy="722.2" r="0.46" fill="#3a3a3a" fill-opacity="0.58"/>
<circle cx="646.1" cy="761.4" r="0.39" fill="#3a3a3a" fill-opacity="0.19"/>
<circle cx="645.5" cy="781.3" r="0.32" fill="#3a3a3a" fill-opacity="0.59"/>
<circle cx="679.7" cy="719.4" r="0.42" fill="#3a3a3a" fill-opacity="0.19"/>
<circle cx="646.4" cy="746.5" r="0.29" fill="#3a3a3a" fill-opacity="0.44"/>
<circle cx="658.5" cy="721.2" r="0.55" fill="#3a3a3a" fill-opacity="0.22"/>
<circle cx="656.4" cy="777.2" r="0.32" fill="#3a3a3a" fill-opacity="0.28"/>
<circle cx="662.7" cy="765.8" r="0.46" fill="#3a3a3a" fill-opacity="0.44"/>
<circle cx="640.6" cy="745.8" r="0.36" fill="#3a3a3a" fill-opacity="0.50"/>
<circle cx="670.3" cy="760.0" r="0.54" fill="#3a3a3a" fill-opacity="0.23"/>
<circle cx="638.2" cy="784.0" r="0.34" fill="#3a3a3a" fill-opacity="0.34"/>
<circle cx="666.8" cy="742.1" r="0.54" fill="#3a3a3a" fill-opacity="0.29"/>
<circle cx="653.5" cy="736.4" r="0.37" fill="#3a3a3a" fill-opacity="0.31"/>
<circle cx="659.7" cy="732.2" r="0.49" fill="#3a3a3a" fill-opacity="0.44"/>
<circle cx="651.2" cy="718.9" r="0.52" fill="#3a3a3a" fill-opacity="0.21"/>
<circle cx="666.8" cy="779.5" r="0.48" fill="#3a3a3a" fill-opacity="0.27"/>
<circle cx="664.6" cy="722.7" r="0.50" fill="#3a3a3a" fill-opacity="0.58"/>
<circle cx="638.0" cy="772.4" r="0.53" fill="#3a3a3a" fill-opacity="0.41"/>
<circle cx="644.0" cy="769.9" r="0.30" fill="#3a3a3a" fill-opacity="0.75"/>
<circle cx="671.5" cy="753.7" r="0.34" fill="#3a3a3a" fill-opacity="0.57"/>
<circle cx="655.2" cy="753.7" r="0.49" fill="#3a3a3a" fill-opacity="0.20"/>
<circle cx="653.1" cy="728.6" r="0.34" fill="#3a3a3a" fill-opacity="0.29"/>
<circle cx="639.7" cy="736.6" r="0.29" fill="#3a3a3a" fill-opacity="0.50"/>
<circle cx="638.7" cy="774.9" r="0.45" fill="#3a3a3a" fill-opacity="0.42"/>
<circle cx="658.4" cy="783.9" r="0.52" fill="#3a3a3a" fill-opacity="0.35"/>
<circle cx="657.7" cy="737.4" r="0.35" fill="#3a3a3a" fill-opacity="0.55"/>
<circle cx="656.1" cy="725.0" r="0.33" fill="#3a3a3a" fill-opacity="0.16"/>
<circle cx="678.4" cy="779.0" r="0.50" fill="#3a3a3a" fill-opacity="0.36"/>
<circle cx="673.1" cy="789.1" r="0.29" fill="#3a3a3a" fill-opacity="0.23"/>
<circle cx="637.3" cy="776.3" r="0.52" fill="#3a3a3a" fill-opacity="0.70"/>
<circle cx="638.7" cy="731.6" r="0.52" fill="#3a3a3a" fill-opacity="0.46"/>
<circle cx="635.6" cy="727.2" r="0.40" fill="#3a3a3a" fill-opacity="0.25"/>
<circle cx="649.6" cy="769.9" r="0.33" fill="#3a3a3a" fill-opacity="0.48"/>
<circle cx="643.8" cy="738.2" r="0.30" fill="#3a3a3a" fill-opacity="0.62"/>
<circle cx="645.5" cy="769.4" r="0.41" fill="#3a3a3a" fill-opacity="0.32"/>
<circle cx="638.4" cy="767.9" r="0.54" fill="#3a3a3a" fill-opacity="0.31"/>
<circle cx="664.5" cy="747.4" r="0.31" fill="#3a3a3a" fill-opacity="0.17"/>
<circle cx="639.4" cy="773.0" r="0.49" fill="#3a3a3a" fill-opacity="0.25"/>
<circle cx="642.8" cy="743.3" r="0.36" fill="#3a3a3a" fill-opacity="0.41"/>
<circle cx="632.3" cy="785.9" r="0.50" fill="#3a3a3a" fill-opacity="0.60"/>
<circle cx="669.4" cy="738.6" r="0.51" fill="#3a3a3a" fill-opacity="0.21"/>
<circle cx="642.7" cy="733.7" r="0.28" fill="#3a3a3a" fill-opacity="0.45"/>
<circle cx="669.9" cy="720.9" r="0.34" fill="#3a3a3a" fill-opacity="0.58"/>
<circle cx="639.6" cy="766.6" r="0.28" fill="#3a3a3a" fill-opacity="0.25"/>
<circle cx="670.5" cy="771.6" r="0.51" fill="#3a3a3a" fill-opacity="0.56"/>
<circle cx="654.1" cy="777.9" r="0.45" fill="#3a3a3a" fill-opacity="0.48"/>
<circle cx="639.6" cy="737.3" r="0.41" fill="#3a3a3a" fill-opacity="0.26"/>
<circle cx="657.0" cy="789.3" r="0.45" fill="#3a3a3a" fill-opacity="0.59"/>
<circle cx="669.3" cy="774.7" r="0.50" fill="#3a3a3a" fill-opacity="0.26"/>
<circle cx="629.7" cy="719.6" r="0.50" fill="#3a3a3a" fill-opacity="0.72"/>
<circle cx="660.9" cy="724.9" r="0.53" fill="#3a3a3a" fill-opacity="0.57"/>
<circle cx="679.3" cy="779.3" r="0.42" fill="#3a3a3a" fill-opacity="0.54"/>
<circle cx="640.4" cy="774.8" r="0.30" fill="#3a3a3a" fill-opacity="0.62"/>
<circle cx="666.4" cy="789.2" r="0.38" fill="#3a3a3a" fill-opacity="0.28"/>
<circle cx="652.4" cy="746.6" r="0.34" fill="#3a3a3a" fill-opacity="0.52"/>
<circle cx="642.0" cy="752.6" r="0.30" fill="#3a3a3a" fill-opacity="0.64"/>
<circle cx="639.5" cy="778.1" r="0.42" fill="#3a3a3a" fill-opacity="0.63"/>
<circle cx="640.8" cy="722.2" r="0.45" fill="#3a3a3a" fill-opacity="0.40"/>
<circle cx="679.7" cy="742.4" r="0.40" fill="#3a3a3a" fill-opacity="0.33"/>
<circle cx="637.5" cy="719.8" r="0.45" fill="#3a3a3a" fill-opacity="0.25"/>
<circle cx="679.1" cy="785.4" r="0.46" fill="#3a3a3a" fill-opacity="0.30"/>
<circle cx="639.1" cy="749.6" r="0.32" fill="#3a3a3a" fill-opacity="0.69"/>
<circle cx="643.2" cy="780.2" r="0.47" fill="#3a3a3a" fill-opacity="0.55"/>
<circle cx="643.4" cy="758.3" r="0.49" fill="#3a3a3a" fill-opacity="0.37"/>
<circle cx="659.0" cy="727.6" r="0.40" fill="#3a3a3a" fill-opacity="0.53"/>
<circle cx="671.9" cy="759.8" r="0.52" fill="#3a3a3a" fill-opacity="0.15"/>
<circle cx="645.7" cy="753.1" r="0.51" fill="#3a3a3a" fill-opacity="0.55"/>
<circle cx="638.0" cy="783.2" r="0.47" fill="#3a3a3a" fill-opacity="0.66"/>
<circle cx="674.1" cy="754.5" r="0.50" fill="#3a3a3a" fill-opacity="0.53"/>
<circle cx="642.3" cy="732.5" r="0.33" fill="#3a3a3a" fill-opacity="0.66"/>
<circle cx="666.8" cy="774.9" r="0.47" fill="#3a3a3a" fill-opacity="0.35"/>
<circle cx="664.9" cy="722.1" r="0.42" fill="#3a3a3a" fill-opacity="0.34"/>
<circle cx="658.1" cy="763.5" r="0.48" fill="#3a3a3a" fill-opacity="0.30"/>
<circle cx="673.8" cy="784.9" r="0.32" fill="#3a3a3a" fill-opacity="0.20"/>
<circle cx="663.1" cy="775.8" r="0.36" fill="#3a3a3a" fill-opacity="0.23"/>
<circle cx="676.2" cy="782.7" r="0.33" fill="#3a3a3a" fill-opacity="0.25"/>
<circle cx="637.9" cy="783.1" r="0.36" fill="#3a3a3a" fill-opacity="0.45"/>
<circle cx="677.1" cy="774.5" r="0.36" fill="#3a3a3a" fill-opacity="0.29"/>
<circle cx="635.4" cy="724.8" r="0.54" fill="#3a3a3a" fill-opacity="0.68"/>
<circle cx="635.8" cy="718.4" r="0.33" fill="#3a3a3a" fill-opacity="0.73"/>
<circle cx="673.7" cy="736.9" r="0.34" fill="#3a3a3a" fill-opacity="0.36"/>
<circle cx="669.1" cy="724.3" r="0.40" fill="#3a3a3a" fill-opacity="0.30"/>
<circle cx="663.6" cy="762.6" r="0.52" fill="#3a3a3a" fill-opacity="0.37"/>
<circle cx="654.4" cy="764.7" r="0.51" fill="#3a3a3a" fill-opacity="0.24"/>
<circle cx="672.2" cy="777.2" r="0.40" fill="#3a3a3a" fill-opacity="0.23"/>
<circle cx="663.7" cy="747.7" r="0.31" fill="#3a3a3a" fill-opacity="0.58"/>
<circle cx="680.0" cy="738.3" r="0.42" fill="#3a3a3a" fill-opacity="0.48"/>
<circle cx="673.6" cy="769.2" r="0.49" fill="#3a3a3a" fill-opacity="0.16"/>
<circle cx="670.1" cy="747.4" r="0.46" fill="#3a3a3a" fill-opacity="0.38"/>
<circle cx="638.6" cy="748.8" r="0.50" fill="#3a3a3a" fill-opacity="0.39"/>
<circle cx="669.1" cy="721.5" r="0.52" fill="#3a3a3a" fill-opacity="0.60"/>
<circle cx="637.8" cy="720.2" r="0.31" fill="#3a3a3a" fill-opacity="0.64"/>
<circle cx="648.3" cy="785.4" r="0.28" fill="#3a3a3a" fill-opacity="0.45"/>
<circle cx="669.4" cy="731.3" r="0.41" fill="#3a3a3a" fill-opacity="0.33"/>
<circle cx="668.4" cy="759.5" r="0.39" fill="#3a3a3a" fill-opacity="0.48"/>
<circle cx="679.4" cy="735.6" r="0.43" fill="#3a3a3a" fill-opacity="0.34"/>
<circle cx="646.1" cy="779.7" r="0.29" fill="#3a3a3a" fill-opacity="0.40"/>
<circle cx="643.9" cy="745.7" r="0.32" fill="#3a3a3a" fill-opacity="0.38"/>
<circle cx="666.6" cy="726.5" r="0.37" fill="#3a3a3a" fill-opacity="0.40"/>
<circle cx="655.9" cy="778.0" r="0.43" fill="#3a3a3a" fill-opacity="0.27"/>
<circle cx="658.5" cy="739.2" r="0.48" fill="#3a3a3a" fill-opacity="0.24"/>
<circle cx="669.8" cy="757.9" r="0.48" fill="#3a3a3a" fill-opacity="0.27"/>
<circle cx="657.8" cy="789.8" r="0.54" fill="#3a3a3a" fill-opacity="0.58"/>
<circle cx="659.2" cy="749.6" r="0.32" fill="#3a3a3a" fill-opacity="0.36"/>
<circle cx="630.9" cy="720.4" r="0.29" fill="#3a3a3a" fill-opacity="0.60"/>
<circle cx="642.0" cy="751.9" r="0.49" fill="#3a3a3a" fill-opacity="0.29"/>
<circle cx="673.6" cy="737.7" r="0.34" fill="#3a3a3a" fill-opacity="0.35"/>
<circle cx="673.3" cy="784.6" r="0.31" fill="#3a3a3a" fill-opacity="0.38"/>
<circle cx="653.5" cy="769.8" r="0.39" fill="#3a3a3a" fill-opacity="0.57"/>
<circle cx="638.0" cy="758.5" r="0.38" fill="#3a3a3a" fill-opacity="0.32"/>
<circle cx="668.0" cy="784.8" r="0.36" fill="#3a3a3a" fill-opacity="0.28"/>
<circle cx="643.7" cy="768.1" r="0.53" fill="#3a3a3a" fill-opacity="0.33"/>
<circle cx="645.1" cy="764.5" r="0.29" fill="#3a3a3a" fill-opacity="0.49"/>
<circle cx="657.2" cy="791.7" r="0.41" fill="#3a3a3a" fill-opacity="0.56"/>
<circle cx="663.4" cy="772.3" r="0.35" fill="#3a3a3a" fill-opacity="0.29"/>
<circle cx="632.2" cy="792.2" r="0.50" fill="#3a3a3a" fill-opacity="0.64"/>
<path d="M628.8,718.4 L629.1,720.0 L629.3,721.7 L629.6,723.3 L630.5,724.8 L630.4,726.5 L628.8,728.1 L629.8,729.6 L629.6,731.3 L632.0,729.7 L631.7,731.7 L631.2,733.7 L633.6,740.9 L635.2,752.1 L635.7,760.2 L634.7,773.0 L632.8,782.7 L632.3,784.4 L631.0,785.8 L630.4,787.5 L629.4,789.0 L628.8,790.7 L630.4,792.3" fill="none" stroke="#ee1c26" stroke-width="0.85" stroke-linejoin="round"/>
</g>
<line x1="570.80" y1="831.20" x2="570.80" y2="933.80" stroke="#777" stroke-width="0.9"/>
<line x1="568.50" y1="933.80" x2="570.80" y2="933.80" stroke="#777" stroke-width="0.9"/>
<text x="567.60" y="936.61" font-size="7.8" text-anchor="end" fill="#222">0</text>
<line x1="568.50" y1="899.56" x2="570.80" y2="899.56" stroke="#777" stroke-width="0.9"/>
<text x="567.60" y="902.37" font-size="7.8" text-anchor="end" fill="#222">200</text>
<line x1="568.50" y1="865.32" x2="570.80" y2="865.32" stroke="#777" stroke-width="0.9"/>
<text x="567.60" y="868.13" font-size="7.8" text-anchor="end" fill="#222">400</text>
<line x1="568.50" y1="831.08" x2="570.80" y2="831.08" stroke="#777" stroke-width="0.9"/>
<text x="567.60" y="833.89" font-size="7.8" text-anchor="end" fill="#222">600</text>
<line x1="570.80" y1="933.80" x2="674.00" y2="933.80" stroke="#888" stroke-width="0.9"/>
<line x1="581.90" y1="933.80" x2="581.90" y2="936.10" stroke="#888" stroke-width="0.8"/>
<line x1="604.00" y1="933.80" x2="604.00" y2="936.10" stroke="#888" stroke-width="0.8"/>
<line x1="640.80" y1="933.80" x2="640.80" y2="936.10" stroke="#888" stroke-width="0.8"/>
<line x1="663.10" y1="933.80" x2="663.10" y2="936.10" stroke="#888" stroke-width="0.8"/>
<rect x="596.3" y="870.2" width="15.4" height="63.6" fill="#9a9a9a" stroke="#4c4c4c" stroke-width="0.8"/>
<rect x="655.5" y="906.3" width="15.3" height="27.5" fill="#d8d8d8" stroke="#5c5c5c" stroke-width="0.8"/>
<circle cx="575.60" cy="933.80" r="1.60" fill="#dc771c" stroke="#8a4a10" stroke-width="0.3"/>
<circle cx="578.20" cy="933.80" r="1.60" fill="#dc771c" stroke="#8a4a10" stroke-width="0.3"/>
<circle cx="580.80" cy="933.80" r="1.60" fill="#dc771c" stroke="#8a4a10" stroke-width="0.3"/>
<circle cx="583.40" cy="933.80" r="1.60" fill="#dc771c" stroke="#8a4a10" stroke-width="0.3"/>
<circle cx="586.00" cy="933.80" r="1.60" fill="#dc771c" stroke="#8a4a10" stroke-width="0.3"/>
<circle cx="588.60" cy="933.80" r="1.60" fill="#dc771c" stroke="#8a4a10" stroke-width="0.3"/>
<circle cx="634.00" cy="933.80" r="1.60" fill="#1a1aa6"/>
<circle cx="636.60" cy="933.80" r="1.60" fill="#1a1aa6"/>
<circle cx="639.20" cy="933.80" r="1.60" fill="#1a1aa6"/>
<circle cx="641.80" cy="933.80" r="1.60" fill="#1a1aa6"/>
<circle cx="644.40" cy="933.80" r="1.60" fill="#1a1aa6"/>
<circle cx="647.00" cy="933.80" r="1.60" fill="#1a1aa6"/>
<circle cx="640.70" cy="927.80" r="1.70" fill="#1a1aa6"/>
<circle cx="604.10" cy="848.80" r="1.50" fill="#dc771c" stroke="#7a3c08" stroke-width="0.35"/>
<circle cx="604.10" cy="858.50" r="1.50" fill="#dc771c" stroke="#7a3c08" stroke-width="0.35"/>
<circle cx="604.10" cy="864.40" r="1.50" fill="#dc771c" stroke="#7a3c08" stroke-width="0.35"/>
<circle cx="597.80" cy="872.70" r="1.50" fill="#dc771c" stroke="#7a3c08" stroke-width="0.35"/>
<circle cx="610.10" cy="873.90" r="1.50" fill="#dc771c" stroke="#7a3c08" stroke-width="0.35"/>
<circle cx="604.10" cy="874.20" r="1.50" fill="#dc771c" stroke="#7a3c08" stroke-width="0.35"/>
<circle cx="603.80" cy="897.30" r="1.50" fill="#dc771c" stroke="#7a3c08" stroke-width="0.35"/>
<circle cx="663.10" cy="885.10" r="1.55" fill="#1a1aa6"/>
<circle cx="663.10" cy="896.10" r="1.55" fill="#1a1aa6"/>
<circle cx="660.00" cy="908.80" r="1.55" fill="#1a1aa6"/>
<circle cx="665.50" cy="911.40" r="1.55" fill="#1a1aa6"/>
<circle cx="663.10" cy="929.30" r="1.55" fill="#1a1aa6"/>
<line x1="604.00" y1="864.30" x2="604.00" y2="875.20" stroke="#222" stroke-width="0.9"/>
<line x1="600.10" y1="864.30" x2="608.00" y2="864.30" stroke="#222" stroke-width="0.9"/>
<line x1="600.10" y1="875.20" x2="608.00" y2="875.20" stroke="#222" stroke-width="0.9"/>
<line x1="663.10" y1="898.20" x2="663.10" y2="913.20" stroke="#333" stroke-width="0.9"/>
<line x1="659.60" y1="898.20" x2="666.60" y2="898.20" stroke="#333" stroke-width="0.9"/>
<line x1="659.60" y1="913.20" x2="666.60" y2="913.20" stroke="#333" stroke-width="0.9"/>
<path d="M581.60,843.90V839.10H604.00V843.90" fill="none" stroke="#555" stroke-width="0.9"/>
<text x="593.22" y="837.73" font-size="6.2" font-weight="bold" text-anchor="middle" fill="#333" letter-spacing="0.85">****</text>
<path d="M603.80,829.20V824.40H662.80V829.20" fill="none" stroke="#555" stroke-width="0.9"/>
<text x="633.72" y="823.03" font-size="6.2" font-weight="bold" text-anchor="middle" fill="#333" letter-spacing="0.85">****</text>
<path d="M640.40,843.90V839.10H662.80V843.90" fill="none" stroke="#555" stroke-width="0.9"/>
<text x="652.02" y="837.73" font-size="6.2" font-weight="bold" text-anchor="middle" fill="#333" letter-spacing="0.85">***</text>
<text transform="translate(550.90,881.5) rotate(-90)" font-size="7.9" text-anchor="middle" fill="#222">Invasion index</text>
<text x="582.00" y="948.23" font-size="7.85" text-anchor="middle" fill="#222">Ctrl</text>
<text x="640.90" y="948.23" font-size="7.85" text-anchor="middle" fill="#222">Ctrl</text>
<text x="595.2" y="948.20" font-size="7.85" fill="#222">N<tspan font-size="5.6" dy="-3.6">High</tspan></text>
<text x="653.9" y="948.20" font-size="7.85" fill="#222">N<tspan font-size="5.6" dy="-3.6">High</tspan></text>
<line x1="574.20" y1="953.30" x2="610.80" y2="953.30" stroke="#555" stroke-width="0.8"/>
<line x1="635.10" y1="953.30" x2="672.40" y2="953.30" stroke="#999" stroke-width="0.8"/>
<text x="592.30" y="962.21" font-size="7.8" text-anchor="middle" fill="#222">Vehicle</text>
<text x="627.90" y="962.24" font-size="7.9" fill="#222">JSH-23 [10 µM]</text>
</svg>
</body></html>
